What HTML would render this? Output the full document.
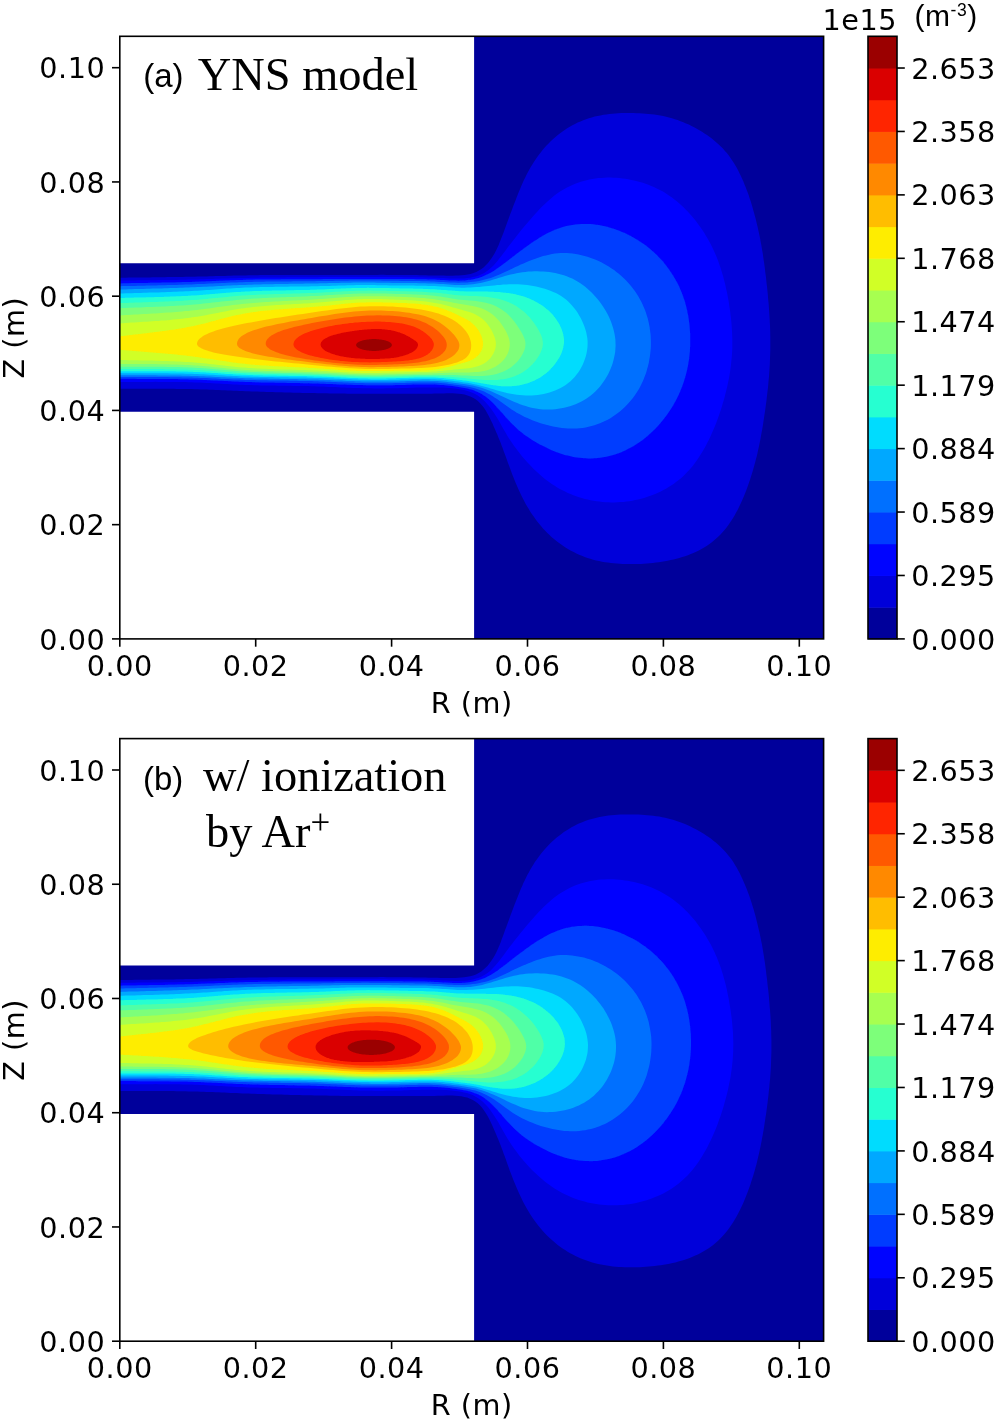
<!DOCTYPE html>
<html><head><meta charset="utf-8"><title>Figure</title>
<style>html,body{margin:0;padding:0;background:#fff;overflow:hidden}svg{display:block}</style></head>
<body><svg width="996" height="1421" viewBox="0 0 996 1421">
<defs><filter id="soft" x="-5%" y="-5%" width="110%" height="110%"><feGaussianBlur stdDeviation="0.7"/></filter></defs>
<rect width="996" height="1421" fill="#fff"/>
<clipPath id="clip36"><path d="M119.8,263.2 H474.1 V36.3 H823.6 V638.9 H474.1 V411.8 H119.8 Z"/></clipPath>
<g clip-path="url(#clip36)"><g filter="url(#soft)">
<rect x="107.8" y="24.299999999999997" width="727.8000000000001" height="626.6" fill="#00009b"/>
<path d="M89.8,278.2 L92.8,278.1 L95.8,278.1 L98.8,278.0 L101.8,278.0 L104.8,277.9 L107.8,277.9 L110.8,277.8 L113.8,277.8 L116.8,277.8 L119.8,277.7 L122.8,277.7 L125.8,277.7 L128.8,277.6 L131.8,277.6 L134.8,277.5 L137.8,277.5 L140.8,277.5 L143.8,277.4 L146.8,277.4 L149.8,277.4 L152.8,277.3 L155.8,277.3 L158.8,277.3 L161.8,277.2 L164.8,277.2 L167.8,277.1 L170.8,277.1 L173.8,277.1 L176.8,277.0 L179.8,277.0 L182.8,276.9 L185.8,276.8 L188.8,276.8 L191.8,276.7 L194.8,276.7 L197.8,276.6 L200.8,276.5 L203.8,276.4 L206.8,276.4 L209.8,276.3 L212.8,276.2 L215.8,276.1 L218.8,276.0 L221.8,275.9 L224.8,275.9 L227.8,275.8 L230.8,275.7 L233.8,275.6 L236.8,275.5 L239.8,275.5 L242.8,275.4 L245.7,275.4 L248.7,275.3 L251.7,275.3 L254.7,275.2 L257.7,275.2 L260.7,275.1 L263.7,275.1 L266.7,275.1 L269.7,275.0 L272.7,275.0 L275.7,275.0 L278.7,275.0 L281.7,275.0 L284.7,274.9 L287.7,274.9 L290.7,274.9 L293.7,274.9 L296.7,274.9 L299.7,274.9 L302.7,274.9 L305.7,274.9 L308.7,274.9 L311.7,274.9 L314.7,274.9 L317.7,274.9 L320.7,274.9 L323.7,274.9 L326.7,274.9 L329.7,274.9 L332.7,274.9 L335.7,274.9 L338.7,274.9 L341.7,274.9 L344.7,274.9 L347.7,274.9 L350.7,274.9 L353.7,274.9 L356.7,274.9 L359.7,274.9 L362.7,274.9 L365.7,274.9 L368.7,274.9 L371.7,274.9 L374.7,274.9 L377.7,274.9 L380.7,274.8 L383.7,274.8 L386.7,274.9 L389.7,274.9 L392.7,274.9 L395.7,274.9 L398.7,274.9 L401.7,274.9 L404.7,275.0 L407.7,275.0 L410.7,275.0 L413.7,275.1 L416.7,275.1 L419.7,275.2 L422.7,275.3 L425.7,275.3 L428.7,275.4 L431.7,275.4 L434.7,275.5 L437.7,275.5 L440.7,275.6 L443.7,275.6 L446.7,275.7 L449.7,275.7 L452.7,275.7 L455.7,275.6 L458.7,275.4 L461.7,275.2 L464.7,274.9 L467.6,274.5 L470.6,273.9 L473.5,273.0 L476.3,272.0 L478.9,270.6 L481.5,269.0 L483.8,267.2 L486.0,265.1 L488.0,262.9 L489.9,260.5 L491.7,258.1 L493.3,255.6 L494.8,253.0 L496.2,250.3 L497.5,247.6 L498.7,244.9 L499.8,242.1 L500.9,239.3 L502.0,236.5 L503.1,233.7 L504.1,230.9 L505.2,228.1 L506.2,225.3 L507.2,222.5 L508.3,219.6 L509.3,216.8 L510.3,214.0 L511.4,211.2 L512.4,208.4 L513.5,205.6 L514.6,202.8 L515.7,200.0 L516.7,197.2 L517.8,194.4 L519.0,191.6 L520.1,188.9 L521.3,186.1 L522.5,183.3 L523.7,180.6 L525.0,177.9 L526.3,175.2 L527.7,172.5 L529.1,169.9 L530.6,167.3 L532.2,164.7 L533.7,162.2 L535.4,159.7 L537.1,157.2 L538.9,154.8 L540.7,152.4 L542.6,150.1 L544.5,147.8 L546.5,145.6 L548.6,143.4 L550.7,141.3 L552.9,139.2 L555.2,137.2 L557.5,135.3 L559.8,133.5 L562.2,131.7 L564.7,130.0 L567.2,128.3 L569.8,126.8 L572.4,125.3 L575.0,123.9 L577.7,122.6 L580.5,121.4 L583.3,120.3 L586.1,119.2 L588.9,118.3 L591.8,117.4 L594.7,116.6 L597.6,116.0 L600.5,115.4 L603.5,114.8 L606.5,114.4 L609.4,114.0 L612.4,113.7 L615.4,113.5 L618.4,113.3 L621.4,113.1 L624.4,113.1 L627.4,113.0 L630.4,113.1 L633.4,113.1 L636.4,113.2 L639.4,113.3 L642.4,113.5 L645.4,113.7 L648.4,113.9 L651.4,114.2 L654.3,114.6 L657.3,115.0 L660.3,115.5 L663.2,116.1 L666.1,116.8 L669.0,117.5 L671.9,118.3 L674.8,119.2 L677.6,120.1 L680.5,121.2 L683.3,122.3 L686.0,123.4 L688.8,124.6 L691.5,125.9 L694.1,127.3 L696.8,128.7 L699.4,130.2 L702.0,131.7 L704.5,133.4 L707.0,135.0 L709.4,136.8 L711.8,138.6 L714.1,140.5 L716.4,142.4 L718.7,144.4 L720.8,146.5 L722.9,148.6 L724.9,150.9 L726.9,153.1 L728.8,155.5 L730.5,157.9 L732.2,160.4 L733.9,162.9 L735.4,165.5 L736.9,168.1 L738.3,170.7 L739.6,173.4 L740.9,176.1 L742.1,178.8 L743.4,181.6 L744.5,184.4 L745.6,187.1 L746.7,189.9 L747.8,192.8 L748.8,195.6 L749.7,198.4 L750.7,201.3 L751.5,204.1 L752.4,207.0 L753.2,209.9 L754.0,212.8 L754.8,215.7 L755.6,218.6 L756.3,221.5 L757.0,224.4 L757.7,227.3 L758.3,230.3 L759.0,233.2 L759.6,236.1 L760.2,239.1 L760.7,242.0 L761.3,245.0 L761.8,247.9 L762.3,250.9 L762.8,253.8 L763.2,256.8 L763.6,259.8 L764.1,262.7 L764.5,265.7 L764.9,268.7 L765.2,271.7 L765.6,274.6 L766.0,277.6 L766.3,280.6 L766.6,283.6 L767.0,286.6 L767.3,289.5 L767.6,292.5 L767.9,295.5 L768.1,298.5 L768.4,301.5 L768.7,304.5 L768.9,307.5 L769.1,310.5 L769.3,313.5 L769.5,316.4 L769.7,319.4 L769.8,322.4 L770.0,325.4 L770.1,328.4 L770.2,331.4 L770.2,334.4 L770.3,337.4 L770.3,340.4 L770.3,343.4 L770.3,346.4 L770.3,349.4 L770.2,352.4 L770.1,355.4 L770.0,358.4 L769.9,361.4 L769.8,364.4 L769.6,367.4 L769.4,370.4 L769.2,373.4 L769.0,376.4 L768.7,379.4 L768.4,382.4 L768.2,385.3 L767.9,388.3 L767.5,391.3 L767.2,394.3 L766.8,397.3 L766.5,400.3 L766.1,403.2 L765.7,406.2 L765.3,409.2 L764.9,412.1 L764.4,415.1 L764.0,418.1 L763.5,421.0 L763.1,424.0 L762.6,427.0 L762.1,429.9 L761.5,432.9 L761.0,435.8 L760.5,438.8 L759.9,441.7 L759.3,444.7 L758.7,447.6 L758.0,450.5 L757.4,453.4 L756.7,456.4 L755.9,459.3 L755.2,462.2 L754.4,465.1 L753.6,468.0 L752.8,470.8 L751.9,473.7 L751.0,476.6 L750.1,479.4 L749.1,482.3 L748.2,485.1 L747.1,487.9 L746.1,490.7 L745.0,493.5 L743.9,496.3 L742.7,499.1 L741.5,501.8 L740.2,504.5 L738.9,507.2 L737.6,509.9 L736.1,512.6 L734.7,515.2 L733.2,517.8 L731.6,520.3 L729.9,522.8 L728.2,525.3 L726.4,527.7 L724.5,530.0 L722.5,532.3 L720.5,534.5 L718.4,536.6 L716.2,538.6 L713.9,540.5 L711.5,542.4 L709.1,544.2 L706.6,545.9 L704.1,547.5 L701.5,549.0 L698.8,550.4 L696.2,551.7 L693.4,553.0 L690.7,554.1 L687.9,555.2 L685.0,556.2 L682.2,557.1 L679.3,558.0 L676.4,558.8 L673.5,559.5 L670.6,560.1 L667.6,560.7 L664.7,561.3 L661.7,561.8 L658.8,562.2 L655.8,562.6 L652.8,563.0 L649.8,563.3 L646.8,563.5 L643.8,563.7 L640.8,563.9 L637.8,564.0 L634.8,564.1 L631.8,564.1 L628.8,564.1 L625.8,564.1 L622.9,564.0 L619.9,563.8 L616.9,563.6 L613.9,563.3 L610.9,563.0 L607.9,562.6 L605.0,562.2 L602.0,561.7 L599.1,561.1 L596.1,560.4 L593.2,559.7 L590.3,558.8 L587.5,557.9 L584.7,556.9 L581.9,555.8 L579.1,554.7 L576.4,553.4 L573.7,552.1 L571.0,550.7 L568.4,549.2 L565.9,547.7 L563.3,546.0 L560.9,544.3 L558.4,542.6 L556.1,540.7 L553.7,538.8 L551.5,536.9 L549.3,534.8 L547.1,532.7 L545.0,530.6 L543.0,528.4 L541.0,526.1 L539.1,523.8 L537.2,521.5 L535.4,519.1 L533.7,516.6 L532.0,514.2 L530.3,511.7 L528.8,509.1 L527.2,506.5 L525.7,503.9 L524.3,501.3 L522.9,498.6 L521.6,495.9 L520.3,493.2 L519.0,490.5 L517.8,487.8 L516.6,485.0 L515.4,482.3 L514.3,479.5 L513.2,476.7 L512.1,473.9 L511.0,471.1 L510.0,468.3 L509.0,465.5 L507.9,462.7 L506.9,459.8 L505.9,457.0 L504.9,454.2 L503.8,451.4 L502.8,448.6 L501.7,445.8 L500.7,443.0 L499.6,440.2 L498.4,437.4 L497.3,434.6 L496.1,431.9 L494.9,429.1 L493.7,426.4 L492.5,423.6 L491.2,420.9 L489.9,418.2 L488.5,415.5 L487.1,412.9 L485.6,410.3 L483.9,407.8 L482.1,405.5 L480.1,403.2 L477.9,401.1 L475.5,399.3 L473.0,397.7 L470.3,396.4 L467.5,395.4 L464.6,394.6 L461.6,394.1 L458.7,393.7 L455.7,393.5 L452.7,393.3 L449.7,393.3 L446.7,393.3 L443.7,393.4 L440.7,393.5 L437.7,393.5 L434.7,393.6 L431.7,393.7 L428.7,393.7 L425.7,393.7 L422.7,393.8 L419.7,393.8 L416.7,393.8 L413.7,393.8 L410.7,393.8 L407.7,393.8 L404.7,393.8 L401.7,393.8 L398.7,393.8 L395.7,393.8 L392.7,393.8 L389.7,393.8 L386.7,393.8 L383.7,393.8 L380.7,393.8 L377.7,393.8 L374.7,393.8 L371.7,393.8 L368.7,393.8 L365.7,393.8 L362.7,393.8 L359.7,393.8 L356.7,393.7 L353.7,393.7 L350.7,393.7 L347.7,393.7 L344.7,393.6 L341.7,393.6 L338.7,393.5 L335.7,393.5 L332.7,393.4 L329.7,393.4 L326.7,393.3 L323.7,393.3 L320.7,393.2 L317.7,393.2 L314.7,393.1 L311.7,393.1 L308.7,393.0 L305.7,392.9 L302.7,392.9 L299.7,392.8 L296.7,392.7 L293.7,392.7 L290.7,392.6 L287.7,392.5 L284.7,392.4 L281.7,392.3 L278.7,392.3 L275.7,392.2 L272.7,392.1 L269.7,392.0 L266.7,391.9 L263.7,391.8 L260.7,391.7 L257.7,391.6 L254.7,391.5 L251.7,391.4 L248.7,391.3 L245.7,391.2 L242.7,391.1 L239.7,390.9 L236.7,390.8 L233.7,390.7 L230.7,390.6 L227.8,390.4 L224.8,390.3 L221.8,390.2 L218.8,390.0 L215.8,389.9 L212.8,389.8 L209.8,389.7 L206.8,389.6 L203.8,389.5 L200.8,389.4 L197.8,389.3 L194.8,389.2 L191.8,389.1 L188.8,389.1 L185.8,389.0 L182.8,388.9 L179.8,388.9 L176.8,388.9 L173.8,388.8 L170.8,388.8 L167.8,388.8 L164.8,388.8 L161.8,388.8 L158.8,388.7 L155.8,388.7 L152.8,388.7 L149.8,388.7 L146.8,388.7 L143.8,388.7 L140.8,388.7 L137.8,388.7 L134.8,388.7 L131.8,388.7 L128.8,388.7 L125.8,388.7 L122.8,388.7 L119.8,388.7 L116.8,388.7 L113.8,388.7 L110.8,388.7 L107.8,388.6 L104.8,388.6 L101.8,388.6 L98.8,388.6 L95.8,388.5 L92.8,388.5 L89.8,388.5Z" fill="#0000da" transform="translate(0,0.00)"/>
<path d="M89.8,281.0 L92.8,280.9 L95.8,280.9 L98.8,280.8 L101.8,280.8 L104.8,280.7 L107.8,280.7 L110.8,280.7 L113.8,280.6 L116.8,280.6 L119.7,280.5 L122.7,280.5 L125.7,280.5 L128.7,280.4 L131.7,280.4 L134.7,280.4 L137.7,280.3 L140.7,280.3 L143.7,280.3 L146.7,280.3 L149.7,280.2 L152.7,280.2 L155.7,280.2 L158.7,280.1 L161.7,280.1 L164.7,280.0 L167.7,280.0 L170.7,280.0 L173.7,279.9 L176.7,279.9 L179.7,279.8 L182.6,279.8 L185.6,279.7 L188.6,279.6 L191.6,279.6 L194.6,279.5 L197.6,279.4 L200.6,279.3 L203.6,279.2 L206.6,279.1 L209.6,279.0 L212.6,278.9 L215.6,278.8 L218.6,278.7 L221.6,278.6 L224.6,278.5 L227.6,278.4 L230.5,278.3 L233.5,278.3 L236.5,278.2 L239.5,278.1 L242.5,278.0 L245.5,277.9 L248.5,277.9 L251.5,277.8 L254.5,277.7 L257.5,277.7 L260.5,277.6 L263.5,277.6 L266.5,277.6 L269.5,277.5 L272.5,277.5 L275.5,277.4 L278.5,277.4 L281.5,277.4 L284.5,277.4 L287.4,277.3 L290.4,277.3 L293.4,277.3 L296.4,277.3 L299.4,277.3 L302.4,277.2 L305.4,277.2 L308.4,277.2 L311.4,277.2 L314.4,277.2 L317.4,277.2 L320.4,277.1 L323.4,277.1 L326.4,277.1 L329.4,277.1 L332.4,277.1 L335.4,277.0 L338.4,277.0 L341.4,277.0 L344.4,277.0 L347.4,277.0 L350.3,277.0 L353.3,276.9 L356.3,276.9 L359.3,276.9 L362.3,276.9 L365.3,276.9 L368.3,277.0 L371.3,277.0 L374.3,277.0 L377.3,277.0 L380.3,277.0 L383.3,277.0 L386.3,277.0 L389.3,277.1 L392.3,277.1 L395.3,277.1 L398.3,277.1 L401.3,277.1 L404.3,277.2 L407.3,277.2 L410.3,277.2 L413.2,277.2 L416.2,277.3 L419.2,277.3 L422.2,277.3 L425.2,277.4 L428.2,277.5 L431.2,277.6 L434.2,277.7 L437.2,277.8 L440.2,277.9 L443.2,278.1 L446.2,278.3 L449.2,278.4 L452.2,278.5 L455.2,278.6 L458.1,278.6 L461.1,278.5 L464.1,278.4 L467.1,278.1 L470.1,277.7 L473.0,277.1 L475.9,276.4 L478.8,275.4 L481.5,274.2 L484.2,272.9 L486.7,271.2 L489.1,269.4 L491.3,267.5 L493.5,265.4 L495.5,263.2 L497.5,260.9 L499.3,258.6 L501.2,256.2 L503.0,253.8 L504.8,251.4 L506.6,249.0 L508.4,246.6 L510.2,244.3 L512.0,241.9 L513.9,239.5 L515.7,237.2 L517.6,234.8 L519.4,232.5 L521.3,230.1 L523.2,227.8 L525.1,225.5 L527.1,223.2 L529.0,220.9 L531.0,218.7 L532.9,216.4 L534.9,214.2 L537.0,212.0 L539.0,209.8 L541.1,207.6 L543.2,205.5 L545.4,203.4 L547.5,201.4 L549.8,199.4 L552.1,197.5 L554.4,195.6 L556.8,193.8 L559.3,192.1 L561.8,190.5 L564.4,188.9 L567.0,187.5 L569.7,186.2 L572.4,184.9 L575.2,183.8 L578.0,182.7 L580.8,181.8 L583.7,180.9 L586.6,180.2 L589.5,179.5 L592.4,179.0 L595.4,178.5 L598.4,178.1 L601.4,177.9 L604.4,177.7 L607.3,177.6 L610.3,177.6 L613.3,177.7 L616.3,177.8 L619.3,178.1 L622.3,178.4 L625.3,178.8 L628.2,179.3 L631.2,179.9 L634.1,180.5 L637.0,181.2 L639.9,182.0 L642.8,182.8 L645.6,183.8 L648.4,184.8 L651.2,185.9 L653.9,187.1 L656.7,188.4 L659.3,189.7 L662.0,191.1 L664.6,192.6 L667.1,194.2 L669.6,195.9 L672.0,197.6 L674.4,199.4 L676.8,201.3 L679.1,203.2 L681.3,205.2 L683.5,207.2 L685.6,209.4 L687.7,211.5 L689.7,213.7 L691.7,216.0 L693.6,218.3 L695.5,220.6 L697.3,223.0 L699.1,225.4 L700.8,227.8 L702.5,230.3 L704.2,232.8 L705.7,235.4 L707.3,237.9 L708.7,240.5 L710.2,243.2 L711.5,245.8 L712.8,248.5 L714.1,251.2 L715.3,254.0 L716.5,256.8 L717.6,259.5 L718.6,262.3 L719.6,265.2 L720.6,268.0 L721.5,270.9 L722.3,273.7 L723.2,276.6 L723.9,279.5 L724.7,282.4 L725.4,285.3 L726.0,288.2 L726.7,291.2 L727.3,294.1 L727.8,297.0 L728.4,300.0 L728.9,302.9 L729.3,305.9 L729.8,308.9 L730.2,311.8 L730.5,314.8 L730.9,317.8 L731.2,320.8 L731.5,323.7 L731.7,326.7 L731.9,329.7 L732.1,332.7 L732.2,335.7 L732.3,338.7 L732.3,341.7 L732.3,344.7 L732.3,347.7 L732.2,350.7 L732.0,353.7 L731.8,356.6 L731.5,359.6 L731.2,362.6 L730.9,365.6 L730.5,368.6 L730.1,371.5 L729.6,374.5 L729.1,377.4 L728.5,380.4 L727.9,383.3 L727.3,386.2 L726.6,389.1 L725.9,392.1 L725.1,395.0 L724.4,397.9 L723.6,400.7 L722.7,403.6 L721.9,406.5 L721.0,409.3 L720.0,412.2 L719.1,415.0 L718.1,417.8 L717.0,420.7 L716.0,423.5 L714.9,426.2 L713.7,429.0 L712.5,431.8 L711.3,434.5 L710.1,437.2 L708.8,439.9 L707.4,442.6 L706.1,445.3 L704.6,447.9 L703.1,450.5 L701.6,453.1 L700.0,455.6 L698.4,458.1 L696.7,460.6 L694.9,463.0 L693.1,465.4 L691.2,467.7 L689.2,469.9 L687.2,472.1 L685.1,474.3 L682.9,476.4 L680.7,478.4 L678.4,480.3 L676.0,482.1 L673.6,483.9 L671.1,485.6 L668.6,487.1 L666.0,488.7 L663.4,490.1 L660.7,491.4 L658.0,492.7 L655.2,493.9 L652.5,495.0 L649.7,496.1 L646.8,497.0 L644.0,497.9 L641.1,498.7 L638.2,499.5 L635.2,500.1 L632.3,500.7 L629.3,501.2 L626.4,501.6 L623.4,501.9 L620.4,502.1 L617.4,502.3 L614.4,502.4 L611.4,502.4 L608.4,502.3 L605.5,502.2 L602.5,501.9 L599.5,501.6 L596.5,501.2 L593.6,500.7 L590.6,500.2 L587.7,499.6 L584.8,498.9 L581.9,498.1 L579.0,497.2 L576.2,496.3 L573.4,495.2 L570.6,494.1 L567.8,492.9 L565.1,491.6 L562.5,490.3 L559.8,488.9 L557.2,487.4 L554.7,485.8 L552.2,484.2 L549.7,482.5 L547.3,480.7 L544.9,478.9 L542.6,477.0 L540.3,475.0 L538.1,473.1 L535.9,471.0 L533.7,468.9 L531.6,466.8 L529.5,464.6 L527.5,462.4 L525.5,460.2 L523.5,457.9 L521.6,455.7 L519.7,453.3 L517.9,451.0 L516.1,448.6 L514.3,446.2 L512.6,443.7 L510.9,441.3 L509.2,438.8 L507.6,436.2 L506.1,433.6 L504.6,431.1 L503.1,428.5 L501.6,425.8 L500.2,423.2 L498.7,420.6 L497.2,418.1 L495.6,415.5 L494.0,413.0 L492.3,410.5 L490.5,408.1 L488.7,405.7 L486.7,403.4 L484.7,401.3 L482.5,399.2 L480.2,397.3 L477.7,395.6 L475.1,394.1 L472.4,392.8 L469.7,391.7 L466.8,390.8 L463.9,390.1 L461.0,389.5 L458.0,389.0 L455.0,388.6 L452.1,388.2 L449.1,388.0 L446.1,387.8 L443.1,387.6 L440.1,387.5 L437.1,387.4 L434.1,387.4 L431.1,387.4 L428.1,387.4 L425.1,387.4 L422.1,387.5 L419.1,387.6 L416.2,387.6 L413.2,387.7 L410.2,387.8 L407.2,387.9 L404.2,388.0 L401.2,388.1 L398.2,388.2 L395.2,388.2 L392.2,388.3 L389.2,388.3 L386.2,388.3 L383.2,388.4 L380.2,388.4 L377.2,388.4 L374.2,388.4 L371.2,388.3 L368.2,388.3 L365.2,388.2 L362.2,388.2 L359.3,388.1 L356.3,388.0 L353.3,387.9 L350.3,387.8 L347.3,387.7 L344.3,387.5 L341.3,387.4 L338.3,387.3 L335.3,387.1 L332.3,387.0 L329.3,386.9 L326.3,386.7 L323.3,386.6 L320.3,386.5 L317.4,386.4 L314.4,386.3 L311.4,386.2 L308.4,386.1 L305.4,386.1 L302.4,386.0 L299.4,386.0 L296.4,385.9 L293.4,385.9 L290.4,385.8 L287.4,385.8 L284.4,385.7 L281.4,385.7 L278.4,385.7 L275.4,385.6 L272.4,385.6 L269.4,385.5 L266.4,385.5 L263.4,385.4 L260.5,385.4 L257.5,385.3 L254.5,385.2 L251.5,385.1 L248.5,385.0 L245.5,384.9 L242.5,384.8 L239.5,384.7 L236.5,384.6 L233.5,384.4 L230.5,384.3 L227.5,384.1 L224.5,383.9 L221.6,383.8 L218.6,383.6 L215.6,383.4 L212.6,383.3 L209.6,383.1 L206.6,382.9 L203.6,382.8 L200.6,382.6 L197.6,382.5 L194.6,382.4 L191.6,382.3 L188.6,382.2 L185.6,382.1 L182.7,382.1 L179.7,382.0 L176.7,382.0 L173.7,381.9 L170.7,381.9 L167.7,381.9 L164.7,381.9 L161.7,381.9 L158.7,381.9 L155.7,381.8 L152.7,381.9 L149.7,381.9 L146.7,381.9 L143.7,381.9 L140.7,381.9 L137.7,381.9 L134.7,381.9 L131.7,381.9 L128.7,381.9 L125.7,381.9 L122.7,381.9 L119.8,381.9 L116.8,381.9 L113.8,381.9 L110.8,381.9 L107.8,381.9 L104.8,381.9 L101.8,381.8 L98.8,381.8 L95.8,381.8 L92.8,381.8 L89.8,381.7Z" fill="#0004ff" transform="translate(0,0.00)"/>
<path d="M89.8,284.0 L92.8,283.9 L95.8,283.9 L98.8,283.8 L101.8,283.7 L104.8,283.7 L107.8,283.6 L110.8,283.5 L113.8,283.5 L116.8,283.4 L119.8,283.4 L122.8,283.3 L125.8,283.3 L128.8,283.2 L131.8,283.1 L134.8,283.1 L137.8,283.0 L140.8,283.0 L143.8,282.9 L146.8,282.9 L149.8,282.8 L152.8,282.8 L155.8,282.7 L158.8,282.7 L161.8,282.6 L164.8,282.6 L167.8,282.5 L170.8,282.4 L173.8,282.4 L176.8,282.3 L179.8,282.2 L182.7,282.1 L185.7,282.0 L188.7,282.0 L191.7,281.9 L194.7,281.8 L197.7,281.7 L200.7,281.5 L203.7,281.4 L206.7,281.3 L209.7,281.2 L212.7,281.1 L215.7,280.9 L218.7,280.8 L221.7,280.7 L224.7,280.5 L227.7,280.4 L230.7,280.3 L233.7,280.2 L236.7,280.1 L239.7,280.0 L242.7,279.9 L245.7,279.8 L248.7,279.8 L251.7,279.7 L254.7,279.6 L257.7,279.6 L260.7,279.5 L263.7,279.5 L266.7,279.5 L269.7,279.4 L272.7,279.4 L275.7,279.4 L278.7,279.4 L281.7,279.3 L284.7,279.3 L287.7,279.3 L290.7,279.3 L293.7,279.3 L296.7,279.3 L299.7,279.3 L302.7,279.3 L305.7,279.2 L308.7,279.2 L311.7,279.2 L314.7,279.2 L317.7,279.2 L320.7,279.2 L323.7,279.1 L326.6,279.1 L329.6,279.1 L332.6,279.1 L335.6,279.0 L338.6,279.0 L341.6,279.0 L344.6,278.9 L347.6,278.9 L350.6,278.9 L353.6,278.9 L356.6,278.9 L359.6,278.9 L362.6,278.9 L365.6,278.9 L368.6,278.9 L371.6,278.9 L374.6,278.9 L377.6,278.9 L380.6,278.9 L383.6,278.9 L386.6,279.0 L389.6,279.0 L392.6,279.0 L395.6,279.0 L398.6,279.0 L401.6,279.0 L404.6,279.1 L407.6,279.1 L410.6,279.1 L413.6,279.1 L416.6,279.2 L419.6,279.2 L422.6,279.2 L425.6,279.3 L428.6,279.4 L431.6,279.5 L434.6,279.6 L437.6,279.7 L440.6,279.9 L443.6,280.1 L446.6,280.3 L449.6,280.4 L452.6,280.6 L455.6,280.6 L458.6,280.7 L461.6,280.6 L464.6,280.4 L467.5,280.1 L470.5,279.7 L473.5,279.2 L476.4,278.5 L479.3,277.7 L482.1,276.7 L484.9,275.6 L487.6,274.3 L490.2,272.9 L492.8,271.4 L495.4,269.8 L497.8,268.1 L500.3,266.3 L502.7,264.6 L505.1,262.8 L507.5,261.0 L509.9,259.1 L512.2,257.3 L514.6,255.5 L517.0,253.6 L519.4,251.8 L521.8,250.0 L524.2,248.2 L526.6,246.4 L529.0,244.7 L531.5,243.0 L534.0,241.3 L536.5,239.7 L539.0,238.1 L541.6,236.5 L544.2,235.0 L546.8,233.6 L549.5,232.2 L552.2,231.0 L555.0,229.8 L557.8,228.7 L560.6,227.7 L563.5,226.8 L566.4,226.1 L569.3,225.4 L572.3,224.9 L575.2,224.5 L578.2,224.2 L581.2,224.0 L584.2,223.9 L587.2,224.0 L590.2,224.1 L593.2,224.3 L596.2,224.7 L599.1,225.1 L602.1,225.7 L605.0,226.3 L607.9,227.1 L610.8,227.9 L613.7,228.8 L616.5,229.7 L619.3,230.8 L622.1,231.9 L624.8,233.1 L627.5,234.4 L630.2,235.8 L632.9,237.2 L635.5,238.7 L638.0,240.2 L640.5,241.9 L643.0,243.5 L645.5,245.3 L647.8,247.1 L650.2,249.0 L652.4,251.0 L654.7,253.0 L656.8,255.1 L658.9,257.2 L661.0,259.4 L663.0,261.6 L664.9,263.9 L666.7,266.3 L668.5,268.7 L670.2,271.2 L671.9,273.7 L673.5,276.2 L675.0,278.8 L676.5,281.4 L677.9,284.1 L679.2,286.8 L680.4,289.5 L681.6,292.3 L682.6,295.1 L683.6,297.9 L684.6,300.7 L685.4,303.6 L686.2,306.5 L686.9,309.4 L687.5,312.4 L688.1,315.3 L688.6,318.3 L689.0,321.2 L689.4,324.2 L689.7,327.2 L689.9,330.2 L690.1,333.2 L690.2,336.2 L690.2,339.2 L690.2,342.2 L690.2,345.2 L690.0,348.2 L689.9,351.2 L689.6,354.2 L689.3,357.1 L688.9,360.1 L688.4,363.1 L687.9,366.0 L687.3,369.0 L686.6,371.9 L685.9,374.8 L685.0,377.7 L684.2,380.5 L683.2,383.4 L682.2,386.2 L681.1,389.0 L680.0,391.8 L678.8,394.5 L677.5,397.2 L676.1,399.9 L674.7,402.5 L673.2,405.2 L671.7,407.7 L670.1,410.3 L668.4,412.7 L666.7,415.2 L664.9,417.6 L663.0,420.0 L661.1,422.3 L659.2,424.6 L657.2,426.8 L655.1,428.9 L653.0,431.1 L650.8,433.1 L648.6,435.1 L646.3,437.1 L643.9,438.9 L641.5,440.7 L639.1,442.5 L636.6,444.1 L634.0,445.7 L631.4,447.2 L628.8,448.6 L626.1,450.0 L623.4,451.2 L620.6,452.4 L617.8,453.4 L615.0,454.4 L612.1,455.3 L609.2,456.0 L606.3,456.7 L603.3,457.2 L600.4,457.7 L597.4,458.0 L594.4,458.3 L591.4,458.4 L588.4,458.4 L585.4,458.3 L582.4,458.1 L579.4,457.8 L576.5,457.4 L573.5,456.9 L570.6,456.3 L567.6,455.6 L564.7,454.9 L561.9,454.0 L559.0,453.0 L556.2,452.0 L553.4,450.9 L550.7,449.7 L548.0,448.4 L545.3,447.1 L542.6,445.8 L539.9,444.4 L537.3,442.9 L534.7,441.4 L532.1,439.9 L529.6,438.3 L527.1,436.6 L524.7,434.9 L522.3,433.0 L520.0,431.2 L517.7,429.2 L515.5,427.2 L513.3,425.1 L511.2,423.0 L509.1,420.8 L507.1,418.6 L505.1,416.4 L503.1,414.1 L501.1,411.9 L499.1,409.6 L497.1,407.4 L495.1,405.2 L493.0,403.1 L490.8,401.0 L488.6,399.0 L486.2,397.1 L483.8,395.4 L481.2,393.8 L478.6,392.4 L475.9,391.2 L473.1,390.1 L470.2,389.3 L467.3,388.5 L464.3,387.9 L461.4,387.4 L458.4,387.0 L455.4,386.5 L452.5,386.1 L449.5,385.7 L446.5,385.4 L443.5,385.1 L440.5,384.9 L437.6,384.7 L434.6,384.6 L431.6,384.5 L428.6,384.4 L425.6,384.4 L422.6,384.4 L419.6,384.5 L416.6,384.6 L413.6,384.6 L410.6,384.7 L407.6,384.8 L404.6,384.9 L401.6,385.0 L398.6,385.1 L395.6,385.1 L392.6,385.2 L389.6,385.3 L386.6,385.3 L383.6,385.3 L380.6,385.3 L377.6,385.3 L374.6,385.3 L371.6,385.3 L368.6,385.2 L365.6,385.2 L362.6,385.1 L359.6,385.1 L356.6,385.0 L353.6,384.9 L350.6,384.8 L347.6,384.7 L344.6,384.6 L341.6,384.5 L338.6,384.4 L335.6,384.2 L332.6,384.1 L329.6,384.0 L326.6,383.9 L323.6,383.8 L320.6,383.7 L317.6,383.6 L314.6,383.5 L311.6,383.4 L308.6,383.3 L305.6,383.3 L302.6,383.2 L299.6,383.1 L296.7,383.1 L293.7,383.0 L290.7,383.0 L287.7,382.9 L284.7,382.8 L281.7,382.8 L278.7,382.7 L275.7,382.7 L272.7,382.6 L269.7,382.6 L266.7,382.5 L263.7,382.4 L260.7,382.4 L257.7,382.3 L254.7,382.2 L251.7,382.1 L248.7,382.0 L245.7,381.9 L242.7,381.8 L239.7,381.7 L236.7,381.6 L233.7,381.4 L230.7,381.3 L227.7,381.1 L224.7,381.0 L221.7,380.8 L218.7,380.7 L215.7,380.5 L212.7,380.4 L209.7,380.2 L206.7,380.1 L203.7,379.9 L200.7,379.8 L197.8,379.7 L194.8,379.6 L191.8,379.5 L188.8,379.4 L185.8,379.3 L182.8,379.3 L179.8,379.2 L176.8,379.1 L173.8,379.1 L170.8,379.1 L167.8,379.0 L164.8,379.0 L161.8,379.0 L158.8,378.9 L155.8,378.9 L152.8,378.9 L149.8,378.9 L146.8,378.9 L143.8,378.9 L140.8,378.9 L137.8,378.9 L134.8,378.8 L131.8,378.8 L128.8,378.8 L125.8,378.8 L122.8,378.8 L119.8,378.8 L116.8,378.8 L113.8,378.7 L110.8,378.7 L107.8,378.7 L104.8,378.6 L101.8,378.6 L98.8,378.6 L95.8,378.5 L92.8,378.5 L89.8,378.4Z" fill="#003cff" transform="translate(0,0.00)"/>
<path d="M89.8,286.9 L92.8,286.9 L95.8,286.8 L98.8,286.7 L101.8,286.6 L104.8,286.6 L107.8,286.5 L110.8,286.4 L113.8,286.3 L116.8,286.3 L119.7,286.2 L122.7,286.1 L125.7,286.0 L128.7,286.0 L131.7,285.9 L134.7,285.9 L137.7,285.8 L140.7,285.7 L143.7,285.7 L146.7,285.6 L149.7,285.5 L152.7,285.5 L155.7,285.4 L158.7,285.3 L161.7,285.3 L164.7,285.2 L167.7,285.1 L170.7,285.0 L173.7,285.0 L176.6,284.9 L179.6,284.8 L182.6,284.7 L185.6,284.6 L188.6,284.5 L191.6,284.4 L194.6,284.3 L197.6,284.1 L200.6,284.0 L203.6,283.9 L206.6,283.7 L209.6,283.6 L212.6,283.5 L215.6,283.3 L218.5,283.2 L221.5,283.0 L224.5,282.9 L227.5,282.8 L230.5,282.6 L233.5,282.5 L236.5,282.4 L239.5,282.3 L242.5,282.2 L245.5,282.1 L248.5,282.0 L251.5,281.9 L254.5,281.8 L257.5,281.8 L260.5,281.7 L263.5,281.7 L266.4,281.6 L269.4,281.6 L272.4,281.5 L275.4,281.5 L278.4,281.5 L281.4,281.4 L284.4,281.4 L287.4,281.4 L290.4,281.4 L293.4,281.3 L296.4,281.3 L299.4,281.3 L302.4,281.3 L305.4,281.2 L308.4,281.2 L311.4,281.2 L314.4,281.2 L317.4,281.1 L320.4,281.1 L323.4,281.0 L326.4,281.0 L329.4,280.9 L332.3,280.9 L335.3,280.8 L338.3,280.8 L341.3,280.8 L344.3,280.7 L347.3,280.7 L350.3,280.6 L353.3,280.6 L356.3,280.6 L359.3,280.6 L362.3,280.5 L365.3,280.5 L368.3,280.5 L371.3,280.6 L374.3,280.6 L377.3,280.6 L380.3,280.6 L383.3,280.7 L386.3,280.7 L389.3,280.7 L392.3,280.8 L395.2,280.8 L398.2,280.8 L401.2,280.9 L404.2,280.9 L407.2,280.9 L410.2,281.0 L413.2,281.0 L416.2,281.1 L419.2,281.1 L422.2,281.2 L425.2,281.3 L428.2,281.3 L431.2,281.4 L434.2,281.6 L437.2,281.7 L440.2,281.9 L443.2,282.0 L446.1,282.2 L449.1,282.4 L452.1,282.5 L455.1,282.6 L458.1,282.7 L461.1,282.6 L464.1,282.5 L467.1,282.4 L470.1,282.1 L473.1,281.8 L476.0,281.4 L479.0,280.9 L481.9,280.3 L484.8,279.6 L487.7,278.8 L490.6,277.9 L493.4,276.9 L496.2,275.8 L499.0,274.7 L501.7,273.5 L504.4,272.2 L507.2,271.0 L509.9,269.7 L512.6,268.4 L515.3,267.1 L518.0,265.9 L520.7,264.6 L523.5,263.4 L526.2,262.2 L529.0,261.1 L531.8,260.0 L534.6,259.0 L537.4,258.0 L540.2,257.0 L543.1,256.1 L546.0,255.4 L548.9,254.7 L551.9,254.1 L554.8,253.6 L557.8,253.3 L560.8,253.1 L563.8,253.1 L566.8,253.1 L569.8,253.3 L572.7,253.6 L575.7,254.1 L578.7,254.6 L581.6,255.2 L584.5,255.9 L587.4,256.8 L590.2,257.7 L593.0,258.7 L595.8,259.8 L598.6,261.0 L601.3,262.3 L603.9,263.7 L606.5,265.2 L609.1,266.7 L611.6,268.4 L614.1,270.1 L616.4,271.9 L618.8,273.8 L621.1,275.7 L623.3,277.7 L625.4,279.8 L627.5,282.0 L629.5,284.2 L631.4,286.5 L633.3,288.9 L635.0,291.3 L636.7,293.8 L638.3,296.3 L639.8,298.9 L641.2,301.5 L642.5,304.2 L643.7,307.0 L644.9,309.7 L645.9,312.6 L646.8,315.4 L647.7,318.3 L648.4,321.2 L649.0,324.1 L649.6,327.1 L650.0,330.0 L650.4,333.0 L650.7,336.0 L650.8,339.0 L650.9,342.0 L650.9,345.0 L650.8,347.9 L650.5,350.9 L650.2,353.9 L649.8,356.9 L649.3,359.8 L648.8,362.8 L648.1,365.7 L647.3,368.6 L646.5,371.5 L645.6,374.3 L644.5,377.1 L643.4,379.9 L642.2,382.6 L640.9,385.3 L639.5,388.0 L638.0,390.6 L636.4,393.1 L634.7,395.6 L632.9,398.0 L631.0,400.3 L629.1,402.6 L627.0,404.8 L624.9,406.9 L622.7,409.0 L620.5,410.9 L618.2,412.8 L615.8,414.6 L613.3,416.3 L610.8,417.9 L608.2,419.4 L605.5,420.8 L602.8,422.1 L600.0,423.3 L597.2,424.3 L594.4,425.3 L591.5,426.1 L588.6,426.8 L585.7,427.4 L582.7,427.9 L579.7,428.2 L576.8,428.5 L573.8,428.6 L570.8,428.6 L567.8,428.5 L564.8,428.3 L561.8,428.0 L558.8,427.6 L555.9,427.1 L553.0,426.5 L550.0,425.8 L547.1,425.1 L544.2,424.3 L541.4,423.4 L538.5,422.5 L535.7,421.5 L532.9,420.5 L530.1,419.3 L527.4,418.1 L524.7,416.9 L522.0,415.5 L519.3,414.1 L516.7,412.7 L514.2,411.1 L511.6,409.5 L509.2,407.8 L506.7,406.1 L504.3,404.3 L501.8,402.6 L499.4,400.8 L497.0,399.1 L494.5,397.4 L492.0,395.8 L489.4,394.3 L486.8,392.9 L484.1,391.6 L481.3,390.4 L478.5,389.4 L475.6,388.4 L472.7,387.7 L469.8,387.0 L466.9,386.4 L463.9,386.0 L461.0,385.5 L458.0,385.1 L455.0,384.7 L452.1,384.3 L449.1,383.9 L446.1,383.6 L443.1,383.3 L440.1,383.0 L437.2,382.8 L434.2,382.6 L431.2,382.5 L428.2,382.5 L425.2,382.5 L422.2,382.5 L419.2,382.5 L416.2,382.6 L413.2,382.6 L410.2,382.7 L407.2,382.8 L404.2,382.9 L401.2,383.0 L398.2,383.1 L395.2,383.1 L392.2,383.2 L389.2,383.2 L386.2,383.3 L383.3,383.3 L380.3,383.3 L377.3,383.3 L374.3,383.3 L371.3,383.3 L368.3,383.2 L365.3,383.2 L362.3,383.1 L359.3,383.0 L356.3,382.9 L353.3,382.8 L350.3,382.7 L347.3,382.6 L344.3,382.5 L341.3,382.3 L338.3,382.2 L335.3,382.1 L332.4,381.9 L329.4,381.8 L326.4,381.7 L323.4,381.5 L320.4,381.4 L317.4,381.3 L314.4,381.2 L311.4,381.1 L308.4,381.1 L305.4,381.0 L302.4,380.9 L299.4,380.9 L296.4,380.8 L293.4,380.7 L290.4,380.7 L287.4,380.6 L284.4,380.6 L281.5,380.6 L278.5,380.5 L275.5,380.5 L272.5,380.4 L269.5,380.4 L266.5,380.3 L263.5,380.3 L260.5,380.2 L257.5,380.2 L254.5,380.1 L251.5,380.0 L248.5,379.9 L245.5,379.9 L242.5,379.8 L239.5,379.6 L236.5,379.5 L233.5,379.4 L230.5,379.3 L227.6,379.1 L224.6,379.0 L221.6,378.9 L218.6,378.7 L215.6,378.6 L212.6,378.4 L209.6,378.3 L206.6,378.1 L203.6,378.0 L200.6,377.9 L197.6,377.8 L194.6,377.7 L191.6,377.6 L188.6,377.5 L185.7,377.4 L182.7,377.4 L179.7,377.3 L176.7,377.2 L173.7,377.2 L170.7,377.2 L167.7,377.1 L164.7,377.1 L161.7,377.1 L158.7,377.0 L155.7,377.0 L152.7,377.0 L149.7,377.0 L146.7,377.0 L143.7,377.0 L140.7,377.0 L137.7,376.9 L134.7,376.9 L131.7,376.9 L128.7,376.9 L125.7,376.9 L122.7,376.9 L119.8,376.9 L116.8,376.8 L113.8,376.8 L110.8,376.8 L107.8,376.8 L104.8,376.7 L101.8,376.7 L98.8,376.6 L95.8,376.6 L92.8,376.6 L89.8,376.5Z" fill="#0070ff" transform="translate(0,0.00)"/>
<path d="M89.8,290.5 L92.8,290.4 L95.8,290.3 L98.8,290.2 L101.8,290.1 L104.8,290.0 L107.8,289.9 L110.8,289.8 L113.7,289.7 L116.7,289.7 L119.7,289.6 L122.7,289.5 L125.7,289.4 L128.7,289.3 L131.7,289.2 L134.7,289.1 L137.7,289.1 L140.7,289.0 L143.7,288.9 L146.7,288.8 L149.7,288.7 L152.7,288.6 L155.7,288.6 L158.7,288.5 L161.7,288.4 L164.6,288.3 L167.6,288.2 L170.6,288.1 L173.6,288.0 L176.6,287.9 L179.6,287.8 L182.6,287.7 L185.6,287.6 L188.6,287.5 L191.6,287.3 L194.6,287.2 L197.6,287.1 L200.6,286.9 L203.6,286.8 L206.5,286.7 L209.5,286.5 L212.5,286.4 L215.5,286.2 L218.5,286.1 L221.5,285.9 L224.5,285.8 L227.5,285.6 L230.5,285.5 L233.5,285.3 L236.5,285.2 L239.5,285.1 L242.5,285.0 L245.4,284.9 L248.4,284.8 L251.4,284.7 L254.4,284.6 L257.4,284.5 L260.4,284.4 L263.4,284.3 L266.4,284.3 L269.4,284.2 L272.4,284.2 L275.4,284.1 L278.4,284.0 L281.4,284.0 L284.4,283.9 L287.4,283.9 L290.4,283.8 L293.4,283.8 L296.4,283.8 L299.3,283.7 L302.3,283.7 L305.3,283.6 L308.3,283.6 L311.3,283.5 L314.3,283.4 L317.3,283.4 L320.3,283.3 L323.3,283.3 L326.3,283.2 L329.3,283.1 L332.3,283.1 L335.3,283.0 L338.3,282.9 L341.3,282.8 L344.3,282.8 L347.3,282.7 L350.3,282.7 L353.2,282.6 L356.2,282.6 L359.2,282.6 L362.2,282.6 L365.2,282.6 L368.2,282.6 L371.2,282.6 L374.2,282.6 L377.2,282.7 L380.2,282.7 L383.2,282.8 L386.2,282.8 L389.2,282.8 L392.2,282.9 L395.2,282.9 L398.2,283.0 L401.2,283.0 L404.2,283.0 L407.2,283.0 L410.2,283.1 L413.2,283.1 L416.1,283.1 L419.1,283.2 L422.1,283.2 L425.1,283.3 L428.1,283.4 L431.1,283.5 L434.1,283.6 L437.1,283.7 L440.1,283.9 L443.1,284.1 L446.1,284.3 L449.1,284.5 L452.0,284.7 L455.0,284.9 L458.0,285.0 L461.0,285.0 L464.0,285.0 L467.0,284.8 L470.0,284.6 L473.0,284.3 L475.9,283.8 L478.9,283.3 L481.8,282.7 L484.7,282.0 L487.6,281.2 L490.5,280.4 L493.4,279.6 L496.3,278.7 L499.1,277.8 L502.0,277.0 L504.9,276.1 L507.7,275.3 L510.6,274.6 L513.6,273.9 L516.5,273.2 L519.4,272.7 L522.4,272.2 L525.4,271.9 L528.3,271.6 L531.3,271.4 L534.3,271.3 L537.3,271.3 L540.3,271.4 L543.3,271.6 L546.3,271.8 L549.3,272.1 L552.2,272.5 L555.2,273.1 L558.1,273.7 L561.0,274.4 L563.9,275.3 L566.7,276.3 L569.5,277.4 L572.2,278.6 L574.9,280.0 L577.5,281.5 L580.0,283.1 L582.5,284.8 L584.9,286.6 L587.2,288.5 L589.4,290.5 L591.6,292.5 L593.7,294.7 L595.7,296.9 L597.7,299.2 L599.5,301.5 L601.3,303.9 L603.0,306.4 L604.6,308.9 L606.1,311.5 L607.5,314.1 L608.9,316.8 L610.1,319.6 L611.2,322.3 L612.2,325.2 L613.1,328.0 L613.9,330.9 L614.5,333.8 L615.0,336.8 L615.4,339.8 L615.5,342.8 L615.6,345.7 L615.4,348.7 L615.2,351.7 L614.7,354.7 L614.1,357.6 L613.4,360.5 L612.6,363.4 L611.6,366.2 L610.5,369.0 L609.3,371.8 L608.0,374.4 L606.5,377.1 L605.0,379.6 L603.3,382.1 L601.5,384.5 L599.6,386.9 L597.7,389.1 L595.6,391.2 L593.4,393.3 L591.1,395.2 L588.7,397.0 L586.2,398.7 L583.7,400.3 L581.0,401.7 L578.3,403.0 L575.6,404.2 L572.8,405.2 L569.9,406.2 L567.0,407.0 L564.1,407.7 L561.2,408.3 L558.2,408.8 L555.3,409.2 L552.3,409.4 L549.3,409.6 L546.3,409.6 L543.3,409.5 L540.3,409.2 L537.4,408.8 L534.4,408.3 L531.5,407.7 L528.6,407.0 L525.7,406.1 L522.9,405.2 L520.0,404.2 L517.2,403.1 L514.5,401.9 L511.7,400.7 L509.0,399.5 L506.3,398.2 L503.6,397.0 L500.9,395.7 L498.2,394.4 L495.4,393.2 L492.7,392.0 L489.9,390.8 L487.1,389.8 L484.3,388.7 L481.5,387.8 L478.6,387.0 L475.7,386.2 L472.8,385.6 L469.8,385.0 L466.9,384.5 L463.9,384.1 L460.9,383.7 L458.0,383.3 L455.0,382.9 L452.0,382.5 L449.1,382.2 L446.1,381.8 L443.1,381.6 L440.1,381.3 L437.1,381.1 L434.1,381.0 L431.1,380.9 L428.1,380.8 L425.1,380.8 L422.2,380.8 L419.2,380.8 L416.2,380.9 L413.2,381.0 L410.2,381.0 L407.2,381.1 L404.2,381.2 L401.2,381.3 L398.2,381.4 L395.2,381.4 L392.2,381.5 L389.2,381.5 L386.2,381.6 L383.2,381.6 L380.2,381.6 L377.2,381.6 L374.2,381.6 L371.2,381.6 L368.2,381.5 L365.3,381.5 L362.3,381.4 L359.3,381.3 L356.3,381.2 L353.3,381.1 L350.3,381.0 L347.3,380.9 L344.3,380.8 L341.3,380.6 L338.3,380.5 L335.3,380.4 L332.3,380.2 L329.3,380.1 L326.3,380.0 L323.4,379.8 L320.4,379.7 L317.4,379.6 L314.4,379.5 L311.4,379.4 L308.4,379.4 L305.4,379.3 L302.4,379.2 L299.4,379.2 L296.4,379.1 L293.4,379.1 L290.4,379.0 L287.4,379.0 L284.4,378.9 L281.4,378.9 L278.4,378.8 L275.4,378.8 L272.4,378.7 L269.5,378.7 L266.5,378.6 L263.5,378.6 L260.5,378.5 L257.5,378.5 L254.5,378.4 L251.5,378.3 L248.5,378.3 L245.5,378.2 L242.5,378.1 L239.5,378.0 L236.5,377.8 L233.5,377.7 L230.5,377.6 L227.5,377.4 L224.5,377.3 L221.6,377.2 L218.6,377.0 L215.6,376.9 L212.6,376.7 L209.6,376.6 L206.6,376.5 L203.6,376.3 L200.6,376.2 L197.6,376.1 L194.6,376.0 L191.6,375.9 L188.6,375.8 L185.6,375.7 L182.6,375.7 L179.7,375.6 L176.7,375.6 L173.7,375.5 L170.7,375.5 L167.7,375.4 L164.7,375.4 L161.7,375.4 L158.7,375.4 L155.7,375.3 L152.7,375.3 L149.7,375.3 L146.7,375.3 L143.7,375.3 L140.7,375.3 L137.7,375.3 L134.7,375.2 L131.7,375.2 L128.7,375.2 L125.7,375.2 L122.7,375.2 L119.8,375.2 L116.8,375.1 L113.8,375.1 L110.8,375.1 L107.8,375.1 L104.8,375.0 L101.8,375.0 L98.8,375.0 L95.8,374.9 L92.8,374.9 L89.8,374.8Z" fill="#00a8ff" transform="translate(0,0.00)"/>
<path d="M89.8,294.6 L92.8,294.5 L95.8,294.3 L98.8,294.2 L101.8,294.1 L104.8,294.0 L107.8,293.9 L110.8,293.8 L113.8,293.7 L116.8,293.6 L119.8,293.5 L122.8,293.4 L125.8,293.3 L128.8,293.2 L131.8,293.2 L134.8,293.1 L137.8,293.0 L140.8,292.9 L143.7,292.8 L146.7,292.7 L149.7,292.6 L152.7,292.6 L155.7,292.5 L158.7,292.4 L161.7,292.3 L164.7,292.2 L167.7,292.1 L170.7,292.0 L173.7,291.8 L176.7,291.7 L179.7,291.6 L182.7,291.5 L185.7,291.3 L188.7,291.2 L191.7,291.0 L194.7,290.8 L197.7,290.7 L200.7,290.5 L203.7,290.3 L206.7,290.1 L209.7,289.9 L212.6,289.7 L215.6,289.5 L218.6,289.2 L221.6,289.0 L224.6,288.8 L227.6,288.6 L230.6,288.4 L233.6,288.2 L236.6,288.1 L239.6,287.9 L242.6,287.8 L245.6,287.6 L248.6,287.5 L251.6,287.4 L254.6,287.3 L257.6,287.2 L260.6,287.1 L263.5,287.0 L266.5,287.0 L269.5,286.9 L272.5,286.9 L275.5,286.8 L278.5,286.8 L281.5,286.7 L284.5,286.7 L287.5,286.7 L290.5,286.6 L293.5,286.6 L296.5,286.6 L299.5,286.5 L302.5,286.5 L305.5,286.4 L308.5,286.4 L311.5,286.3 L314.5,286.3 L317.5,286.2 L320.5,286.1 L323.5,286.0 L326.5,285.9 L329.5,285.9 L332.5,285.8 L335.5,285.7 L338.5,285.6 L341.5,285.5 L344.5,285.4 L347.5,285.3 L350.5,285.2 L353.5,285.2 L356.5,285.1 L359.5,285.1 L362.5,285.1 L365.5,285.1 L368.5,285.1 L371.5,285.1 L374.5,285.1 L377.5,285.2 L380.5,285.2 L383.5,285.3 L386.5,285.3 L389.5,285.4 L392.5,285.4 L395.5,285.5 L398.5,285.5 L401.5,285.6 L404.5,285.6 L407.5,285.6 L410.5,285.6 L413.5,285.6 L416.5,285.7 L419.5,285.7 L422.5,285.7 L425.5,285.8 L428.5,285.9 L431.5,286.0 L434.4,286.1 L437.4,286.2 L440.4,286.4 L443.4,286.6 L446.4,286.8 L449.4,287.1 L452.4,287.3 L455.4,287.5 L458.4,287.6 L461.4,287.7 L464.4,287.7 L467.4,287.6 L470.4,287.5 L473.4,287.3 L476.4,287.1 L479.4,286.9 L482.3,286.6 L485.3,286.3 L488.3,286.0 L491.3,285.7 L494.3,285.4 L497.3,285.1 L500.2,284.9 L503.2,284.6 L506.2,284.4 L509.2,284.3 L512.2,284.2 L515.2,284.2 L518.2,284.3 L521.2,284.5 L524.2,284.7 L527.2,285.0 L530.2,285.4 L533.1,285.9 L536.1,286.5 L539.0,287.2 L541.9,287.9 L544.8,288.8 L547.6,289.7 L550.4,290.7 L553.2,291.9 L555.9,293.1 L558.6,294.5 L561.1,296.1 L563.6,297.8 L566.0,299.6 L568.2,301.6 L570.4,303.7 L572.4,305.9 L574.3,308.2 L576.1,310.6 L577.8,313.1 L579.3,315.7 L580.8,318.3 L582.1,321.0 L583.3,323.7 L584.4,326.5 L585.4,329.4 L586.2,332.2 L586.8,335.2 L587.3,338.1 L587.6,341.1 L587.6,344.1 L587.5,347.1 L587.1,350.1 L586.6,353.0 L585.9,356.0 L585.0,358.8 L584.0,361.6 L582.8,364.4 L581.5,367.1 L580.0,369.7 L578.4,372.2 L576.6,374.6 L574.7,377.0 L572.7,379.1 L570.5,381.2 L568.2,383.1 L565.7,384.9 L563.2,386.5 L560.6,387.9 L557.9,389.2 L555.1,390.4 L552.3,391.5 L549.5,392.4 L546.6,393.2 L543.7,393.9 L540.7,394.4 L537.7,394.9 L534.8,395.2 L531.8,395.4 L528.8,395.5 L525.8,395.5 L522.8,395.3 L519.8,395.1 L516.8,394.7 L513.8,394.3 L510.9,393.8 L508.0,393.2 L505.0,392.5 L502.1,391.8 L499.2,391.0 L496.4,390.2 L493.5,389.3 L490.6,388.5 L487.7,387.6 L484.8,386.8 L482.0,386.0 L479.1,385.2 L476.1,384.5 L473.2,383.9 L470.3,383.3 L467.3,382.8 L464.3,382.4 L461.4,382.0 L458.4,381.6 L455.4,381.2 L452.4,380.8 L449.5,380.5 L446.5,380.1 L443.5,379.9 L440.5,379.6 L437.5,379.4 L434.5,379.3 L431.5,379.2 L428.5,379.1 L425.5,379.1 L422.5,379.1 L419.5,379.2 L416.5,379.2 L413.5,379.3 L410.5,379.3 L407.5,379.4 L404.5,379.5 L401.5,379.6 L398.5,379.7 L395.5,379.7 L392.5,379.8 L389.5,379.8 L386.6,379.9 L383.6,379.9 L380.6,379.9 L377.6,379.9 L374.6,379.9 L371.6,379.9 L368.6,379.8 L365.6,379.8 L362.6,379.7 L359.6,379.7 L356.6,379.6 L353.6,379.5 L350.6,379.3 L347.6,379.2 L344.6,379.1 L341.6,379.0 L338.6,378.8 L335.6,378.7 L332.6,378.5 L329.6,378.4 L326.6,378.3 L323.6,378.2 L320.6,378.1 L317.6,377.9 L314.6,377.9 L311.6,377.8 L308.6,377.7 L305.6,377.6 L302.6,377.6 L299.6,377.5 L296.6,377.5 L293.6,377.4 L290.6,377.4 L287.6,377.3 L284.6,377.3 L281.6,377.2 L278.6,377.2 L275.6,377.2 L272.6,377.1 L269.6,377.1 L266.6,377.0 L263.6,377.0 L260.6,376.9 L257.7,376.8 L254.7,376.8 L251.7,376.7 L248.7,376.6 L245.7,376.5 L242.7,376.4 L239.7,376.3 L236.7,376.1 L233.7,376.0 L230.7,375.8 L227.7,375.7 L224.7,375.5 L221.7,375.3 L218.7,375.2 L215.7,375.0 L212.7,374.8 L209.7,374.7 L206.7,374.5 L203.7,374.3 L200.7,374.2 L197.7,374.1 L194.7,374.0 L191.8,373.8 L188.8,373.7 L185.8,373.7 L182.8,373.6 L179.8,373.5 L176.8,373.5 L173.8,373.4 L170.8,373.4 L167.8,373.3 L164.8,373.3 L161.8,373.3 L158.8,373.3 L155.8,373.2 L152.8,373.2 L149.8,373.2 L146.8,373.2 L143.8,373.2 L140.8,373.2 L137.8,373.2 L134.8,373.2 L131.8,373.2 L128.8,373.2 L125.8,373.2 L122.8,373.2 L119.8,373.1 L116.8,373.1 L113.8,373.1 L110.8,373.1 L107.8,373.0 L104.8,373.0 L101.8,373.0 L98.8,372.9 L95.8,372.9 L92.8,372.9 L89.8,372.8Z" fill="#00dcfe" transform="translate(0,0.00)"/>
<path d="M89.8,299.1 L92.8,299.0 L95.8,298.9 L98.8,298.7 L101.8,298.6 L104.8,298.5 L107.7,298.4 L110.7,298.3 L113.7,298.2 L116.7,298.1 L119.7,298.0 L122.7,297.9 L125.7,297.8 L128.7,297.8 L131.7,297.7 L134.7,297.6 L137.7,297.5 L140.7,297.5 L143.6,297.4 L146.6,297.3 L149.6,297.2 L152.6,297.2 L155.6,297.1 L158.6,297.0 L161.6,296.9 L164.6,296.8 L167.6,296.7 L170.6,296.6 L173.6,296.5 L176.5,296.3 L179.5,296.2 L182.5,296.1 L185.5,295.9 L188.5,295.8 L191.5,295.6 L194.5,295.4 L197.5,295.2 L200.5,295.0 L203.4,294.7 L206.4,294.5 L209.4,294.3 L212.4,294.0 L215.4,293.8 L218.3,293.5 L221.3,293.3 L224.3,293.0 L227.3,292.8 L230.3,292.5 L233.3,292.3 L236.2,292.1 L239.2,291.9 L242.2,291.7 L245.2,291.5 L248.2,291.4 L251.2,291.2 L254.2,291.1 L257.2,291.0 L260.2,290.9 L263.2,290.8 L266.1,290.7 L269.1,290.7 L272.1,290.6 L275.1,290.5 L278.1,290.5 L281.1,290.4 L284.1,290.4 L287.1,290.3 L290.1,290.3 L293.1,290.2 L296.1,290.1 L299.1,290.1 L302.1,290.0 L305.0,290.0 L308.0,289.9 L311.0,289.8 L314.0,289.7 L317.0,289.6 L320.0,289.5 L323.0,289.4 L326.0,289.3 L329.0,289.1 L332.0,289.0 L334.9,288.8 L337.9,288.7 L340.9,288.6 L343.9,288.4 L346.9,288.3 L349.9,288.2 L352.9,288.1 L355.9,288.0 L358.9,287.9 L361.9,287.9 L364.9,287.9 L367.9,287.8 L370.8,287.9 L373.8,287.9 L376.8,287.9 L379.8,288.0 L382.8,288.0 L385.8,288.1 L388.8,288.1 L391.8,288.2 L394.8,288.3 L397.8,288.3 L400.8,288.4 L403.8,288.4 L406.8,288.5 L409.7,288.6 L412.7,288.6 L415.7,288.7 L418.7,288.8 L421.7,288.8 L424.7,288.9 L427.7,289.0 L430.7,289.2 L433.7,289.3 L436.7,289.5 L439.7,289.7 L442.6,289.9 L445.6,290.1 L448.6,290.4 L451.6,290.6 L454.6,290.8 L457.6,291.0 L460.5,291.2 L463.5,291.3 L466.5,291.4 L469.5,291.5 L472.5,291.5 L475.5,291.5 L478.5,291.5 L481.5,291.5 L484.5,291.6 L487.5,291.6 L490.5,291.7 L493.5,291.8 L496.4,291.9 L499.4,292.1 L502.4,292.4 L505.4,292.7 L508.4,293.1 L511.3,293.6 L514.3,294.1 L517.2,294.8 L520.1,295.5 L523.0,296.3 L525.8,297.3 L528.6,298.3 L531.3,299.5 L534.1,300.8 L536.7,302.2 L539.3,303.7 L541.8,305.3 L544.2,307.0 L546.6,308.9 L548.9,310.8 L551.0,312.9 L553.0,315.1 L554.9,317.4 L556.7,319.9 L558.3,322.4 L559.8,325.0 L561.0,327.7 L562.1,330.5 L563.0,333.4 L563.6,336.3 L564.0,339.2 L564.0,342.2 L563.7,345.2 L563.1,348.1 L562.3,351.0 L561.2,353.8 L559.9,356.5 L558.4,359.1 L556.8,361.6 L555.0,364.0 L553.1,366.4 L551.1,368.6 L549.0,370.7 L546.8,372.7 L544.4,374.5 L542.0,376.3 L539.5,377.9 L536.8,379.3 L534.2,380.7 L531.4,381.8 L528.6,382.9 L525.8,383.8 L522.9,384.5 L519.9,385.2 L517.0,385.7 L514.0,386.0 L511.0,386.3 L508.0,386.3 L505.0,386.3 L502.1,386.2 L499.1,385.9 L496.1,385.6 L493.1,385.2 L490.2,384.8 L487.2,384.3 L484.3,383.8 L481.3,383.2 L478.4,382.7 L475.4,382.2 L472.5,381.7 L469.5,381.2 L466.6,380.8 L463.6,380.4 L460.6,380.1 L457.7,379.7 L454.7,379.3 L451.7,379.0 L448.7,378.7 L445.8,378.4 L442.8,378.1 L439.8,377.9 L436.8,377.7 L433.8,377.6 L430.8,377.5 L427.8,377.5 L424.8,377.5 L421.8,377.5 L418.8,377.5 L415.9,377.6 L412.9,377.7 L409.9,377.8 L406.9,377.9 L403.9,378.0 L400.9,378.0 L397.9,378.1 L394.9,378.2 L391.9,378.3 L388.9,378.3 L385.9,378.4 L382.9,378.4 L380.0,378.4 L377.0,378.4 L374.0,378.4 L371.0,378.4 L368.0,378.4 L365.0,378.3 L362.0,378.2 L359.0,378.2 L356.0,378.1 L353.0,378.0 L350.0,377.9 L347.0,377.7 L344.1,377.6 L341.1,377.5 L338.1,377.3 L335.1,377.2 L332.1,377.1 L329.1,376.9 L326.1,376.8 L323.1,376.7 L320.1,376.6 L317.1,376.5 L314.1,376.4 L311.2,376.3 L308.2,376.2 L305.2,376.1 L302.2,376.1 L299.2,376.0 L296.2,376.0 L293.2,375.9 L290.2,375.9 L287.2,375.8 L284.2,375.8 L281.2,375.7 L278.2,375.7 L275.2,375.6 L272.3,375.6 L269.3,375.5 L266.3,375.5 L263.3,375.4 L260.3,375.3 L257.3,375.3 L254.3,375.2 L251.3,375.1 L248.3,375.0 L245.3,374.8 L242.3,374.7 L239.4,374.6 L236.4,374.4 L233.4,374.2 L230.4,374.0 L227.4,373.9 L224.4,373.7 L221.4,373.5 L218.4,373.3 L215.5,373.1 L212.5,372.9 L209.5,372.7 L206.5,372.5 L203.5,372.3 L200.5,372.2 L197.5,372.0 L194.5,371.9 L191.5,371.8 L188.6,371.7 L185.6,371.6 L182.6,371.5 L179.6,371.4 L176.6,371.4 L173.6,371.3 L170.6,371.3 L167.6,371.3 L164.6,371.2 L161.6,371.2 L158.6,371.2 L155.6,371.2 L152.6,371.2 L149.7,371.2 L146.7,371.2 L143.7,371.2 L140.7,371.2 L137.7,371.2 L134.7,371.2 L131.7,371.2 L128.7,371.2 L125.7,371.2 L122.7,371.2 L119.7,371.2 L116.7,371.2 L113.7,371.2 L110.7,371.2 L107.8,371.1 L104.8,371.1 L101.8,371.1 L98.8,371.0 L95.8,371.0 L92.8,371.0 L89.8,370.9Z" fill="#26ffd1" transform="translate(0,0.00)"/>
<path d="M89.8,304.4 L92.8,304.2 L95.8,304.1 L98.8,304.0 L101.8,303.8 L104.8,303.7 L107.8,303.6 L110.8,303.4 L113.8,303.3 L116.7,303.2 L119.7,303.1 L122.7,303.0 L125.7,302.9 L128.7,302.8 L131.7,302.7 L134.7,302.6 L137.7,302.5 L140.7,302.4 L143.7,302.3 L146.7,302.2 L149.7,302.1 L152.7,302.0 L155.7,301.9 L158.7,301.8 L161.7,301.7 L164.7,301.6 L167.7,301.5 L170.7,301.3 L173.7,301.2 L176.7,301.1 L179.6,300.9 L182.6,300.7 L185.6,300.5 L188.6,300.3 L191.6,300.1 L194.6,299.9 L197.6,299.7 L200.6,299.4 L203.6,299.2 L206.5,298.9 L209.5,298.6 L212.5,298.3 L215.5,298.0 L218.5,297.7 L221.5,297.4 L224.4,297.2 L227.4,296.9 L230.4,296.6 L233.4,296.3 L236.4,296.1 L239.4,295.8 L242.4,295.6 L245.4,295.4 L248.3,295.2 L251.3,295.1 L254.3,294.9 L257.3,294.7 L260.3,294.6 L263.3,294.5 L266.3,294.4 L269.3,294.3 L272.3,294.2 L275.3,294.1 L278.3,294.0 L281.3,293.9 L284.3,293.8 L287.3,293.8 L290.3,293.7 L293.3,293.6 L296.3,293.5 L299.3,293.4 L302.3,293.3 L305.3,293.2 L308.2,293.1 L311.2,293.0 L314.2,292.9 L317.2,292.8 L320.2,292.7 L323.2,292.5 L326.2,292.3 L329.2,292.2 L332.2,292.0 L335.2,291.8 L338.2,291.7 L341.2,291.5 L344.2,291.3 L347.2,291.2 L350.2,291.1 L353.2,290.9 L356.1,290.8 L359.1,290.7 L362.1,290.7 L365.1,290.7 L368.1,290.6 L371.1,290.6 L374.1,290.7 L377.1,290.7 L380.1,290.7 L383.1,290.8 L386.1,290.8 L389.1,290.9 L392.1,291.0 L395.1,291.1 L398.1,291.1 L401.1,291.2 L404.1,291.3 L407.1,291.3 L410.1,291.4 L413.1,291.5 L416.1,291.6 L419.1,291.7 L422.1,291.8 L425.1,292.0 L428.1,292.2 L431.0,292.4 L434.0,292.6 L437.0,292.8 L440.0,293.1 L443.0,293.5 L446.0,293.8 L448.9,294.2 L451.9,294.6 L454.9,294.9 L457.9,295.2 L460.8,295.5 L463.8,295.7 L466.8,295.8 L469.8,295.9 L472.8,296.0 L475.8,296.1 L478.8,296.3 L481.8,296.4 L484.8,296.7 L487.8,297.0 L490.7,297.4 L493.7,297.9 L496.6,298.4 L499.6,299.1 L502.4,300.0 L505.3,300.9 L508.1,302.0 L510.8,303.2 L513.5,304.6 L516.1,306.0 L518.6,307.7 L521.0,309.4 L523.4,311.3 L525.6,313.3 L527.7,315.4 L529.8,317.6 L531.7,319.9 L533.5,322.3 L535.2,324.7 L536.9,327.3 L538.4,329.8 L539.8,332.5 L541.1,335.2 L542.1,338.0 L542.7,340.9 L542.9,343.9 L542.5,346.9 L541.7,349.8 L540.6,352.5 L539.2,355.2 L537.6,357.8 L535.9,360.2 L534.0,362.5 L532.0,364.8 L529.8,366.8 L527.6,368.8 L525.2,370.6 L522.7,372.3 L520.1,373.8 L517.4,375.1 L514.6,376.2 L511.8,377.2 L508.9,378.0 L506.0,378.7 L503.0,379.2 L500.1,379.6 L497.1,379.9 L494.1,380.0 L491.1,380.1 L488.1,380.0 L485.1,379.9 L482.1,379.8 L479.1,379.5 L476.1,379.3 L473.1,379.0 L470.2,378.7 L467.2,378.4 L464.2,378.1 L461.2,377.8 L458.2,377.5 L455.2,377.3 L452.2,377.1 L449.3,376.8 L446.3,376.7 L443.3,376.5 L440.3,376.4 L437.3,376.3 L434.3,376.2 L431.3,376.2 L428.3,376.2 L425.3,376.2 L422.3,376.2 L419.3,376.3 L416.3,376.3 L413.3,376.4 L410.3,376.5 L407.3,376.5 L404.3,376.6 L401.3,376.7 L398.3,376.8 L395.3,376.8 L392.3,376.9 L389.3,376.9 L386.3,377.0 L383.3,377.0 L380.3,377.0 L377.3,377.0 L374.4,377.0 L371.4,377.0 L368.4,377.0 L365.4,377.0 L362.4,376.9 L359.4,376.8 L356.4,376.7 L353.4,376.6 L350.4,376.5 L347.4,376.4 L344.4,376.3 L341.4,376.2 L338.4,376.0 L335.4,375.9 L332.4,375.7 L329.4,375.6 L326.4,375.5 L323.4,375.3 L320.4,375.2 L317.4,375.1 L314.4,375.0 L311.4,374.9 L308.5,374.8 L305.5,374.8 L302.5,374.7 L299.5,374.6 L296.5,374.6 L293.5,374.5 L290.5,374.4 L287.5,374.4 L284.5,374.3 L281.5,374.3 L278.5,374.2 L275.5,374.1 L272.5,374.1 L269.5,374.0 L266.5,373.9 L263.5,373.8 L260.5,373.8 L257.5,373.7 L254.5,373.6 L251.5,373.4 L248.5,373.3 L245.5,373.2 L242.5,373.0 L239.5,372.9 L236.6,372.7 L233.6,372.5 L230.6,372.3 L227.6,372.1 L224.6,371.9 L221.6,371.7 L218.6,371.5 L215.6,371.3 L212.6,371.1 L209.6,370.8 L206.7,370.7 L203.7,370.5 L200.7,370.3 L197.7,370.1 L194.7,370.0 L191.7,369.8 L188.7,369.7 L185.7,369.6 L182.7,369.5 L179.7,369.4 L176.7,369.4 L173.7,369.3 L170.7,369.3 L167.7,369.2 L164.7,369.2 L161.7,369.1 L158.7,369.1 L155.7,369.1 L152.7,369.1 L149.7,369.1 L146.7,369.1 L143.7,369.1 L140.7,369.1 L137.8,369.0 L134.8,369.0 L131.8,369.0 L128.8,369.0 L125.8,369.0 L122.8,369.0 L119.8,369.0 L116.8,368.9 L113.8,368.9 L110.8,368.9 L107.8,368.8 L104.8,368.8 L101.8,368.8 L98.8,368.7 L95.8,368.7 L92.8,368.6 L89.8,368.6Z" fill="#50ffa7" transform="translate(0,0.00)"/>
<path d="M89.8,309.7 L92.8,309.5 L95.8,309.3 L98.8,309.2 L101.8,309.0 L104.8,308.9 L107.8,308.7 L110.8,308.6 L113.8,308.4 L116.8,308.3 L119.8,308.2 L122.8,308.0 L125.8,307.9 L128.7,307.8 L131.7,307.7 L134.7,307.6 L137.7,307.5 L140.7,307.4 L143.7,307.2 L146.7,307.1 L149.7,307.0 L152.7,306.9 L155.7,306.8 L158.7,306.7 L161.7,306.5 L164.7,306.4 L167.7,306.2 L170.7,306.1 L173.7,305.9 L176.7,305.8 L179.7,305.6 L182.7,305.4 L185.7,305.2 L188.7,304.9 L191.7,304.7 L194.6,304.5 L197.6,304.2 L200.6,303.9 L203.6,303.6 L206.6,303.3 L209.6,303.0 L212.5,302.6 L215.5,302.3 L218.5,302.0 L221.5,301.6 L224.5,301.3 L227.5,301.0 L230.4,300.7 L233.4,300.4 L236.4,300.1 L239.4,299.8 L242.4,299.5 L245.4,299.3 L248.4,299.1 L251.4,298.8 L254.3,298.6 L257.3,298.5 L260.3,298.3 L263.3,298.1 L266.3,298.0 L269.3,297.8 L272.3,297.7 L275.3,297.6 L278.3,297.5 L281.3,297.3 L284.3,297.2 L287.3,297.1 L290.3,297.0 L293.3,296.9 L296.3,296.8 L299.3,296.7 L302.3,296.5 L305.3,296.4 L308.3,296.3 L311.3,296.1 L314.3,296.0 L317.3,295.9 L320.3,295.7 L323.3,295.5 L326.3,295.3 L329.2,295.1 L332.2,295.0 L335.2,294.8 L338.2,294.6 L341.2,294.4 L344.2,294.2 L347.2,294.1 L350.2,293.9 L353.2,293.8 L356.2,293.7 L359.2,293.6 L362.2,293.5 L365.2,293.5 L368.2,293.4 L371.2,293.4 L374.2,293.4 L377.2,293.5 L380.2,293.5 L383.2,293.6 L386.2,293.6 L389.2,293.7 L392.2,293.8 L395.2,293.9 L398.2,293.9 L401.2,294.0 L404.2,294.1 L407.2,294.2 L410.2,294.3 L413.2,294.4 L416.2,294.5 L419.2,294.7 L422.2,294.8 L425.2,295.0 L428.1,295.3 L431.1,295.5 L434.1,295.8 L437.1,296.2 L440.1,296.6 L443.0,297.0 L446.0,297.5 L449.0,298.0 L451.9,298.5 L454.9,298.9 L457.8,299.4 L460.8,299.7 L463.8,300.0 L466.8,300.2 L469.8,300.5 L472.8,300.7 L475.8,301.1 L478.7,301.4 L481.7,301.9 L484.6,302.5 L487.5,303.2 L490.4,304.1 L493.2,305.1 L496.0,306.3 L498.7,307.7 L501.2,309.2 L503.7,310.9 L506.1,312.8 L508.3,314.8 L510.4,316.9 L512.4,319.2 L514.3,321.5 L516.1,323.9 L517.8,326.4 L519.4,328.9 L521.0,331.4 L522.4,334.1 L523.7,336.8 L524.8,339.6 L525.4,342.5 L525.4,345.5 L524.9,348.5 L523.9,351.3 L522.6,354.0 L521.1,356.6 L519.4,359.0 L517.5,361.4 L515.4,363.5 L513.1,365.5 L510.8,367.4 L508.3,369.0 L505.6,370.5 L502.9,371.7 L500.1,372.8 L497.3,373.7 L494.4,374.4 L491.4,375.0 L488.4,375.4 L485.5,375.7 L482.5,375.9 L479.5,375.9 L476.5,375.9 L473.5,375.9 L470.5,375.8 L467.5,375.6 L464.5,375.5 L461.5,375.4 L458.5,375.2 L455.5,375.1 L452.5,375.0 L449.5,375.0 L446.5,374.9 L443.5,374.9 L440.5,374.9 L437.5,374.8 L434.5,374.8 L431.5,374.9 L428.5,374.9 L425.5,374.9 L422.5,375.0 L419.5,375.0 L416.5,375.1 L413.5,375.1 L410.5,375.2 L407.5,375.3 L404.5,375.3 L401.5,375.4 L398.5,375.4 L395.5,375.5 L392.5,375.5 L389.5,375.6 L386.5,375.6 L383.5,375.6 L380.5,375.7 L377.5,375.7 L374.5,375.7 L371.5,375.7 L368.5,375.6 L365.5,375.6 L362.5,375.5 L359.5,375.5 L356.5,375.4 L353.5,375.3 L350.5,375.2 L347.5,375.1 L344.5,374.9 L341.5,374.8 L338.5,374.7 L335.5,374.5 L332.5,374.4 L329.5,374.3 L326.5,374.1 L323.5,374.0 L320.6,373.9 L317.6,373.8 L314.6,373.7 L311.6,373.6 L308.6,373.5 L305.6,373.4 L302.6,373.3 L299.6,373.3 L296.6,373.2 L293.6,373.1 L290.6,373.1 L287.6,373.0 L284.6,372.9 L281.6,372.9 L278.6,372.8 L275.6,372.7 L272.6,372.6 L269.6,372.6 L266.6,372.5 L263.6,372.4 L260.6,372.3 L257.6,372.1 L254.6,372.0 L251.6,371.9 L248.6,371.7 L245.6,371.6 L242.6,371.4 L239.6,371.2 L236.6,371.0 L233.6,370.7 L230.6,370.5 L227.7,370.3 L224.7,370.0 L221.7,369.7 L218.7,369.5 L215.7,369.2 L212.7,369.0 L209.7,368.7 L206.7,368.5 L203.7,368.3 L200.7,368.1 L197.8,367.9 L194.8,367.7 L191.8,367.6 L188.8,367.4 L185.8,367.3 L182.8,367.2 L179.8,367.1 L176.8,367.0 L173.8,367.0 L170.8,366.9 L167.8,366.9 L164.8,366.8 L161.8,366.8 L158.8,366.8 L155.8,366.8 L152.8,366.7 L149.8,366.7 L146.8,366.7 L143.8,366.7 L140.8,366.7 L137.8,366.7 L134.8,366.7 L131.8,366.7 L128.8,366.7 L125.8,366.7 L122.8,366.7 L119.8,366.7 L116.8,366.7 L113.8,366.7 L110.8,366.6 L107.8,366.6 L104.8,366.5 L101.8,366.5 L98.8,366.5 L95.8,366.4 L92.8,366.4 L89.8,366.3Z" fill="#7dff7a" transform="translate(0,0.00)"/>
<path d="M89.8,317.6 L92.8,317.4 L95.8,317.2 L98.7,317.0 L101.7,316.7 L104.7,316.5 L107.7,316.3 L110.7,316.1 L113.7,315.9 L116.6,315.7 L119.6,315.5 L122.6,315.3 L125.6,315.1 L128.6,315.0 L131.6,314.8 L134.6,314.6 L137.5,314.4 L140.5,314.3 L143.5,314.1 L146.5,313.9 L149.5,313.8 L152.5,313.6 L155.5,313.4 L158.4,313.2 L161.4,313.0 L164.4,312.8 L167.4,312.6 L170.4,312.4 L173.4,312.2 L176.3,311.9 L179.3,311.7 L182.3,311.4 L185.3,311.1 L188.3,310.9 L191.2,310.5 L194.2,310.2 L197.2,309.9 L200.2,309.5 L203.1,309.2 L206.1,308.8 L209.1,308.4 L212.0,308.0 L215.0,307.5 L217.9,307.1 L220.9,306.7 L223.9,306.3 L226.8,305.9 L229.8,305.5 L232.8,305.1 L235.7,304.7 L238.7,304.4 L241.7,304.1 L244.6,303.8 L247.6,303.5 L250.6,303.2 L253.6,302.9 L256.6,302.7 L259.5,302.5 L262.5,302.3 L265.5,302.1 L268.5,301.9 L271.5,301.7 L274.5,301.5 L277.5,301.4 L280.4,301.2 L283.4,301.1 L286.4,300.9 L289.4,300.8 L292.4,300.6 L295.4,300.5 L298.4,300.3 L301.4,300.2 L304.3,300.0 L307.3,299.9 L310.3,299.7 L313.3,299.5 L316.3,299.3 L319.3,299.1 L322.3,298.9 L325.2,298.7 L328.2,298.5 L331.2,298.2 L334.2,298.0 L337.2,297.8 L340.1,297.5 L343.1,297.3 L346.1,297.1 L349.1,296.9 L352.1,296.7 L355.1,296.6 L358.1,296.4 L361.0,296.3 L364.0,296.3 L367.0,296.2 L370.0,296.2 L373.0,296.2 L376.0,296.2 L379.0,296.2 L382.0,296.3 L385.0,296.3 L388.0,296.4 L391.0,296.5 L393.9,296.6 L396.9,296.7 L399.9,296.8 L402.9,296.9 L405.9,297.0 L408.9,297.2 L411.9,297.3 L414.9,297.5 L417.8,297.7 L420.8,297.9 L423.8,298.1 L426.8,298.4 L429.8,298.7 L432.7,299.1 L435.7,299.5 L438.7,299.9 L441.6,300.4 L444.5,301.0 L447.5,301.5 L450.4,302.1 L453.3,302.7 L456.3,303.3 L459.2,303.8 L462.2,304.3 L465.1,304.7 L468.1,305.2 L471.0,305.7 L474.0,306.3 L476.9,306.9 L479.8,307.8 L482.6,308.8 L485.3,310.0 L488.0,311.4 L490.5,313.0 L492.9,314.8 L495.1,316.8 L497.2,318.9 L499.2,321.1 L501.0,323.5 L502.7,326.0 L504.3,328.5 L505.8,331.1 L507.1,333.8 L508.3,336.5 L509.2,339.4 L509.7,342.3 L509.8,345.3 L509.4,348.3 L508.6,351.2 L507.5,353.9 L506.1,356.6 L504.4,359.0 L502.4,361.3 L500.2,363.3 L497.9,365.1 L495.3,366.7 L492.7,368.1 L489.9,369.2 L487.1,370.2 L484.2,370.9 L481.2,371.5 L478.3,371.9 L475.3,372.1 L472.3,372.3 L469.3,372.4 L466.3,372.4 L463.3,372.4 L460.3,372.4 L457.3,372.5 L454.4,372.5 L451.4,372.6 L448.4,372.7 L445.4,372.8 L442.4,373.0 L439.4,373.1 L436.4,373.2 L433.4,373.3 L430.4,373.4 L427.5,373.5 L424.5,373.6 L421.5,373.6 L418.5,373.7 L415.5,373.8 L412.5,373.8 L409.5,373.9 L406.5,374.0 L403.5,374.0 L400.5,374.1 L397.5,374.1 L394.6,374.2 L391.6,374.2 L388.6,374.3 L385.6,374.3 L382.6,374.4 L379.6,374.4 L376.6,374.4 L373.6,374.4 L370.6,374.4 L367.6,374.4 L364.6,374.3 L361.7,374.3 L358.7,374.2 L355.7,374.1 L352.7,374.0 L349.7,373.9 L346.7,373.7 L343.7,373.6 L340.7,373.4 L337.8,373.3 L334.8,373.1 L331.8,373.0 L328.8,372.8 L325.8,372.7 L322.8,372.5 L319.8,372.4 L316.8,372.3 L313.8,372.2 L310.9,372.1 L307.9,372.0 L304.9,371.9 L301.9,371.8 L298.9,371.7 L295.9,371.7 L292.9,371.6 L289.9,371.5 L286.9,371.5 L283.9,371.4 L281.0,371.3 L278.0,371.2 L275.0,371.2 L272.0,371.1 L269.0,371.0 L266.0,370.9 L263.0,370.8 L260.0,370.7 L257.0,370.5 L254.1,370.4 L251.1,370.2 L248.1,370.1 L245.1,369.9 L242.1,369.7 L239.1,369.4 L236.2,369.2 L233.2,368.9 L230.2,368.7 L227.2,368.4 L224.2,368.1 L221.3,367.8 L218.3,367.5 L215.3,367.2 L212.3,366.9 L209.4,366.6 L206.4,366.3 L203.4,366.1 L200.4,365.8 L197.4,365.6 L194.5,365.4 L191.5,365.2 L188.5,365.1 L185.5,364.9 L182.5,364.8 L179.5,364.7 L176.5,364.5 L173.5,364.5 L170.5,364.4 L167.6,364.3 L164.6,364.3 L161.6,364.2 L158.6,364.2 L155.6,364.1 L152.6,364.1 L149.6,364.1 L146.6,364.1 L143.6,364.1 L140.6,364.0 L137.6,364.0 L134.7,364.0 L131.7,364.0 L128.7,364.0 L125.7,364.0 L122.7,363.9 L119.7,363.9 L116.7,363.8 L113.7,363.8 L110.7,363.7 L107.7,363.7 L104.8,363.6 L101.8,363.6 L98.8,363.5 L95.8,363.4 L92.8,363.3 L89.8,363.3Z" fill="#a7ff50" transform="translate(0,0.00)"/>
<path d="M89.8,325.9 L92.8,325.7 L95.8,325.4 L98.7,325.1 L101.7,324.9 L104.7,324.6 L107.7,324.4 L110.6,324.1 L113.6,323.9 L116.6,323.6 L119.6,323.4 L122.6,323.2 L125.6,323.0 L128.5,322.8 L131.5,322.6 L134.5,322.4 L137.5,322.2 L140.5,322.0 L143.5,321.8 L146.4,321.7 L149.4,321.5 L152.4,321.3 L155.4,321.1 L158.4,320.9 L161.3,320.6 L164.3,320.4 L167.3,320.2 L170.3,319.9 L173.3,319.6 L176.2,319.3 L179.2,319.0 L182.2,318.7 L185.2,318.3 L188.1,318.0 L191.1,317.6 L194.0,317.1 L197.0,316.7 L199.9,316.2 L202.9,315.7 L205.8,315.2 L208.8,314.6 L211.7,314.0 L214.6,313.5 L217.6,312.9 L220.5,312.3 L223.4,311.7 L226.4,311.2 L229.3,310.6 L232.3,310.1 L235.2,309.6 L238.1,309.1 L241.1,308.6 L244.1,308.2 L247.0,307.8 L250.0,307.4 L253.0,307.1 L255.9,306.8 L258.9,306.5 L261.9,306.2 L264.9,305.9 L267.8,305.7 L270.8,305.5 L273.8,305.3 L276.8,305.1 L279.8,304.9 L282.8,304.7 L285.7,304.6 L288.7,304.4 L291.7,304.2 L294.7,304.1 L297.7,303.9 L300.7,303.7 L303.7,303.6 L306.6,303.4 L309.6,303.2 L312.6,303.0 L315.6,302.8 L318.6,302.6 L321.5,302.3 L324.5,302.1 L327.5,301.8 L330.5,301.5 L333.5,301.2 L336.4,300.9 L339.4,300.7 L342.4,300.4 L345.4,300.1 L348.3,299.9 L351.3,299.7 L354.3,299.5 L357.3,299.3 L360.3,299.2 L363.3,299.1 L366.3,299.0 L369.3,299.0 L372.2,299.0 L375.2,299.0 L378.2,299.1 L381.2,299.1 L384.2,299.2 L387.2,299.3 L390.2,299.4 L393.2,299.5 L396.1,299.7 L399.1,299.8 L402.1,299.9 L405.1,300.0 L408.1,300.2 L411.1,300.3 L414.1,300.5 L417.0,300.7 L420.0,301.0 L423.0,301.2 L426.0,301.6 L428.9,301.9 L431.9,302.4 L434.8,302.9 L437.8,303.4 L440.7,304.1 L443.6,304.8 L446.5,305.5 L449.4,306.3 L452.3,307.2 L455.1,308.0 L458.0,308.8 L460.9,309.6 L463.8,310.4 L466.6,311.2 L469.5,312.1 L472.3,313.1 L475.1,314.3 L477.7,315.7 L480.2,317.2 L482.6,319.1 L484.8,321.1 L486.8,323.3 L488.6,325.7 L490.3,328.2 L491.8,330.8 L493.1,333.4 L494.3,336.2 L495.2,339.0 L495.8,342.0 L495.9,344.9 L495.5,347.9 L494.6,350.8 L493.4,353.5 L491.9,356.1 L490.1,358.4 L488.0,360.6 L485.6,362.4 L483.1,364.0 L480.4,365.3 L477.6,366.3 L474.7,367.1 L471.8,367.7 L468.8,368.2 L465.9,368.5 L462.9,368.8 L459.9,369.0 L456.9,369.3 L454.0,369.6 L451.0,369.9 L448.0,370.3 L445.0,370.6 L442.1,370.9 L439.1,371.1 L436.1,371.4 L433.1,371.6 L430.1,371.7 L427.1,371.9 L424.2,372.0 L421.2,372.1 L418.2,372.1 L415.2,372.2 L412.2,372.3 L409.2,372.3 L406.2,372.3 L403.2,372.4 L400.2,372.4 L397.3,372.5 L394.3,372.6 L391.3,372.6 L388.3,372.7 L385.3,372.8 L382.3,372.8 L379.3,372.9 L376.3,372.9 L373.3,372.9 L370.4,373.0 L367.4,373.0 L364.4,372.9 L361.4,372.9 L358.4,372.8 L355.4,372.7 L352.4,372.6 L349.4,372.5 L346.5,372.3 L343.5,372.2 L340.5,372.0 L337.5,371.8 L334.5,371.6 L331.5,371.4 L328.5,371.2 L325.6,371.0 L322.6,370.9 L319.6,370.7 L316.6,370.6 L313.6,370.4 L310.6,370.3 L307.6,370.2 L304.7,370.1 L301.7,370.0 L298.7,369.9 L295.7,369.8 L292.7,369.7 L289.7,369.6 L286.7,369.5 L283.7,369.4 L280.8,369.4 L277.8,369.3 L274.8,369.2 L271.8,369.1 L268.8,369.0 L265.8,368.8 L262.8,368.7 L259.8,368.6 L256.9,368.4 L253.9,368.2 L250.9,368.1 L247.9,367.9 L244.9,367.6 L241.9,367.4 L239.0,367.2 L236.0,366.9 L233.0,366.6 L230.0,366.3 L227.1,366.0 L224.1,365.6 L221.1,365.3 L218.2,365.0 L215.2,364.6 L212.2,364.3 L209.2,364.0 L206.3,363.6 L203.3,363.3 L200.3,363.0 L197.3,362.8 L194.4,362.5 L191.4,362.3 L188.4,362.1 L185.4,361.9 L182.4,361.7 L179.4,361.6 L176.5,361.4 L173.5,361.3 L170.5,361.2 L167.5,361.1 L164.5,361.0 L161.5,360.9 L158.5,360.8 L155.5,360.7 L152.6,360.6 L149.6,360.6 L146.6,360.5 L143.6,360.5 L140.6,360.4 L137.6,360.3 L134.6,360.3 L131.6,360.2 L128.6,360.2 L125.7,360.1 L122.7,360.0 L119.7,359.9 L116.7,359.9 L113.7,359.8 L110.7,359.7 L107.7,359.6 L104.7,359.5 L101.7,359.4 L98.8,359.2 L95.8,359.1 L92.8,359.0 L89.8,358.9Z" fill="#d1ff26" transform="translate(0,0.00)"/>
<path d="M89.8,340.6 L92.8,340.2 L95.7,339.8 L98.7,339.3 L101.7,338.9 L104.6,338.5 L107.6,338.0 L110.6,337.6 L113.5,337.2 L116.5,336.8 L119.5,336.4 L122.5,336.0 L125.4,335.7 L128.4,335.3 L131.4,334.9 L134.4,334.6 L137.4,334.2 L140.3,333.9 L143.3,333.5 L146.3,333.2 L149.3,332.8 L152.2,332.5 L155.2,332.1 L158.2,331.7 L161.2,331.3 L164.1,330.9 L167.1,330.5 L170.1,330.1 L173.1,329.7 L176.0,329.2 L179.0,328.7 L181.9,328.2 L184.9,327.7 L187.8,327.1 L190.8,326.5 L193.7,325.9 L196.6,325.3 L199.6,324.6 L202.5,323.9 L205.4,323.2 L208.3,322.4 L211.2,321.6 L214.1,320.9 L217.0,320.1 L219.9,319.3 L222.8,318.6 L225.7,317.8 L228.6,317.1 L231.5,316.3 L234.4,315.6 L237.3,315.0 L240.3,314.4 L243.2,313.8 L246.2,313.3 L249.1,312.8 L252.1,312.3 L255.1,311.9 L258.0,311.5 L261.0,311.1 L264.0,310.8 L267.0,310.5 L270.0,310.2 L273.0,309.9 L275.9,309.6 L278.9,309.4 L281.9,309.2 L284.9,309.0 L287.9,308.8 L290.9,308.5 L293.9,308.3 L296.9,308.1 L299.9,307.9 L302.9,307.7 L305.9,307.5 L308.8,307.3 L311.8,307.1 L314.8,306.8 L317.8,306.6 L320.8,306.3 L323.8,306.0 L326.8,305.7 L329.8,305.4 L332.7,305.0 L335.7,304.7 L338.7,304.4 L341.7,304.1 L344.7,303.8 L347.7,303.5 L350.6,303.2 L353.6,303.0 L356.6,302.8 L359.6,302.6 L362.6,302.5 L365.6,302.4 L368.6,302.3 L371.6,302.3 L374.6,302.3 L377.6,302.3 L380.6,302.3 L383.6,302.4 L386.6,302.5 L389.6,302.6 L392.6,302.7 L395.6,302.8 L398.6,302.9 L401.6,303.0 L404.6,303.1 L407.6,303.3 L410.6,303.4 L413.6,303.6 L416.6,303.8 L419.6,304.1 L422.5,304.4 L425.5,304.8 L428.5,305.2 L431.4,305.7 L434.4,306.4 L437.3,307.1 L440.2,307.9 L443.0,308.8 L445.8,309.8 L448.6,310.9 L451.4,312.1 L454.1,313.3 L456.8,314.6 L459.6,315.9 L462.3,317.2 L464.9,318.5 L467.5,320.0 L470.1,321.6 L472.4,323.5 L474.6,325.5 L476.6,327.8 L478.4,330.2 L479.9,332.8 L481.2,335.5 L482.2,338.3 L482.9,341.2 L483.1,344.2 L482.7,347.2 L481.8,350.0 L480.3,352.6 L478.5,355.0 L476.3,357.1 L473.9,358.8 L471.2,360.2 L468.4,361.3 L465.6,362.3 L462.7,363.1 L459.8,363.8 L456.9,364.6 L454.0,365.4 L451.1,366.2 L448.2,366.9 L445.3,367.6 L442.4,368.3 L439.4,368.8 L436.5,369.3 L433.5,369.7 L430.5,370.0 L427.5,370.2 L424.5,370.4 L421.5,370.6 L418.5,370.7 L415.5,370.7 L412.5,370.8 L409.5,370.8 L406.5,370.8 L403.5,370.8 L400.5,370.8 L397.5,370.8 L394.5,370.8 L391.5,370.9 L388.5,370.9 L385.5,371.0 L382.5,371.0 L379.5,371.0 L376.5,371.1 L373.5,371.1 L370.5,371.1 L367.5,371.1 L364.5,371.0 L361.5,371.0 L358.5,370.9 L355.5,370.8 L352.6,370.7 L349.6,370.5 L346.6,370.3 L343.6,370.1 L340.6,369.9 L337.6,369.7 L334.6,369.5 L331.6,369.3 L328.6,369.1 L325.6,368.9 L322.6,368.6 L319.6,368.4 L316.6,368.3 L313.6,368.1 L310.7,367.9 L307.7,367.8 L304.7,367.6 L301.7,367.5 L298.7,367.3 L295.7,367.2 L292.7,367.0 L289.7,366.9 L286.7,366.8 L283.7,366.6 L280.7,366.5 L277.7,366.3 L274.7,366.2 L271.7,366.0 L268.7,365.8 L265.7,365.6 L262.7,365.4 L259.7,365.2 L256.7,365.0 L253.8,364.7 L250.8,364.4 L247.8,364.2 L244.8,363.8 L241.8,363.5 L238.8,363.2 L235.9,362.8 L232.9,362.4 L229.9,362.0 L227.0,361.5 L224.0,361.1 L221.0,360.7 L218.1,360.2 L215.1,359.7 L212.1,359.3 L209.2,358.8 L206.2,358.4 L203.2,357.9 L200.3,357.5 L197.3,357.1 L194.3,356.7 L191.3,356.3 L188.4,356.0 L185.4,355.6 L182.4,355.3 L179.4,355.0 L176.4,354.6 L173.5,354.3 L170.5,354.0 L167.5,353.8 L164.5,353.5 L161.5,353.2 L158.5,353.0 L155.5,352.7 L152.5,352.5 L149.6,352.2 L146.6,352.0 L143.6,351.7 L140.6,351.5 L137.6,351.3 L134.6,351.0 L131.6,350.8 L128.6,350.5 L125.6,350.3 L122.7,350.0 L119.7,349.8 L116.7,349.5 L113.7,349.3 L110.7,349.0 L107.7,348.7 L104.7,348.4 L101.7,348.2 L98.8,347.9 L95.8,347.6 L92.8,347.3 L89.8,347.0Z" fill="#feed00" transform="translate(0,0.00)"/>
<path d="M197.0,343.8 L197.1,342.9 L197.3,341.9 L197.8,341.0 L198.4,340.1 L199.1,339.2 L200.1,338.3 L201.2,337.4 L202.4,336.5 L203.9,335.6 L205.5,334.8 L207.2,333.9 L209.1,333.1 L211.2,332.3 L213.4,331.4 L215.8,330.6 L218.3,329.8 L221.0,329.1 L223.8,328.3 L226.7,327.5 L229.8,326.8 L233.0,326.0 L236.3,325.3 L239.8,324.5 L243.3,323.8 L247.0,323.1 L250.8,322.4 L254.7,321.7 L258.7,320.9 L262.8,320.2 L267.0,319.5 L271.2,318.8 L275.6,318.1 L280.0,317.4 L284.4,316.7 L289.0,316.0 L293.6,315.3 L298.2,314.6 L302.9,313.9 L307.6,313.2 L312.4,312.5 L317.2,311.8 L322.0,311.1 L326.8,310.4 L331.7,309.7 L336.5,309.1 L341.4,308.4 L346.2,307.9 L351.0,307.4 L355.8,307.0 L360.6,306.6 L365.3,306.4 L370.0,306.2 L374.6,306.2 L379.2,306.2 L383.8,306.3 L388.2,306.4 L392.6,306.6 L397.0,306.9 L401.2,307.2 L405.4,307.6 L409.5,308.0 L413.5,308.4 L417.4,309.0 L421.2,309.6 L424.9,310.2 L428.4,311.0 L431.9,311.8 L435.2,312.7 L438.4,313.6 L441.5,314.7 L444.4,315.8 L447.2,317.0 L449.9,318.3 L452.4,319.6 L454.8,321.1 L457.0,322.6 L459.1,324.2 L461.0,325.8 L462.7,327.5 L464.3,329.2 L465.8,331.0 L467.0,332.8 L468.1,334.6 L469.1,336.5 L469.8,338.3 L470.4,340.2 L470.9,342.0 L471.1,343.8 L471.2,345.6 L471.1,347.5 L470.9,349.3 L470.4,351.1 L469.8,352.7 L469.1,354.1 L468.1,355.5 L467.0,356.7 L465.8,357.9 L464.3,358.9 L462.7,359.9 L461.0,360.8 L459.1,361.6 L457.0,362.4 L454.8,363.1 L452.4,363.8 L449.9,364.5 L447.2,365.0 L444.4,365.6 L441.5,366.1 L438.4,366.5 L435.2,366.9 L431.9,367.2 L428.4,367.5 L424.9,367.7 L421.2,367.9 L417.4,368.1 L413.5,368.3 L409.5,368.4 L405.4,368.5 L401.2,368.6 L397.0,368.7 L392.6,368.8 L388.2,368.9 L383.8,369.0 L379.2,369.0 L374.6,369.0 L370.0,369.0 L365.3,368.9 L360.6,368.8 L355.8,368.6 L351.0,368.3 L346.2,368.0 L341.4,367.6 L336.5,367.2 L331.7,366.8 L326.8,366.4 L322.0,365.9 L317.2,365.5 L312.4,365.0 L307.6,364.5 L302.9,364.1 L298.2,363.6 L293.6,363.2 L289.0,362.7 L284.4,362.3 L280.0,361.8 L275.6,361.4 L271.2,360.9 L267.0,360.4 L262.8,360.0 L258.7,359.5 L254.7,359.0 L250.8,358.6 L247.0,358.1 L243.3,357.6 L239.8,357.1 L236.3,356.6 L233.0,356.1 L229.8,355.6 L226.7,355.1 L223.8,354.5 L221.0,354.0 L218.3,353.5 L215.8,352.9 L213.4,352.4 L211.2,351.8 L209.1,351.2 L207.2,350.6 L205.5,350.0 L203.9,349.4 L202.4,348.8 L201.2,348.2 L200.1,347.6 L199.1,347.0 L198.4,346.4 L197.8,345.7 L197.3,345.1 L197.1,344.4Z" fill="#ffbd00" transform="translate(0,0.00)"/>
<path d="M237.0,343.8 L237.1,342.8 L237.3,341.8 L237.6,340.9 L238.1,339.9 L238.7,339.0 L239.5,338.1 L240.4,337.2 L241.4,336.3 L242.6,335.5 L243.9,334.7 L245.3,333.9 L246.8,333.1 L248.5,332.3 L250.3,331.5 L252.2,330.8 L254.3,330.1 L256.4,329.4 L258.7,328.7 L261.1,328.0 L263.6,327.3 L266.2,326.6 L268.9,326.0 L271.7,325.4 L274.6,324.7 L277.6,324.1 L280.6,323.5 L283.8,322.9 L287.0,322.2 L290.3,321.6 L293.7,321.0 L297.2,320.4 L300.7,319.8 L304.3,319.2 L307.9,318.5 L311.6,317.9 L315.3,317.3 L319.1,316.6 L322.9,316.0 L326.7,315.4 L330.6,314.7 L334.5,314.1 L338.4,313.6 L342.3,313.0 L346.2,312.5 L350.2,312.0 L354.1,311.6 L358.0,311.2 L361.9,311.0 L365.8,310.8 L369.7,310.6 L373.5,310.5 L377.3,310.5 L381.1,310.6 L384.8,310.7 L388.5,310.9 L392.1,311.1 L395.7,311.3 L399.2,311.6 L402.7,312.0 L406.1,312.4 L409.4,312.8 L412.6,313.4 L415.8,313.9 L418.8,314.6 L421.8,315.3 L424.7,316.1 L427.5,317.0 L430.2,318.0 L432.8,319.1 L435.3,320.3 L437.7,321.5 L440.0,322.8 L442.1,324.2 L444.2,325.7 L446.1,327.2 L447.9,328.7 L449.6,330.2 L451.1,331.7 L452.5,333.2 L453.8,334.6 L455.0,336.0 L456.0,337.4 L456.9,338.7 L457.7,339.9 L458.3,341.1 L458.8,342.2 L459.1,343.3 L459.3,344.3 L459.4,345.3 L459.3,346.5 L459.1,347.6 L458.8,348.7 L458.3,349.9 L457.7,351.0 L456.9,352.1 L456.0,353.1 L455.0,354.2 L453.8,355.2 L452.5,356.2 L451.1,357.2 L449.6,358.1 L447.9,359.0 L446.1,359.9 L444.2,360.7 L442.1,361.4 L440.0,362.1 L437.7,362.7 L435.3,363.3 L432.8,363.8 L430.2,364.2 L427.5,364.6 L424.7,364.9 L421.8,365.2 L418.8,365.5 L415.8,365.7 L412.6,365.9 L409.4,366.1 L406.1,366.2 L402.7,366.4 L399.2,366.5 L395.7,366.7 L392.1,366.8 L388.5,366.9 L384.8,367.0 L381.1,367.1 L377.3,367.1 L373.5,367.2 L369.7,367.2 L365.8,367.1 L361.9,367.0 L358.0,366.8 L354.1,366.6 L350.2,366.4 L346.2,366.1 L342.3,365.8 L338.4,365.4 L334.5,365.0 L330.6,364.6 L326.7,364.2 L322.9,363.8 L319.1,363.3 L315.3,362.9 L311.6,362.5 L307.9,362.0 L304.3,361.6 L300.7,361.1 L297.2,360.7 L293.7,360.3 L290.3,359.8 L287.0,359.4 L283.8,359.0 L280.6,358.5 L277.6,358.1 L274.6,357.6 L271.7,357.1 L268.9,356.7 L266.2,356.2 L263.6,355.7 L261.1,355.2 L258.7,354.7 L256.4,354.2 L254.3,353.7 L252.2,353.2 L250.3,352.6 L248.5,352.1 L246.8,351.5 L245.3,350.9 L243.9,350.3 L242.6,349.7 L241.4,349.1 L240.4,348.5 L239.5,347.9 L238.7,347.2 L238.1,346.5 L237.6,345.9 L237.3,345.2 L237.1,344.5Z" fill="#ff8900" transform="translate(0,0.00)"/>
<path d="M265.7,343.6 L265.8,342.8 L265.9,341.9 L266.2,341.1 L266.6,340.3 L267.1,339.5 L267.7,338.7 L268.5,337.9 L269.3,337.1 L270.2,336.4 L271.3,335.6 L272.4,334.9 L273.7,334.2 L275.1,333.5 L276.5,332.8 L278.1,332.1 L279.8,331.4 L281.5,330.8 L283.4,330.1 L285.3,329.5 L287.3,328.9 L289.5,328.3 L291.7,327.7 L293.9,327.1 L296.3,326.5 L298.7,325.9 L301.2,325.4 L303.8,324.8 L306.4,324.2 L309.1,323.7 L311.9,323.1 L314.7,322.6 L317.6,322.1 L320.5,321.5 L323.5,321.0 L326.5,320.5 L329.5,320.0 L332.6,319.5 L335.7,319.0 L338.8,318.5 L341.9,318.1 L345.1,317.6 L348.3,317.2 L351.5,316.9 L354.7,316.5 L357.8,316.2 L361.0,316.0 L364.2,315.8 L367.4,315.6 L370.6,315.5 L373.7,315.4 L376.8,315.3 L379.9,315.3 L383.0,315.4 L386.0,315.5 L389.0,315.6 L392.0,315.8 L394.9,316.0 L397.8,316.2 L400.6,316.6 L403.4,316.9 L406.1,317.3 L408.7,317.8 L411.3,318.3 L413.8,318.9 L416.2,319.6 L418.6,320.3 L420.8,321.1 L423.0,321.9 L425.2,322.8 L427.2,323.8 L429.1,324.9 L431.0,326.0 L432.7,327.1 L434.4,328.2 L436.0,329.4 L437.4,330.6 L438.8,331.8 L440.1,333.0 L441.2,334.2 L442.3,335.4 L443.2,336.5 L444.0,337.6 L444.8,338.7 L445.4,339.8 L445.9,340.8 L446.3,341.9 L446.6,342.9 L446.7,343.9 L446.8,344.9 L446.7,345.9 L446.6,346.9 L446.3,347.9 L445.9,348.9 L445.4,349.9 L444.8,350.9 L444.0,351.8 L443.2,352.8 L442.3,353.7 L441.2,354.6 L440.1,355.4 L438.8,356.2 L437.4,357.0 L436.0,357.7 L434.4,358.4 L432.7,359.0 L431.0,359.6 L429.1,360.2 L427.2,360.7 L425.2,361.2 L423.0,361.6 L420.8,362.0 L418.6,362.4 L416.2,362.7 L413.8,363.0 L411.3,363.3 L408.7,363.5 L406.1,363.7 L403.4,363.9 L400.6,364.0 L397.8,364.2 L394.9,364.3 L392.0,364.4 L389.0,364.6 L386.0,364.7 L383.0,364.8 L379.9,364.8 L376.8,364.9 L373.7,364.9 L370.6,364.9 L367.4,364.9 L364.2,364.9 L361.0,364.8 L357.8,364.7 L354.7,364.5 L351.5,364.3 L348.3,364.1 L345.1,363.9 L341.9,363.6 L338.8,363.3 L335.7,363.0 L332.6,362.7 L329.5,362.3 L326.5,362.0 L323.5,361.6 L320.5,361.2 L317.6,360.8 L314.7,360.4 L311.9,360.0 L309.1,359.6 L306.4,359.2 L303.8,358.7 L301.2,358.3 L298.7,357.8 L296.3,357.4 L293.9,356.9 L291.7,356.4 L289.5,355.9 L287.3,355.5 L285.3,355.0 L283.4,354.4 L281.5,353.9 L279.8,353.4 L278.1,352.8 L276.5,352.3 L275.1,351.7 L273.7,351.1 L272.4,350.6 L271.3,350.0 L270.2,349.4 L269.3,348.8 L268.5,348.1 L267.7,347.5 L267.1,346.9 L266.6,346.2 L266.2,345.6 L265.9,344.9 L265.8,344.3Z" fill="#ff5900" transform="translate(0,0.00)"/>
<path d="M293.5,344.4 L293.5,343.7 L293.7,343.0 L293.9,342.3 L294.2,341.5 L294.6,340.8 L295.1,340.1 L295.6,339.5 L296.3,338.8 L297.0,338.1 L297.8,337.4 L298.7,336.8 L299.7,336.1 L300.8,335.5 L301.9,334.8 L303.1,334.2 L304.4,333.6 L305.8,333.0 L307.2,332.4 L308.7,331.9 L310.3,331.3 L311.9,330.7 L313.6,330.2 L315.4,329.7 L317.2,329.2 L319.1,328.7 L321.0,328.2 L323.0,327.7 L325.1,327.2 L327.2,326.8 L329.3,326.3 L331.5,325.9 L333.7,325.5 L335.9,325.1 L338.2,324.7 L340.6,324.4 L342.9,324.0 L345.3,323.7 L347.7,323.4 L350.1,323.1 L352.6,322.9 L355.0,322.6 L357.5,322.4 L359.9,322.2 L362.4,322.1 L364.9,321.9 L367.4,321.8 L369.8,321.7 L372.3,321.7 L374.7,321.6 L377.2,321.6 L379.6,321.6 L382.0,321.7 L384.4,321.8 L386.7,321.9 L389.1,322.1 L391.4,322.2 L393.6,322.4 L395.8,322.7 L398.0,323.0 L400.1,323.3 L402.2,323.6 L404.3,324.0 L406.3,324.4 L408.2,324.9 L410.1,325.4 L411.9,326.0 L413.7,326.6 L415.4,327.3 L417.0,328.1 L418.6,328.8 L420.1,329.6 L421.5,330.5 L422.9,331.3 L424.2,332.2 L425.4,333.1 L426.5,334.0 L427.6,334.9 L428.6,335.8 L429.5,336.6 L430.3,337.5 L431.0,338.3 L431.7,339.1 L432.2,339.9 L432.7,340.7 L433.1,341.5 L433.4,342.3 L433.6,343.1 L433.8,343.8 L433.8,344.6 L433.8,345.4 L433.6,346.3 L433.4,347.1 L433.1,348.0 L432.7,348.8 L432.2,349.7 L431.7,350.5 L431.0,351.3 L430.3,352.1 L429.5,352.9 L428.6,353.6 L427.6,354.4 L426.5,355.0 L425.4,355.7 L424.2,356.3 L422.9,356.9 L421.5,357.4 L420.1,357.9 L418.6,358.4 L417.0,358.8 L415.4,359.2 L413.7,359.5 L411.9,359.9 L410.1,360.1 L408.2,360.4 L406.3,360.6 L404.3,360.8 L402.2,361.0 L400.1,361.2 L398.0,361.3 L395.8,361.5 L393.6,361.6 L391.4,361.7 L389.1,361.8 L386.7,362.0 L384.4,362.1 L382.0,362.1 L379.6,362.2 L377.2,362.3 L374.7,362.3 L372.3,362.3 L369.8,362.4 L367.4,362.3 L364.9,362.3 L362.4,362.3 L359.9,362.2 L357.5,362.1 L355.0,362.0 L352.6,361.9 L350.1,361.7 L347.7,361.5 L345.3,361.3 L342.9,361.1 L340.6,360.9 L338.2,360.6 L335.9,360.3 L333.7,360.0 L331.5,359.7 L329.3,359.4 L327.2,359.0 L325.1,358.7 L323.0,358.3 L321.0,357.9 L319.1,357.5 L317.2,357.1 L315.4,356.7 L313.6,356.3 L311.9,355.8 L310.3,355.4 L308.7,354.9 L307.2,354.4 L305.8,353.9 L304.4,353.4 L303.1,352.9 L301.9,352.4 L300.8,351.9 L299.7,351.3 L298.7,350.8 L297.8,350.2 L297.0,349.7 L296.3,349.1 L295.6,348.5 L295.1,348.0 L294.6,347.4 L294.2,346.8 L293.9,346.2 L293.7,345.6 L293.5,345.0Z" fill="#ff2500" transform="translate(0,0.00)"/>
<path d="M320.6,344.6 L320.6,344.1 L320.7,343.6 L320.9,343.1 L321.1,342.6 L321.4,342.1 L321.7,341.6 L322.1,341.1 L322.5,340.6 L323.0,340.1 L323.6,339.6 L324.2,339.2 L324.9,338.7 L325.6,338.3 L326.4,337.9 L327.3,337.4 L328.2,337.0 L329.1,336.6 L330.1,336.2 L331.1,335.8 L332.2,335.4 L333.4,335.1 L334.6,334.7 L335.8,334.4 L337.1,334.0 L338.4,333.7 L339.7,333.4 L341.1,333.1 L342.5,332.8 L344.0,332.5 L345.4,332.2 L347.0,331.9 L348.5,331.7 L350.1,331.4 L351.7,331.2 L353.3,330.9 L354.9,330.7 L356.6,330.5 L358.2,330.3 L359.9,330.1 L361.6,329.9 L363.3,329.7 L365.0,329.6 L366.7,329.4 L368.4,329.3 L370.2,329.2 L371.9,329.1 L373.6,329.1 L375.3,329.0 L377.0,329.0 L378.7,329.1 L380.4,329.1 L382.0,329.2 L383.7,329.3 L385.3,329.5 L386.9,329.7 L388.5,329.9 L390.1,330.1 L391.6,330.4 L393.2,330.7 L394.6,331.1 L396.1,331.5 L397.5,331.9 L398.9,332.3 L400.2,332.8 L401.5,333.3 L402.8,333.8 L404.0,334.3 L405.2,334.8 L406.4,335.4 L407.5,336.0 L408.5,336.5 L409.5,337.1 L410.4,337.7 L411.3,338.2 L412.2,338.8 L413.0,339.3 L413.7,339.7 L414.4,340.2 L415.0,340.6 L415.6,341.0 L416.1,341.4 L416.5,341.8 L416.9,342.2 L417.2,342.6 L417.5,342.9 L417.7,343.3 L417.9,343.7 L418.0,344.0 L418.0,344.4 L418.0,345.0 L417.9,345.6 L417.7,346.2 L417.5,346.8 L417.2,347.4 L416.9,348.0 L416.5,348.6 L416.1,349.2 L415.6,349.7 L415.0,350.2 L414.4,350.8 L413.7,351.3 L413.0,351.7 L412.2,352.2 L411.3,352.7 L410.4,353.1 L409.5,353.6 L408.5,354.0 L407.5,354.4 L406.4,354.8 L405.2,355.2 L404.0,355.6 L402.8,356.0 L401.5,356.3 L400.2,356.6 L398.9,356.9 L397.5,357.2 L396.1,357.5 L394.6,357.7 L393.2,357.9 L391.6,358.1 L390.1,358.3 L388.5,358.4 L386.9,358.5 L385.3,358.6 L383.7,358.7 L382.0,358.8 L380.4,358.8 L378.7,358.9 L377.0,358.9 L375.3,358.9 L373.6,359.0 L371.9,359.0 L370.2,358.9 L368.4,358.9 L366.7,358.9 L365.0,358.8 L363.3,358.8 L361.6,358.7 L359.9,358.6 L358.2,358.5 L356.6,358.4 L354.9,358.2 L353.3,358.1 L351.7,357.9 L350.1,357.7 L348.5,357.5 L347.0,357.2 L345.4,357.0 L344.0,356.8 L342.5,356.5 L341.1,356.2 L339.7,355.9 L338.4,355.6 L337.1,355.3 L335.8,354.9 L334.6,354.6 L333.4,354.2 L332.2,353.8 L331.1,353.4 L330.1,353.0 L329.1,352.6 L328.2,352.2 L327.3,351.8 L326.4,351.4 L325.6,350.9 L324.9,350.5 L324.2,350.0 L323.6,349.5 L323.0,349.1 L322.5,348.6 L322.1,348.1 L321.7,347.6 L321.4,347.1 L321.1,346.6 L320.9,346.1 L320.7,345.6 L320.6,345.1Z" fill="#da0000" transform="translate(0,0.00)"/>
<path d="M356.1,345.0 L356.1,344.8 L356.1,344.6 L356.2,344.4 L356.3,344.2 L356.4,344.0 L356.5,343.8 L356.6,343.6 L356.8,343.4 L357.0,343.2 L357.2,343.0 L357.4,342.8 L357.7,342.6 L358.0,342.4 L358.2,342.2 L358.6,342.0 L358.9,341.8 L359.2,341.7 L359.6,341.5 L360.0,341.3 L360.4,341.2 L360.8,341.0 L361.2,340.9 L361.7,340.7 L362.1,340.6 L362.6,340.4 L363.1,340.3 L363.6,340.2 L364.2,340.1 L364.7,340.0 L365.2,339.9 L365.8,339.8 L366.4,339.7 L366.9,339.6 L367.5,339.5 L368.1,339.4 L368.7,339.4 L369.3,339.3 L369.9,339.3 L370.5,339.2 L371.2,339.2 L371.8,339.1 L372.4,339.1 L373.1,339.1 L373.7,339.1 L374.3,339.1 L374.9,339.1 L375.6,339.1 L376.2,339.1 L376.8,339.2 L377.5,339.2 L378.1,339.3 L378.7,339.3 L379.3,339.4 L379.9,339.4 L380.5,339.5 L381.1,339.6 L381.6,339.7 L382.2,339.8 L382.8,339.9 L383.3,340.0 L383.8,340.1 L384.4,340.2 L384.9,340.3 L385.4,340.4 L385.9,340.6 L386.3,340.7 L386.8,340.9 L387.2,341.0 L387.6,341.2 L388.0,341.3 L388.4,341.5 L388.8,341.7 L389.1,341.8 L389.4,342.0 L389.8,342.2 L390.0,342.4 L390.3,342.6 L390.6,342.8 L390.8,343.0 L391.0,343.2 L391.2,343.4 L391.4,343.6 L391.5,343.8 L391.6,344.0 L391.7,344.2 L391.8,344.4 L391.9,344.6 L391.9,344.8 L391.9,345.0 L391.9,345.2 L391.9,345.4 L391.8,345.6 L391.7,345.8 L391.6,346.0 L391.5,346.2 L391.4,346.4 L391.2,346.6 L391.0,346.8 L390.8,347.0 L390.6,347.2 L390.3,347.4 L390.0,347.6 L389.8,347.8 L389.4,348.0 L389.1,348.2 L388.8,348.3 L388.4,348.5 L388.0,348.7 L387.6,348.8 L387.2,349.0 L386.8,349.1 L386.3,349.3 L385.9,349.4 L385.4,349.6 L384.9,349.7 L384.4,349.8 L383.8,349.9 L383.3,350.0 L382.8,350.1 L382.2,350.2 L381.6,350.3 L381.1,350.4 L380.5,350.5 L379.9,350.6 L379.3,350.6 L378.7,350.7 L378.1,350.7 L377.5,350.8 L376.8,350.8 L376.2,350.9 L375.6,350.9 L374.9,350.9 L374.3,350.9 L373.7,350.9 L373.1,350.9 L372.4,350.9 L371.8,350.9 L371.2,350.8 L370.5,350.8 L369.9,350.7 L369.3,350.7 L368.7,350.6 L368.1,350.6 L367.5,350.5 L366.9,350.4 L366.4,350.3 L365.8,350.2 L365.2,350.1 L364.7,350.0 L364.2,349.9 L363.6,349.8 L363.1,349.7 L362.6,349.6 L362.1,349.4 L361.7,349.3 L361.2,349.1 L360.8,349.0 L360.4,348.8 L360.0,348.7 L359.6,348.5 L359.2,348.3 L358.9,348.2 L358.6,348.0 L358.2,347.8 L358.0,347.6 L357.7,347.4 L357.4,347.2 L357.2,347.0 L357.0,346.8 L356.8,346.6 L356.6,346.4 L356.5,346.2 L356.4,346.0 L356.3,345.8 L356.2,345.6 L356.1,345.4 L356.1,345.2Z" fill="#9b0000" transform="translate(0,0.00)"/>
</g></g>
<rect x="119.8" y="36.3" width="703.8000000000001" height="602.6" fill="none" stroke="#000" stroke-width="1.6"/>
<line x1="119.80" y1="638.9" x2="119.80" y2="646.6999999999999" stroke="#000" stroke-width="1.6"/>
<text x="119.80" y="675.50" font-size="28.7" font-family="DejaVu Sans, Liberation Sans, sans-serif" text-anchor="middle" letter-spacing="0.5" >0.00</text>
<line x1="119.8" y1="638.90" x2="112.0" y2="638.90" stroke="#000" stroke-width="1.6"/>
<text x="105.20" y="649.50" font-size="28.7" font-family="DejaVu Sans, Liberation Sans, sans-serif" text-anchor="end" letter-spacing="0.5" >0.00</text>
<line x1="255.70" y1="638.9" x2="255.70" y2="646.6999999999999" stroke="#000" stroke-width="1.6"/>
<text x="255.70" y="675.50" font-size="28.7" font-family="DejaVu Sans, Liberation Sans, sans-serif" text-anchor="middle" letter-spacing="0.5" >0.02</text>
<line x1="119.8" y1="524.66" x2="112.0" y2="524.66" stroke="#000" stroke-width="1.6"/>
<text x="105.20" y="535.26" font-size="28.7" font-family="DejaVu Sans, Liberation Sans, sans-serif" text-anchor="end" letter-spacing="0.5" >0.02</text>
<line x1="391.60" y1="638.9" x2="391.60" y2="646.6999999999999" stroke="#000" stroke-width="1.6"/>
<text x="391.60" y="675.50" font-size="28.7" font-family="DejaVu Sans, Liberation Sans, sans-serif" text-anchor="middle" letter-spacing="0.5" >0.04</text>
<line x1="119.8" y1="410.42" x2="112.0" y2="410.42" stroke="#000" stroke-width="1.6"/>
<text x="105.20" y="421.02" font-size="28.7" font-family="DejaVu Sans, Liberation Sans, sans-serif" text-anchor="end" letter-spacing="0.5" >0.04</text>
<line x1="527.50" y1="638.9" x2="527.50" y2="646.6999999999999" stroke="#000" stroke-width="1.6"/>
<text x="527.50" y="675.50" font-size="28.7" font-family="DejaVu Sans, Liberation Sans, sans-serif" text-anchor="middle" letter-spacing="0.5" >0.06</text>
<line x1="119.8" y1="296.18" x2="112.0" y2="296.18" stroke="#000" stroke-width="1.6"/>
<text x="105.20" y="306.78" font-size="28.7" font-family="DejaVu Sans, Liberation Sans, sans-serif" text-anchor="end" letter-spacing="0.5" >0.06</text>
<line x1="663.40" y1="638.9" x2="663.40" y2="646.6999999999999" stroke="#000" stroke-width="1.6"/>
<text x="663.40" y="675.50" font-size="28.7" font-family="DejaVu Sans, Liberation Sans, sans-serif" text-anchor="middle" letter-spacing="0.5" >0.08</text>
<line x1="119.8" y1="181.94" x2="112.0" y2="181.94" stroke="#000" stroke-width="1.6"/>
<text x="105.20" y="192.54" font-size="28.7" font-family="DejaVu Sans, Liberation Sans, sans-serif" text-anchor="end" letter-spacing="0.5" >0.08</text>
<line x1="799.30" y1="638.9" x2="799.30" y2="646.6999999999999" stroke="#000" stroke-width="1.6"/>
<text x="799.30" y="675.50" font-size="28.7" font-family="DejaVu Sans, Liberation Sans, sans-serif" text-anchor="middle" letter-spacing="0.5" >0.10</text>
<line x1="119.8" y1="67.70" x2="112.0" y2="67.70" stroke="#000" stroke-width="1.6"/>
<text x="105.20" y="78.30" font-size="28.7" font-family="DejaVu Sans, Liberation Sans, sans-serif" text-anchor="end" letter-spacing="0.5" >0.10</text>
<text x="471.70" y="712.70" font-size="28.7" font-family="DejaVu Sans, Liberation Sans, sans-serif" text-anchor="middle" letter-spacing="0.5" >R (m)</text>
<text transform="translate(24.1,337.60) rotate(-90)" font-size="28.7" font-family="DejaVu Sans, Liberation Sans, sans-serif" text-anchor="middle" letter-spacing="0.5">Z (m)</text>
<rect x="868.0" y="607.18" width="29.0" height="32.22" fill="#00009b"/>
<rect x="868.0" y="575.47" width="29.0" height="32.22" fill="#0000da"/>
<rect x="868.0" y="543.75" width="29.0" height="32.22" fill="#0004ff"/>
<rect x="868.0" y="512.04" width="29.0" height="32.22" fill="#003cff"/>
<rect x="868.0" y="480.32" width="29.0" height="32.22" fill="#0070ff"/>
<rect x="868.0" y="448.61" width="29.0" height="32.22" fill="#00a8ff"/>
<rect x="868.0" y="416.89" width="29.0" height="32.22" fill="#00dcfe"/>
<rect x="868.0" y="385.17" width="29.0" height="32.22" fill="#26ffd1"/>
<rect x="868.0" y="353.46" width="29.0" height="32.22" fill="#50ffa7"/>
<rect x="868.0" y="321.74" width="29.0" height="32.22" fill="#7dff7a"/>
<rect x="868.0" y="290.03" width="29.0" height="32.22" fill="#a7ff50"/>
<rect x="868.0" y="258.31" width="29.0" height="32.22" fill="#d1ff26"/>
<rect x="868.0" y="226.59" width="29.0" height="32.22" fill="#feed00"/>
<rect x="868.0" y="194.88" width="29.0" height="32.22" fill="#ffbd00"/>
<rect x="868.0" y="163.16" width="29.0" height="32.22" fill="#ff8900"/>
<rect x="868.0" y="131.45" width="29.0" height="32.22" fill="#ff5900"/>
<rect x="868.0" y="99.73" width="29.0" height="32.22" fill="#ff2500"/>
<rect x="868.0" y="68.02" width="29.0" height="32.22" fill="#da0000"/>
<rect x="868.0" y="36.30" width="29.0" height="32.22" fill="#9b0000"/>
<rect x="868.0" y="36.3" width="29.0" height="602.6" fill="none" stroke="#000" stroke-width="1.6"/>
<line x1="897.0" y1="638.90" x2="904.8" y2="638.90" stroke="#000" stroke-width="1.6"/>
<text x="911.20" y="649.50" font-size="28.7" font-family="DejaVu Sans, Liberation Sans, sans-serif" text-anchor="start" letter-spacing="0.5" >0.000</text>
<line x1="897.0" y1="575.47" x2="904.8" y2="575.47" stroke="#000" stroke-width="1.6"/>
<text x="911.20" y="586.07" font-size="28.7" font-family="DejaVu Sans, Liberation Sans, sans-serif" text-anchor="start" letter-spacing="0.5" >0.295</text>
<line x1="897.0" y1="512.04" x2="904.8" y2="512.04" stroke="#000" stroke-width="1.6"/>
<text x="911.20" y="522.64" font-size="28.7" font-family="DejaVu Sans, Liberation Sans, sans-serif" text-anchor="start" letter-spacing="0.5" >0.589</text>
<line x1="897.0" y1="448.61" x2="904.8" y2="448.61" stroke="#000" stroke-width="1.6"/>
<text x="911.20" y="459.21" font-size="28.7" font-family="DejaVu Sans, Liberation Sans, sans-serif" text-anchor="start" letter-spacing="0.5" >0.884</text>
<line x1="897.0" y1="385.17" x2="904.8" y2="385.17" stroke="#000" stroke-width="1.6"/>
<text x="911.20" y="395.77" font-size="28.7" font-family="DejaVu Sans, Liberation Sans, sans-serif" text-anchor="start" letter-spacing="0.5" >1.179</text>
<line x1="897.0" y1="321.74" x2="904.8" y2="321.74" stroke="#000" stroke-width="1.6"/>
<text x="911.20" y="332.34" font-size="28.7" font-family="DejaVu Sans, Liberation Sans, sans-serif" text-anchor="start" letter-spacing="0.5" >1.474</text>
<line x1="897.0" y1="258.31" x2="904.8" y2="258.31" stroke="#000" stroke-width="1.6"/>
<text x="911.20" y="268.91" font-size="28.7" font-family="DejaVu Sans, Liberation Sans, sans-serif" text-anchor="start" letter-spacing="0.5" >1.768</text>
<line x1="897.0" y1="194.88" x2="904.8" y2="194.88" stroke="#000" stroke-width="1.6"/>
<text x="911.20" y="205.48" font-size="28.7" font-family="DejaVu Sans, Liberation Sans, sans-serif" text-anchor="start" letter-spacing="0.5" >2.063</text>
<line x1="897.0" y1="131.45" x2="904.8" y2="131.45" stroke="#000" stroke-width="1.6"/>
<text x="911.20" y="142.05" font-size="28.7" font-family="DejaVu Sans, Liberation Sans, sans-serif" text-anchor="start" letter-spacing="0.5" >2.358</text>
<line x1="897.0" y1="68.02" x2="904.8" y2="68.02" stroke="#000" stroke-width="1.6"/>
<text x="911.20" y="78.62" font-size="28.7" font-family="DejaVu Sans, Liberation Sans, sans-serif" text-anchor="start" letter-spacing="0.5" >2.653</text>
<text x="822.60" y="29.50" font-size="28.7" font-family="DejaVu Sans, Liberation Sans, sans-serif" text-anchor="start" letter-spacing="0.5" >1e15</text>
<text x="914.4" y="25.6" font-size="30" letter-spacing="0.6" font-family="Liberation Sans, sans-serif">(m<tspan dy="-9.5" font-size="17.5">-3</tspan><tspan dy="9.5">)</tspan></text>
<text x="143.2" y="87.2" font-size="33" font-family="Liberation Sans, sans-serif">(a)</text>
<text x="197.8" y="89.5" font-size="46.4" font-family="Liberation Serif, serif">YNS model</text>
<clipPath id="clip738"><path d="M119.8,965.4999999999999 H474.1 V738.5999999999999 H823.6 V1341.1999999999998 H474.1 V1114.1 H119.8 Z"/></clipPath>
<g clip-path="url(#clip738)"><g filter="url(#soft)">
<rect x="107.8" y="726.5999999999999" width="727.8000000000001" height="626.5999999999999" fill="#00009b"/>
<path d="M89.8,278.2 L92.8,278.1 L95.8,278.1 L98.8,278.0 L101.8,278.0 L104.8,277.9 L107.8,277.9 L110.8,277.8 L113.8,277.8 L116.8,277.8 L119.8,277.7 L122.8,277.7 L125.8,277.7 L128.8,277.6 L131.8,277.6 L134.8,277.5 L137.8,277.5 L140.8,277.5 L143.8,277.4 L146.7,277.4 L149.7,277.4 L152.7,277.3 L155.7,277.3 L158.7,277.3 L161.7,277.2 L164.7,277.2 L167.7,277.1 L170.7,277.1 L173.7,277.1 L176.7,277.0 L179.7,277.0 L182.7,276.9 L185.7,276.8 L188.7,276.8 L191.7,276.7 L194.7,276.7 L197.7,276.6 L200.7,276.5 L203.7,276.4 L206.7,276.4 L209.7,276.3 L212.7,276.2 L215.7,276.1 L218.7,276.0 L221.7,275.9 L224.7,275.9 L227.7,275.8 L230.7,275.7 L233.7,275.6 L236.7,275.5 L239.7,275.5 L242.6,275.4 L245.6,275.4 L248.6,275.3 L251.6,275.3 L254.6,275.2 L257.6,275.2 L260.6,275.1 L263.6,275.1 L266.6,275.1 L269.6,275.0 L272.6,275.0 L275.6,275.0 L278.6,275.0 L281.6,275.0 L284.6,274.9 L287.6,274.9 L290.6,274.9 L293.6,274.9 L296.6,274.9 L299.6,274.9 L302.6,274.9 L305.6,274.9 L308.6,274.9 L311.6,274.9 L314.6,274.9 L317.6,274.9 L320.6,274.9 L323.6,274.9 L326.6,274.9 L329.6,274.9 L332.6,274.9 L335.6,274.9 L338.6,274.9 L341.6,274.9 L344.6,274.9 L347.6,274.9 L350.6,274.9 L353.6,274.9 L356.6,274.9 L359.5,274.9 L362.5,274.9 L365.5,274.9 L368.5,274.9 L371.5,274.9 L374.5,274.9 L377.5,274.9 L380.5,274.8 L383.5,274.8 L386.5,274.9 L389.5,274.9 L392.5,274.9 L395.5,274.9 L398.5,274.9 L401.5,274.9 L404.5,275.0 L407.5,275.0 L410.5,275.0 L413.5,275.1 L416.5,275.1 L419.5,275.2 L422.5,275.2 L425.5,275.3 L428.5,275.4 L431.5,275.4 L434.5,275.5 L437.5,275.5 L440.5,275.6 L443.5,275.6 L446.5,275.7 L449.5,275.7 L452.5,275.7 L455.5,275.6 L458.5,275.5 L461.4,275.2 L464.4,275.0 L467.4,274.5 L470.3,273.9 L473.2,273.1 L476.0,272.1 L478.7,270.8 L481.3,269.2 L483.6,267.3 L485.8,265.3 L487.9,263.1 L489.7,260.8 L491.5,258.3 L493.2,255.8 L494.7,253.2 L496.0,250.6 L497.3,247.9 L498.5,245.1 L499.7,242.4 L500.8,239.6 L501.8,236.8 L502.9,234.0 L503.9,231.1 L504.9,228.3 L506.0,225.5 L507.0,222.7 L508.0,219.9 L509.1,217.1 L510.1,214.3 L511.1,211.4 L512.2,208.6 L513.3,205.8 L514.3,203.0 L515.4,200.2 L516.5,197.4 L517.6,194.6 L518.7,191.9 L519.8,189.1 L521.0,186.3 L522.2,183.6 L523.4,180.8 L524.7,178.1 L526.0,175.4 L527.3,172.8 L528.8,170.1 L530.2,167.5 L531.7,164.9 L533.3,162.4 L534.9,159.8 L536.6,157.4 L538.4,154.9 L540.2,152.5 L542.0,150.2 L543.9,147.9 L545.9,145.6 L548.0,143.4 L550.1,141.3 L552.2,139.2 L554.5,137.2 L556.7,135.3 L559.1,133.4 L561.4,131.6 L563.9,129.8 L566.4,128.2 L568.9,126.6 L571.5,125.0 L574.1,123.6 L576.8,122.3 L579.5,121.0 L582.3,119.9 L585.1,118.8 L587.9,117.8 L590.8,116.9 L593.7,116.1 L596.6,115.4 L599.5,114.7 L602.5,114.2 L605.4,113.7 L608.4,113.3 L611.4,112.9 L614.4,112.7 L617.3,112.4 L620.3,112.3 L623.3,112.2 L626.3,112.1 L629.3,112.1 L632.3,112.2 L635.3,112.2 L638.3,112.3 L641.3,112.5 L644.3,112.7 L647.3,112.9 L650.3,113.1 L653.3,113.5 L656.2,113.9 L659.2,114.3 L662.1,114.9 L665.1,115.5 L668.0,116.2 L670.9,116.9 L673.8,117.8 L676.6,118.7 L679.5,119.6 L682.3,120.7 L685.0,121.8 L687.8,123.0 L690.5,124.2 L693.2,125.6 L695.9,126.9 L698.5,128.4 L701.1,129.9 L703.7,131.4 L706.2,133.1 L708.6,134.8 L711.1,136.5 L713.4,138.4 L715.8,140.3 L718.0,142.2 L720.2,144.3 L722.4,146.4 L724.4,148.5 L726.4,150.8 L728.4,153.1 L730.2,155.4 L732.0,157.8 L733.6,160.3 L735.2,162.9 L736.8,165.5 L738.2,168.1 L739.6,170.7 L740.9,173.4 L742.2,176.1 L743.4,178.9 L744.6,181.6 L745.8,184.4 L746.9,187.2 L747.9,190.0 L749.0,192.8 L750.0,195.6 L750.9,198.5 L751.8,201.3 L752.7,204.2 L753.6,207.0 L754.4,209.9 L755.2,212.8 L756.0,215.7 L756.7,218.6 L757.4,221.5 L758.1,224.4 L758.8,227.4 L759.5,230.3 L760.1,233.2 L760.7,236.2 L761.3,239.1 L761.9,242.0 L762.4,245.0 L762.9,247.9 L763.4,250.9 L763.9,253.9 L764.3,256.8 L764.8,259.8 L765.2,262.8 L765.6,265.7 L766.0,268.7 L766.3,271.7 L766.7,274.7 L767.1,277.6 L767.4,280.6 L767.7,283.6 L768.1,286.6 L768.4,289.5 L768.7,292.5 L769.0,295.5 L769.2,298.5 L769.5,301.5 L769.7,304.5 L770.0,307.5 L770.2,310.4 L770.4,313.4 L770.6,316.4 L770.8,319.4 L770.9,322.4 L771.0,325.4 L771.2,328.4 L771.2,331.4 L771.3,334.4 L771.4,337.4 L771.4,340.4 L771.4,343.4 L771.4,346.4 L771.4,349.4 L771.3,352.4 L771.2,355.4 L771.1,358.4 L771.0,361.4 L770.9,364.4 L770.7,367.4 L770.5,370.4 L770.3,373.3 L770.1,376.3 L769.8,379.3 L769.5,382.3 L769.3,385.3 L768.9,388.3 L768.6,391.2 L768.3,394.2 L767.9,397.2 L767.6,400.2 L767.2,403.2 L766.8,406.1 L766.4,409.1 L766.0,412.1 L765.5,415.0 L765.1,418.0 L764.6,421.0 L764.2,423.9 L763.7,426.9 L763.2,429.8 L762.7,432.8 L762.1,435.7 L761.6,438.7 L761.0,441.6 L760.4,444.6 L759.8,447.5 L759.2,450.4 L758.5,453.3 L757.8,456.3 L757.1,459.2 L756.4,462.1 L755.6,465.0 L754.8,467.9 L754.0,470.7 L753.1,473.6 L752.2,476.5 L751.3,479.3 L750.4,482.2 L749.4,485.0 L748.4,487.8 L747.3,490.6 L746.2,493.4 L745.1,496.2 L744.0,499.0 L742.8,501.7 L741.5,504.5 L740.2,507.2 L738.9,509.8 L737.5,512.5 L736.0,515.1 L734.5,517.7 L733.0,520.3 L731.3,522.8 L729.6,525.2 L727.8,527.7 L726.0,530.0 L724.1,532.3 L722.0,534.5 L719.9,536.7 L717.8,538.7 L715.5,540.7 L713.2,542.6 L710.8,544.4 L708.3,546.1 L705.8,547.7 L703.2,549.2 L700.6,550.7 L697.9,552.1 L695.2,553.3 L692.5,554.5 L689.7,555.7 L686.9,556.7 L684.0,557.6 L681.2,558.5 L678.3,559.3 L675.4,560.1 L672.5,560.7 L669.5,561.4 L666.6,561.9 L663.6,562.4 L660.7,562.9 L657.7,563.3 L654.7,563.7 L651.7,564.0 L648.8,564.3 L645.8,564.5 L642.8,564.7 L639.8,564.9 L636.8,565.0 L633.8,565.0 L630.8,565.0 L627.8,565.0 L624.8,564.9 L621.8,564.8 L618.8,564.6 L615.8,564.4 L612.8,564.1 L609.9,563.7 L606.9,563.3 L603.9,562.8 L601.0,562.3 L598.1,561.6 L595.2,560.9 L592.3,560.1 L589.4,559.3 L586.6,558.3 L583.7,557.3 L581.0,556.2 L578.2,555.0 L575.5,553.7 L572.8,552.3 L570.2,550.9 L567.6,549.4 L565.1,547.8 L562.6,546.1 L560.1,544.4 L557.7,542.6 L555.4,540.8 L553.1,538.8 L550.8,536.8 L548.6,534.8 L546.5,532.7 L544.4,530.5 L542.4,528.3 L540.5,526.0 L538.6,523.7 L536.7,521.3 L535.0,518.9 L533.2,516.5 L531.5,514.0 L529.9,511.5 L528.4,508.9 L526.8,506.3 L525.4,503.7 L524.0,501.1 L522.6,498.4 L521.3,495.7 L520.0,493.0 L518.7,490.3 L517.5,487.5 L516.3,484.8 L515.2,482.0 L514.0,479.3 L512.9,476.5 L511.9,473.7 L510.8,470.9 L509.7,468.1 L508.7,465.2 L507.7,462.4 L506.7,459.6 L505.7,456.8 L504.7,454.0 L503.6,451.1 L502.6,448.3 L501.5,445.5 L500.5,442.7 L499.4,439.9 L498.3,437.1 L497.1,434.4 L496.0,431.6 L494.8,428.9 L493.6,426.1 L492.4,423.4 L491.1,420.7 L489.8,418.0 L488.4,415.3 L487.0,412.7 L485.4,410.1 L483.7,407.6 L481.9,405.2 L479.9,403.0 L477.7,401.0 L475.3,399.2 L472.8,397.6 L470.0,396.4 L467.2,395.3 L464.3,394.6 L461.4,394.0 L458.4,393.7 L455.4,393.4 L452.4,393.3 L449.4,393.3 L446.4,393.3 L443.4,393.4 L440.4,393.5 L437.4,393.5 L434.4,393.6 L431.4,393.7 L428.4,393.7 L425.4,393.7 L422.5,393.8 L419.5,393.8 L416.5,393.8 L413.5,393.8 L410.5,393.8 L407.5,393.8 L404.5,393.8 L401.5,393.8 L398.5,393.8 L395.5,393.8 L392.5,393.8 L389.5,393.8 L386.5,393.8 L383.5,393.8 L380.5,393.8 L377.5,393.8 L374.5,393.8 L371.5,393.8 L368.5,393.8 L365.5,393.8 L362.5,393.8 L359.5,393.8 L356.5,393.7 L353.5,393.7 L350.5,393.7 L347.5,393.7 L344.5,393.6 L341.5,393.6 L338.5,393.5 L335.5,393.5 L332.5,393.4 L329.5,393.4 L326.5,393.3 L323.5,393.3 L320.5,393.2 L317.5,393.2 L314.5,393.1 L311.5,393.0 L308.6,393.0 L305.6,392.9 L302.6,392.9 L299.6,392.8 L296.6,392.7 L293.6,392.6 L290.6,392.6 L287.6,392.5 L284.6,392.4 L281.6,392.3 L278.6,392.3 L275.6,392.2 L272.6,392.1 L269.6,392.0 L266.6,391.9 L263.6,391.8 L260.6,391.7 L257.6,391.6 L254.6,391.5 L251.6,391.4 L248.6,391.3 L245.6,391.2 L242.6,391.1 L239.6,390.9 L236.6,390.8 L233.6,390.7 L230.7,390.6 L227.7,390.4 L224.7,390.3 L221.7,390.2 L218.7,390.0 L215.7,389.9 L212.7,389.8 L209.7,389.7 L206.7,389.6 L203.7,389.5 L200.7,389.4 L197.7,389.3 L194.7,389.2 L191.7,389.1 L188.7,389.1 L185.7,389.0 L182.7,388.9 L179.7,388.9 L176.7,388.9 L173.7,388.8 L170.7,388.8 L167.7,388.8 L164.7,388.8 L161.7,388.8 L158.7,388.7 L155.7,388.7 L152.7,388.7 L149.8,388.7 L146.8,388.7 L143.8,388.7 L140.8,388.7 L137.8,388.7 L134.8,388.7 L131.8,388.7 L128.8,388.7 L125.8,388.7 L122.8,388.7 L119.8,388.7 L116.8,388.7 L113.8,388.7 L110.8,388.7 L107.8,388.6 L104.8,388.6 L101.8,388.6 L98.8,388.6 L95.8,388.5 L92.8,388.5 L89.8,388.5Z" fill="#0000da" transform="translate(0,702.30)"/>
<path d="M89.8,281.0 L92.8,280.9 L95.8,280.9 L98.8,280.8 L101.8,280.8 L104.8,280.7 L107.8,280.7 L110.8,280.7 L113.8,280.6 L116.8,280.6 L119.8,280.5 L122.8,280.5 L125.8,280.5 L128.7,280.4 L131.7,280.4 L134.7,280.4 L137.7,280.3 L140.7,280.3 L143.7,280.3 L146.7,280.3 L149.7,280.2 L152.7,280.2 L155.7,280.2 L158.7,280.1 L161.7,280.1 L164.7,280.0 L167.7,280.0 L170.7,280.0 L173.7,279.9 L176.7,279.9 L179.7,279.8 L182.7,279.8 L185.7,279.7 L188.7,279.6 L191.7,279.6 L194.7,279.5 L197.7,279.4 L200.6,279.3 L203.6,279.2 L206.6,279.1 L209.6,279.0 L212.6,278.9 L215.6,278.8 L218.6,278.7 L221.6,278.6 L224.6,278.5 L227.6,278.4 L230.6,278.3 L233.6,278.3 L236.6,278.2 L239.6,278.1 L242.6,278.0 L245.6,277.9 L248.6,277.9 L251.6,277.8 L254.6,277.7 L257.6,277.7 L260.5,277.6 L263.5,277.6 L266.5,277.6 L269.5,277.5 L272.5,277.5 L275.5,277.4 L278.5,277.4 L281.5,277.4 L284.5,277.4 L287.5,277.3 L290.5,277.3 L293.5,277.3 L296.5,277.3 L299.5,277.3 L302.5,277.2 L305.5,277.2 L308.5,277.2 L311.5,277.2 L314.5,277.2 L317.5,277.2 L320.5,277.1 L323.5,277.1 L326.5,277.1 L329.5,277.1 L332.5,277.1 L335.5,277.0 L338.4,277.0 L341.4,277.0 L344.4,277.0 L347.4,277.0 L350.4,277.0 L353.4,276.9 L356.4,276.9 L359.4,276.9 L362.4,276.9 L365.4,276.9 L368.4,277.0 L371.4,277.0 L374.4,277.0 L377.4,277.0 L380.4,277.0 L383.4,277.0 L386.4,277.0 L389.4,277.1 L392.4,277.1 L395.4,277.1 L398.4,277.1 L401.4,277.1 L404.4,277.2 L407.4,277.2 L410.4,277.2 L413.4,277.2 L416.3,277.3 L419.3,277.3 L422.3,277.3 L425.3,277.4 L428.3,277.5 L431.3,277.6 L434.3,277.7 L437.3,277.8 L440.3,277.9 L443.3,278.1 L446.3,278.3 L449.3,278.4 L452.3,278.5 L455.3,278.6 L458.3,278.6 L461.3,278.5 L464.3,278.4 L467.2,278.1 L470.2,277.7 L473.1,277.1 L476.0,276.3 L478.9,275.4 L481.6,274.2 L484.3,272.8 L486.8,271.2 L489.2,269.4 L491.4,267.4 L493.5,265.3 L495.6,263.0 L497.5,260.7 L499.4,258.4 L501.2,256.0 L503.0,253.6 L504.8,251.2 L506.6,248.8 L508.3,246.4 L510.1,244.0 L512.0,241.6 L513.8,239.3 L515.6,236.9 L517.5,234.6 L519.4,232.2 L521.2,229.9 L523.1,227.6 L525.1,225.3 L527.0,223.0 L528.9,220.7 L530.9,218.4 L532.9,216.2 L534.8,213.9 L536.9,211.7 L538.9,209.5 L541.0,207.4 L543.1,205.2 L545.2,203.1 L547.4,201.1 L549.7,199.1 L551.9,197.1 L554.3,195.3 L556.7,193.5 L559.1,191.7 L561.6,190.1 L564.2,188.6 L566.8,187.1 L569.5,185.8 L572.2,184.5 L575.0,183.3 L577.8,182.3 L580.6,181.3 L583.5,180.4 L586.4,179.7 L589.3,179.0 L592.2,178.4 L595.2,177.9 L598.2,177.5 L601.1,177.3 L604.1,177.1 L607.1,177.0 L610.1,176.9 L613.1,177.0 L616.1,177.1 L619.1,177.4 L622.1,177.7 L625.0,178.1 L628.0,178.5 L631.0,179.1 L633.9,179.7 L636.8,180.4 L639.7,181.1 L642.6,182.0 L645.4,182.9 L648.2,183.9 L651.0,185.0 L653.8,186.1 L656.5,187.4 L659.2,188.7 L661.9,190.1 L664.5,191.6 L667.0,193.1 L669.5,194.8 L672.0,196.5 L674.4,198.3 L676.8,200.1 L679.1,202.0 L681.3,204.0 L683.5,206.0 L685.7,208.1 L687.8,210.3 L689.8,212.5 L691.8,214.7 L693.8,217.0 L695.7,219.3 L697.5,221.7 L699.3,224.1 L701.0,226.5 L702.7,229.0 L704.4,231.5 L706.0,234.0 L707.5,236.6 L709.0,239.2 L710.5,241.8 L711.9,244.4 L713.2,247.1 L714.5,249.8 L715.7,252.6 L716.9,255.3 L718.0,258.1 L719.1,260.9 L720.1,263.7 L721.1,266.5 L722.0,269.4 L722.9,272.3 L723.7,275.1 L724.5,278.0 L725.3,280.9 L726.0,283.8 L726.7,286.7 L727.3,289.7 L727.9,292.6 L728.5,295.5 L729.0,298.5 L729.5,301.4 L730.0,304.4 L730.5,307.4 L730.9,310.3 L731.3,313.3 L731.7,316.3 L732.0,319.3 L732.3,322.2 L732.5,325.2 L732.8,328.2 L733.0,331.2 L733.1,334.2 L733.2,337.2 L733.3,340.2 L733.3,343.2 L733.2,346.2 L733.2,349.2 L733.0,352.2 L732.8,355.1 L732.6,358.1 L732.3,361.1 L732.0,364.1 L731.6,367.1 L731.2,370.0 L730.8,373.0 L730.3,376.0 L729.7,378.9 L729.1,381.8 L728.5,384.8 L727.9,387.7 L727.2,390.6 L726.5,393.5 L725.7,396.4 L724.9,399.3 L724.1,402.2 L723.3,405.1 L722.4,407.9 L721.5,410.8 L720.5,413.6 L719.5,416.5 L718.5,419.3 L717.5,422.1 L716.4,424.9 L715.3,427.7 L714.1,430.4 L712.9,433.2 L711.7,435.9 L710.4,438.6 L709.1,441.3 L707.8,444.0 L706.4,446.6 L704.9,449.3 L703.4,451.8 L701.8,454.4 L700.2,456.9 L698.6,459.4 L696.8,461.9 L695.1,464.3 L693.2,466.6 L691.3,468.9 L689.3,471.2 L687.3,473.4 L685.1,475.5 L683.0,477.5 L680.7,479.5 L678.4,481.4 L676.0,483.2 L673.6,485.0 L671.1,486.6 L668.5,488.2 L665.9,489.7 L663.3,491.1 L660.6,492.4 L657.8,493.6 L655.1,494.8 L652.3,495.9 L649.5,496.9 L646.6,497.9 L643.8,498.8 L640.9,499.5 L638.0,500.3 L635.0,500.9 L632.1,501.4 L629.1,501.9 L626.2,502.3 L623.2,502.6 L620.2,502.8 L617.2,503.0 L614.2,503.0 L611.2,503.0 L608.2,502.9 L605.2,502.7 L602.2,502.5 L599.3,502.2 L596.3,501.8 L593.3,501.3 L590.4,500.7 L587.5,500.1 L584.6,499.3 L581.7,498.5 L578.8,497.7 L576.0,496.7 L573.2,495.6 L570.4,494.5 L567.7,493.3 L564.9,492.0 L562.3,490.7 L559.6,489.2 L557.1,487.7 L554.5,486.1 L552.0,484.5 L549.6,482.8 L547.1,481.0 L544.8,479.2 L542.5,477.3 L540.2,475.3 L537.9,473.3 L535.8,471.3 L533.6,469.2 L531.5,467.1 L529.4,464.9 L527.4,462.7 L525.4,460.5 L523.4,458.2 L521.5,455.9 L519.6,453.6 L517.8,451.2 L516.0,448.8 L514.2,446.4 L512.5,444.0 L510.8,441.5 L509.2,439.0 L507.6,436.4 L506.0,433.8 L504.6,431.2 L503.1,428.6 L501.6,426.0 L500.2,423.4 L498.7,420.8 L497.2,418.2 L495.6,415.6 L494.0,413.1 L492.3,410.6 L490.6,408.2 L488.8,405.8 L486.8,403.5 L484.8,401.4 L482.6,399.3 L480.3,397.4 L477.8,395.7 L475.2,394.2 L472.6,392.8 L469.8,391.7 L466.9,390.8 L464.0,390.1 L461.1,389.5 L458.1,389.0 L455.2,388.6 L452.2,388.2 L449.2,388.0 L446.2,387.8 L443.2,387.6 L440.2,387.5 L437.2,387.5 L434.2,387.4 L431.2,387.4 L428.2,387.4 L425.2,387.4 L422.2,387.5 L419.2,387.6 L416.3,387.6 L413.3,387.7 L410.3,387.8 L407.3,387.9 L404.3,388.0 L401.3,388.1 L398.3,388.1 L395.3,388.2 L392.3,388.3 L389.3,388.3 L386.3,388.3 L383.3,388.4 L380.3,388.4 L377.3,388.4 L374.3,388.4 L371.3,388.3 L368.3,388.3 L365.3,388.2 L362.3,388.2 L359.3,388.1 L356.3,388.0 L353.3,387.9 L350.4,387.8 L347.4,387.7 L344.4,387.5 L341.4,387.4 L338.4,387.3 L335.4,387.1 L332.4,387.0 L329.4,386.9 L326.4,386.7 L323.4,386.6 L320.4,386.5 L317.4,386.4 L314.4,386.3 L311.4,386.2 L308.4,386.1 L305.4,386.1 L302.4,386.0 L299.5,386.0 L296.5,385.9 L293.5,385.9 L290.5,385.8 L287.5,385.8 L284.5,385.7 L281.5,385.7 L278.5,385.7 L275.5,385.6 L272.5,385.6 L269.5,385.5 L266.5,385.5 L263.5,385.4 L260.5,385.4 L257.5,385.3 L254.5,385.2 L251.5,385.1 L248.5,385.1 L245.5,384.9 L242.5,384.8 L239.5,384.7 L236.6,384.6 L233.6,384.4 L230.6,384.3 L227.6,384.1 L224.6,383.9 L221.6,383.8 L218.6,383.6 L215.6,383.4 L212.6,383.3 L209.6,383.1 L206.6,382.9 L203.6,382.8 L200.6,382.6 L197.7,382.5 L194.7,382.4 L191.7,382.3 L188.7,382.2 L185.7,382.1 L182.7,382.1 L179.7,382.0 L176.7,382.0 L173.7,381.9 L170.7,381.9 L167.7,381.9 L164.7,381.9 L161.7,381.9 L158.7,381.9 L155.7,381.8 L152.7,381.9 L149.7,381.9 L146.7,381.9 L143.7,381.9 L140.7,381.9 L137.7,381.9 L134.7,381.9 L131.7,381.9 L128.8,381.9 L125.8,381.9 L122.8,381.9 L119.8,381.9 L116.8,381.9 L113.8,381.9 L110.8,381.9 L107.8,381.9 L104.8,381.9 L101.8,381.8 L98.8,381.8 L95.8,381.8 L92.8,381.8 L89.8,381.7Z" fill="#0004ff" transform="translate(0,702.30)"/>
<path d="M89.8,284.0 L92.8,283.9 L95.8,283.9 L98.8,283.8 L101.8,283.7 L104.8,283.7 L107.8,283.6 L110.8,283.5 L113.8,283.5 L116.8,283.4 L119.8,283.4 L122.8,283.3 L125.8,283.3 L128.8,283.2 L131.8,283.1 L134.8,283.1 L137.8,283.0 L140.8,283.0 L143.8,282.9 L146.8,282.9 L149.7,282.8 L152.7,282.8 L155.7,282.7 L158.7,282.7 L161.7,282.6 L164.7,282.6 L167.7,282.5 L170.7,282.4 L173.7,282.4 L176.7,282.3 L179.7,282.2 L182.7,282.1 L185.7,282.0 L188.7,282.0 L191.7,281.9 L194.7,281.8 L197.7,281.7 L200.7,281.5 L203.7,281.4 L206.7,281.3 L209.7,281.2 L212.7,281.1 L215.7,280.9 L218.7,280.8 L221.7,280.7 L224.7,280.6 L227.7,280.4 L230.7,280.3 L233.6,280.2 L236.6,280.1 L239.6,280.0 L242.6,279.9 L245.6,279.8 L248.6,279.8 L251.6,279.7 L254.6,279.6 L257.6,279.6 L260.6,279.5 L263.6,279.5 L266.6,279.5 L269.6,279.4 L272.6,279.4 L275.6,279.4 L278.6,279.4 L281.6,279.3 L284.6,279.3 L287.6,279.3 L290.6,279.3 L293.6,279.3 L296.6,279.3 L299.6,279.3 L302.6,279.3 L305.6,279.2 L308.6,279.2 L311.6,279.2 L314.6,279.2 L317.6,279.2 L320.6,279.2 L323.6,279.1 L326.6,279.1 L329.6,279.1 L332.6,279.1 L335.6,279.0 L338.6,279.0 L341.6,279.0 L344.6,278.9 L347.6,278.9 L350.6,278.9 L353.6,278.9 L356.6,278.9 L359.6,278.9 L362.6,278.9 L365.6,278.9 L368.5,278.9 L371.5,278.9 L374.5,278.9 L377.5,278.9 L380.5,278.9 L383.5,278.9 L386.5,279.0 L389.5,279.0 L392.5,279.0 L395.5,279.0 L398.5,279.0 L401.5,279.0 L404.5,279.1 L407.5,279.1 L410.5,279.1 L413.5,279.1 L416.5,279.1 L419.5,279.2 L422.5,279.2 L425.5,279.3 L428.5,279.4 L431.5,279.5 L434.5,279.6 L437.5,279.7 L440.5,279.9 L443.5,280.1 L446.5,280.2 L449.5,280.4 L452.5,280.6 L455.5,280.6 L458.5,280.7 L461.5,280.6 L464.4,280.4 L467.4,280.2 L470.4,279.8 L473.3,279.2 L476.3,278.5 L479.2,277.7 L482.0,276.7 L484.8,275.6 L487.5,274.3 L490.1,272.9 L492.7,271.4 L495.2,269.8 L497.7,268.1 L500.1,266.3 L502.5,264.5 L504.9,262.7 L507.3,260.9 L509.6,259.0 L512.0,257.2 L514.4,255.3 L516.7,253.5 L519.1,251.7 L521.5,249.9 L523.9,248.1 L526.3,246.3 L528.8,244.6 L531.2,242.8 L533.7,241.2 L536.2,239.5 L538.7,237.9 L541.3,236.4 L543.9,234.9 L546.5,233.4 L549.2,232.0 L551.9,230.8 L554.6,229.6 L557.4,228.4 L560.3,227.4 L563.1,226.5 L566.0,225.8 L568.9,225.1 L571.9,224.5 L574.8,224.1 L577.8,223.8 L580.8,223.6 L583.8,223.5 L586.8,223.5 L589.8,223.6 L592.8,223.8 L595.8,224.1 L598.7,224.5 L601.7,225.1 L604.6,225.7 L607.5,226.4 L610.4,227.2 L613.3,228.0 L616.1,229.0 L619.0,230.0 L621.8,231.1 L624.5,232.3 L627.2,233.6 L629.9,234.9 L632.6,236.3 L635.2,237.8 L637.8,239.3 L640.3,240.9 L642.8,242.6 L645.2,244.3 L647.6,246.1 L650.0,248.0 L652.3,249.9 L654.5,251.9 L656.7,254.0 L658.8,256.1 L660.9,258.2 L662.9,260.5 L664.8,262.8 L666.7,265.1 L668.5,267.5 L670.3,269.9 L672.0,272.4 L673.6,274.9 L675.1,277.5 L676.6,280.1 L678.0,282.7 L679.3,285.4 L680.6,288.1 L681.8,290.9 L682.9,293.7 L683.9,296.5 L684.9,299.3 L685.8,302.2 L686.6,305.1 L687.3,308.0 L688.0,310.9 L688.6,313.9 L689.1,316.8 L689.6,319.8 L689.9,322.7 L690.3,325.7 L690.5,328.7 L690.8,331.7 L690.9,334.7 L691.0,337.7 L691.0,340.7 L691.0,343.7 L690.9,346.7 L690.7,349.7 L690.5,352.7 L690.2,355.6 L689.8,358.6 L689.4,361.6 L688.9,364.5 L688.4,367.5 L687.7,370.4 L687.0,373.3 L686.2,376.2 L685.4,379.1 L684.5,382.0 L683.5,384.8 L682.5,387.6 L681.4,390.4 L680.2,393.2 L678.9,395.9 L677.6,398.6 L676.3,401.2 L674.8,403.9 L673.3,406.5 L671.7,409.0 L670.1,411.5 L668.4,414.0 L666.7,416.4 L664.8,418.8 L663.0,421.2 L661.1,423.5 L659.1,425.7 L657.0,427.9 L654.9,430.1 L652.8,432.2 L650.6,434.2 L648.3,436.2 L646.0,438.1 L643.7,439.9 L641.3,441.7 L638.8,443.4 L636.3,445.1 L633.7,446.6 L631.1,448.1 L628.5,449.5 L625.8,450.8 L623.0,452.0 L620.2,453.1 L617.4,454.2 L614.6,455.1 L611.7,455.9 L608.8,456.7 L605.9,457.3 L602.9,457.8 L600.0,458.2 L597.0,458.6 L594.0,458.8 L591.0,458.9 L588.0,458.8 L585.0,458.7 L582.0,458.5 L579.0,458.2 L576.0,457.8 L573.1,457.2 L570.2,456.6 L567.2,455.9 L564.4,455.1 L561.5,454.2 L558.7,453.3 L555.9,452.2 L553.1,451.1 L550.3,449.9 L547.6,448.6 L544.9,447.3 L542.2,445.9 L539.6,444.5 L537.0,443.1 L534.4,441.6 L531.8,440.0 L529.3,438.4 L526.8,436.7 L524.4,434.9 L522.0,433.1 L519.7,431.2 L517.4,429.3 L515.2,427.2 L513.1,425.2 L511.0,423.0 L508.9,420.8 L506.9,418.6 L504.9,416.4 L502.9,414.1 L501.0,411.8 L499.0,409.6 L497.0,407.3 L495.0,405.1 L492.9,403.0 L490.7,400.9 L488.5,398.9 L486.1,397.1 L483.7,395.3 L481.1,393.7 L478.5,392.3 L475.8,391.1 L472.9,390.1 L470.1,389.2 L467.2,388.5 L464.2,387.9 L461.3,387.4 L458.3,386.9 L455.3,386.5 L452.4,386.1 L449.4,385.7 L446.4,385.4 L443.4,385.1 L440.4,384.9 L437.4,384.7 L434.4,384.6 L431.5,384.5 L428.5,384.4 L425.5,384.4 L422.5,384.4 L419.5,384.5 L416.5,384.6 L413.5,384.6 L410.5,384.7 L407.5,384.8 L404.5,384.9 L401.5,385.0 L398.5,385.1 L395.5,385.2 L392.5,385.2 L389.5,385.3 L386.5,385.3 L383.5,385.3 L380.5,385.3 L377.5,385.3 L374.5,385.3 L371.5,385.3 L368.5,385.2 L365.5,385.2 L362.5,385.1 L359.5,385.1 L356.5,385.0 L353.5,384.9 L350.5,384.8 L347.5,384.7 L344.5,384.6 L341.5,384.5 L338.5,384.4 L335.5,384.2 L332.5,384.1 L329.6,384.0 L326.6,383.9 L323.6,383.8 L320.6,383.7 L317.6,383.6 L314.6,383.5 L311.6,383.4 L308.6,383.3 L305.6,383.3 L302.6,383.2 L299.6,383.1 L296.6,383.1 L293.6,383.0 L290.6,382.9 L287.6,382.9 L284.6,382.8 L281.6,382.8 L278.6,382.7 L275.6,382.7 L272.6,382.6 L269.6,382.6 L266.6,382.5 L263.6,382.4 L260.6,382.4 L257.6,382.3 L254.6,382.2 L251.6,382.1 L248.6,382.0 L245.6,381.9 L242.6,381.8 L239.6,381.7 L236.6,381.6 L233.7,381.4 L230.7,381.3 L227.7,381.1 L224.7,381.0 L221.7,380.8 L218.7,380.7 L215.7,380.5 L212.7,380.4 L209.7,380.2 L206.7,380.1 L203.7,379.9 L200.7,379.8 L197.7,379.7 L194.7,379.6 L191.7,379.5 L188.7,379.4 L185.7,379.3 L182.7,379.3 L179.7,379.2 L176.7,379.1 L173.7,379.1 L170.7,379.1 L167.7,379.0 L164.7,379.0 L161.8,379.0 L158.8,378.9 L155.8,378.9 L152.8,378.9 L149.8,378.9 L146.8,378.9 L143.8,378.9 L140.8,378.9 L137.8,378.9 L134.8,378.8 L131.8,378.8 L128.8,378.8 L125.8,378.8 L122.8,378.8 L119.8,378.8 L116.8,378.8 L113.8,378.7 L110.8,378.7 L107.8,378.7 L104.8,378.6 L101.8,378.6 L98.8,378.6 L95.8,378.5 L92.8,378.5 L89.8,378.4Z" fill="#003cff" transform="translate(0,702.30)"/>
<path d="M89.8,286.9 L92.8,286.9 L95.8,286.8 L98.8,286.7 L101.8,286.6 L104.8,286.6 L107.8,286.5 L110.7,286.4 L113.7,286.3 L116.7,286.3 L119.7,286.2 L122.7,286.1 L125.7,286.0 L128.7,286.0 L131.7,285.9 L134.7,285.9 L137.7,285.8 L140.7,285.7 L143.7,285.7 L146.6,285.6 L149.6,285.5 L152.6,285.5 L155.6,285.4 L158.6,285.3 L161.6,285.3 L164.6,285.2 L167.6,285.1 L170.6,285.0 L173.6,285.0 L176.6,284.9 L179.6,284.8 L182.6,284.7 L185.5,284.6 L188.5,284.5 L191.5,284.4 L194.5,284.3 L197.5,284.1 L200.5,284.0 L203.5,283.9 L206.5,283.7 L209.5,283.6 L212.5,283.5 L215.4,283.3 L218.4,283.2 L221.4,283.0 L224.4,282.9 L227.4,282.8 L230.4,282.6 L233.4,282.5 L236.4,282.4 L239.4,282.3 L242.4,282.2 L245.3,282.1 L248.3,282.0 L251.3,281.9 L254.3,281.8 L257.3,281.8 L260.3,281.7 L263.3,281.7 L266.3,281.6 L269.3,281.6 L272.3,281.5 L275.3,281.5 L278.3,281.5 L281.3,281.4 L284.2,281.4 L287.2,281.4 L290.2,281.4 L293.2,281.3 L296.2,281.3 L299.2,281.3 L302.2,281.3 L305.2,281.2 L308.2,281.2 L311.2,281.2 L314.2,281.2 L317.2,281.1 L320.2,281.1 L323.2,281.0 L326.1,281.0 L329.1,280.9 L332.1,280.9 L335.1,280.8 L338.1,280.8 L341.1,280.8 L344.1,280.7 L347.1,280.7 L350.1,280.6 L353.1,280.6 L356.1,280.6 L359.1,280.6 L362.1,280.5 L365.1,280.5 L368.0,280.5 L371.0,280.6 L374.0,280.6 L377.0,280.6 L380.0,280.6 L383.0,280.7 L386.0,280.7 L389.0,280.7 L392.0,280.8 L395.0,280.8 L398.0,280.8 L401.0,280.9 L404.0,280.9 L407.0,280.9 L409.9,281.0 L412.9,281.0 L415.9,281.1 L418.9,281.1 L421.9,281.2 L424.9,281.2 L427.9,281.3 L430.9,281.4 L433.9,281.6 L436.9,281.7 L439.9,281.8 L442.8,282.0 L445.8,282.2 L448.8,282.4 L451.8,282.5 L454.8,282.6 L457.8,282.7 L460.8,282.7 L463.8,282.6 L466.8,282.4 L469.7,282.1 L472.7,281.8 L475.7,281.4 L478.6,280.9 L481.6,280.3 L484.5,279.7 L487.4,278.9 L490.2,278.0 L493.1,277.0 L495.8,275.9 L498.6,274.7 L501.3,273.5 L504.1,272.2 L506.8,271.0 L509.4,269.6 L512.1,268.3 L514.8,267.0 L517.5,265.8 L520.3,264.5 L523.0,263.3 L525.8,262.1 L528.5,261.0 L531.3,259.9 L534.1,258.8 L536.9,257.8 L539.8,256.9 L542.6,256.0 L545.5,255.2 L548.4,254.5 L551.3,253.9 L554.3,253.4 L557.3,253.0 L560.2,252.8 L563.2,252.7 L566.2,252.7 L569.2,252.9 L572.2,253.2 L575.2,253.6 L578.1,254.1 L581.1,254.7 L584.0,255.3 L586.8,256.1 L589.7,257.0 L592.5,258.0 L595.3,259.1 L598.1,260.3 L600.8,261.6 L603.4,262.9 L606.1,264.4 L608.6,265.9 L611.2,267.5 L613.6,269.2 L616.1,270.9 L618.4,272.8 L620.7,274.7 L623.0,276.7 L625.1,278.8 L627.2,280.9 L629.2,283.1 L631.2,285.4 L633.1,287.7 L634.9,290.1 L636.6,292.5 L638.2,295.1 L639.7,297.6 L641.2,300.2 L642.5,302.9 L643.8,305.6 L645.0,308.4 L646.0,311.2 L647.0,314.0 L647.9,316.9 L648.7,319.8 L649.3,322.7 L649.9,325.6 L650.4,328.6 L650.8,331.5 L651.2,334.5 L651.4,337.5 L651.5,340.5 L651.5,343.5 L651.4,346.5 L651.3,349.4 L651.0,352.4 L650.6,355.4 L650.2,358.4 L649.7,361.3 L649.1,364.2 L648.3,367.1 L647.5,370.0 L646.7,372.9 L645.7,375.7 L644.6,378.5 L643.5,381.3 L642.2,384.0 L640.8,386.6 L639.4,389.3 L637.8,391.8 L636.2,394.3 L634.5,396.8 L632.7,399.2 L630.8,401.5 L628.8,403.7 L626.7,405.9 L624.6,408.0 L622.4,410.0 L620.1,411.9 L617.7,413.8 L615.3,415.5 L612.8,417.2 L610.3,418.8 L607.7,420.2 L605.0,421.6 L602.3,422.8 L599.5,423.9 L596.7,425.0 L593.8,425.9 L590.9,426.7 L588.0,427.3 L585.1,427.9 L582.1,428.3 L579.2,428.7 L576.2,428.9 L573.2,429.0 L570.2,428.9 L567.2,428.8 L564.2,428.6 L561.2,428.2 L558.3,427.8 L555.3,427.3 L552.4,426.6 L549.5,426.0 L546.6,425.2 L543.7,424.4 L540.8,423.6 L538.0,422.6 L535.2,421.6 L532.4,420.5 L529.6,419.4 L526.9,418.2 L524.2,416.9 L521.5,415.6 L518.9,414.1 L516.3,412.6 L513.7,411.1 L511.2,409.4 L508.8,407.7 L506.3,406.0 L503.9,404.2 L501.5,402.5 L499.1,400.7 L496.6,399.0 L494.2,397.3 L491.7,395.6 L489.1,394.1 L486.4,392.7 L483.7,391.4 L481.0,390.3 L478.2,389.2 L475.3,388.3 L472.4,387.6 L469.5,386.9 L466.6,386.4 L463.6,385.9 L460.6,385.5 L457.7,385.0 L454.7,384.6 L451.7,384.2 L448.8,383.9 L445.8,383.5 L442.8,383.2 L439.8,383.0 L436.9,382.8 L433.9,382.6 L430.9,382.5 L427.9,382.5 L424.9,382.5 L421.9,382.5 L418.9,382.5 L415.9,382.6 L412.9,382.6 L409.9,382.7 L406.9,382.8 L403.9,382.9 L401.0,383.0 L398.0,383.1 L395.0,383.1 L392.0,383.2 L389.0,383.2 L386.0,383.3 L383.0,383.3 L380.0,383.3 L377.0,383.3 L374.0,383.3 L371.0,383.3 L368.0,383.2 L365.0,383.2 L362.0,383.1 L359.1,383.0 L356.1,382.9 L353.1,382.8 L350.1,382.7 L347.1,382.6 L344.1,382.5 L341.1,382.3 L338.1,382.2 L335.1,382.0 L332.1,381.9 L329.2,381.8 L326.2,381.7 L323.2,381.5 L320.2,381.4 L317.2,381.3 L314.2,381.2 L311.2,381.1 L308.2,381.0 L305.2,381.0 L302.2,380.9 L299.2,380.8 L296.2,380.8 L293.3,380.7 L290.3,380.7 L287.3,380.6 L284.3,380.6 L281.3,380.6 L278.3,380.5 L275.3,380.5 L272.3,380.4 L269.3,380.4 L266.3,380.3 L263.3,380.3 L260.3,380.2 L257.3,380.2 L254.4,380.1 L251.4,380.0 L248.4,379.9 L245.4,379.8 L242.4,379.8 L239.4,379.6 L236.4,379.5 L233.4,379.4 L230.4,379.3 L227.4,379.1 L224.4,379.0 L221.5,378.8 L218.5,378.7 L215.5,378.6 L212.5,378.4 L209.5,378.3 L206.5,378.1 L203.5,378.0 L200.5,377.9 L197.5,377.8 L194.5,377.7 L191.6,377.6 L188.6,377.5 L185.6,377.4 L182.6,377.4 L179.6,377.3 L176.6,377.2 L173.6,377.2 L170.6,377.2 L167.6,377.1 L164.6,377.1 L161.6,377.1 L158.6,377.0 L155.6,377.0 L152.6,377.0 L149.7,377.0 L146.7,377.0 L143.7,377.0 L140.7,377.0 L137.7,376.9 L134.7,376.9 L131.7,376.9 L128.7,376.9 L125.7,376.9 L122.7,376.9 L119.7,376.9 L116.7,376.8 L113.7,376.8 L110.7,376.8 L107.8,376.8 L104.8,376.7 L101.8,376.7 L98.8,376.6 L95.8,376.6 L92.8,376.6 L89.8,376.5Z" fill="#0070ff" transform="translate(0,702.30)"/>
<path d="M89.8,290.5 L92.8,290.4 L95.8,290.3 L98.8,290.2 L101.8,290.1 L104.8,290.0 L107.8,289.9 L110.8,289.8 L113.8,289.7 L116.8,289.6 L119.8,289.6 L122.8,289.5 L125.8,289.4 L128.8,289.3 L131.8,289.2 L134.8,289.1 L137.8,289.1 L140.8,289.0 L143.8,288.9 L146.8,288.8 L149.8,288.7 L152.8,288.6 L155.7,288.6 L158.7,288.5 L161.7,288.4 L164.7,288.3 L167.7,288.2 L170.7,288.1 L173.7,288.0 L176.7,287.9 L179.7,287.8 L182.7,287.7 L185.7,287.6 L188.7,287.5 L191.7,287.3 L194.7,287.2 L197.7,287.1 L200.7,286.9 L203.7,286.8 L206.7,286.6 L209.7,286.5 L212.7,286.3 L215.7,286.2 L218.7,286.0 L221.7,285.9 L224.7,285.7 L227.7,285.6 L230.7,285.5 L233.7,285.3 L236.6,285.2 L239.6,285.1 L242.6,285.0 L245.6,284.8 L248.6,284.7 L251.6,284.7 L254.6,284.6 L257.6,284.5 L260.6,284.4 L263.6,284.3 L266.6,284.3 L269.6,284.2 L272.6,284.2 L275.6,284.1 L278.6,284.0 L281.6,284.0 L284.6,283.9 L287.6,283.9 L290.6,283.8 L293.6,283.8 L296.6,283.8 L299.6,283.7 L302.6,283.7 L305.6,283.6 L308.6,283.6 L311.6,283.5 L314.6,283.4 L317.6,283.4 L320.6,283.3 L323.6,283.3 L326.6,283.2 L329.6,283.1 L332.6,283.0 L335.6,283.0 L338.6,282.9 L341.6,282.8 L344.6,282.8 L347.6,282.7 L350.6,282.7 L353.6,282.6 L356.6,282.6 L359.6,282.6 L362.6,282.6 L365.6,282.6 L368.6,282.6 L371.6,282.6 L374.6,282.6 L377.6,282.7 L380.6,282.7 L383.6,282.8 L386.6,282.8 L389.6,282.8 L392.6,282.9 L395.6,282.9 L398.6,283.0 L401.6,283.0 L404.6,283.0 L407.6,283.0 L410.6,283.1 L413.6,283.1 L416.6,283.1 L419.6,283.2 L422.5,283.2 L425.5,283.3 L428.5,283.4 L431.5,283.5 L434.5,283.6 L437.5,283.8 L440.5,283.9 L443.5,284.1 L446.5,284.4 L449.5,284.6 L452.5,284.7 L455.5,284.9 L458.5,285.0 L461.5,285.0 L464.5,285.0 L467.5,284.8 L470.5,284.6 L473.4,284.2 L476.4,283.8 L479.4,283.2 L482.3,282.6 L485.2,281.8 L488.1,281.0 L491.0,280.2 L493.8,279.3 L496.7,278.4 L499.6,277.5 L502.4,276.6 L505.3,275.8 L508.2,274.9 L511.1,274.2 L514.0,273.5 L516.9,272.9 L519.9,272.3 L522.8,271.9 L525.8,271.5 L528.8,271.3 L531.8,271.1 L534.8,271.0 L537.8,271.0 L540.8,271.1 L543.8,271.3 L546.8,271.5 L549.8,271.9 L552.7,272.3 L555.7,272.8 L558.6,273.4 L561.5,274.2 L564.4,275.1 L567.2,276.1 L570.0,277.2 L572.7,278.5 L575.4,279.9 L578.0,281.4 L580.5,283.0 L583.0,284.7 L585.3,286.5 L587.7,288.4 L589.9,290.4 L592.1,292.4 L594.2,294.6 L596.2,296.8 L598.1,299.1 L600.0,301.5 L601.8,303.9 L603.5,306.3 L605.1,308.9 L606.6,311.5 L608.0,314.1 L609.3,316.8 L610.6,319.5 L611.7,322.3 L612.7,325.1 L613.6,328.0 L614.4,330.9 L615.0,333.8 L615.5,336.8 L615.8,339.8 L616.0,342.8 L616.0,345.8 L615.9,348.7 L615.6,351.7 L615.2,354.7 L614.6,357.6 L613.9,360.6 L613.0,363.4 L612.1,366.3 L611.0,369.1 L609.8,371.8 L608.4,374.5 L607.0,377.1 L605.4,379.7 L603.8,382.2 L602.0,384.6 L600.1,386.9 L598.1,389.2 L596.0,391.3 L593.9,393.4 L591.6,395.3 L589.2,397.1 L586.7,398.8 L584.1,400.4 L581.5,401.8 L578.8,403.2 L576.1,404.3 L573.3,405.4 L570.4,406.4 L567.5,407.2 L564.6,407.9 L561.7,408.5 L558.7,409.0 L555.8,409.4 L552.8,409.7 L549.8,409.8 L546.8,409.9 L543.8,409.8 L540.8,409.5 L537.8,409.2 L534.9,408.7 L531.9,408.0 L529.0,407.3 L526.1,406.5 L523.3,405.6 L520.5,404.6 L517.7,403.5 L514.9,402.3 L512.1,401.1 L509.4,399.9 L506.7,398.6 L504.0,397.3 L501.3,396.0 L498.6,394.7 L495.9,393.5 L493.1,392.3 L490.4,391.1 L487.6,390.0 L484.8,388.9 L481.9,388.0 L479.1,387.1 L476.2,386.3 L473.2,385.6 L470.3,385.1 L467.3,384.6 L464.4,384.1 L461.4,383.7 L458.4,383.3 L455.5,383.0 L452.5,382.6 L449.5,382.2 L446.5,381.9 L443.5,381.6 L440.5,381.3 L437.6,381.1 L434.6,381.0 L431.6,380.9 L428.6,380.8 L425.6,380.8 L422.6,380.8 L419.6,380.8 L416.6,380.9 L413.6,380.9 L410.6,381.0 L407.6,381.1 L404.6,381.2 L401.6,381.3 L398.6,381.4 L395.6,381.4 L392.6,381.5 L389.6,381.5 L386.6,381.6 L383.6,381.6 L380.6,381.6 L377.6,381.6 L374.6,381.6 L371.6,381.6 L368.6,381.5 L365.6,381.5 L362.6,381.4 L359.6,381.3 L356.6,381.3 L353.6,381.2 L350.6,381.0 L347.6,380.9 L344.6,380.8 L341.6,380.7 L338.6,380.5 L335.6,380.4 L332.6,380.2 L329.6,380.1 L326.6,380.0 L323.6,379.9 L320.6,379.7 L317.6,379.6 L314.7,379.5 L311.7,379.4 L308.7,379.4 L305.7,379.3 L302.7,379.2 L299.7,379.2 L296.7,379.1 L293.7,379.1 L290.7,379.0 L287.7,379.0 L284.7,378.9 L281.7,378.9 L278.7,378.8 L275.7,378.8 L272.7,378.7 L269.7,378.7 L266.7,378.6 L263.7,378.6 L260.7,378.5 L257.7,378.5 L254.7,378.4 L251.7,378.3 L248.7,378.3 L245.7,378.2 L242.7,378.1 L239.7,378.0 L236.7,377.8 L233.7,377.7 L230.7,377.6 L227.7,377.5 L224.7,377.3 L221.7,377.2 L218.7,377.0 L215.7,376.9 L212.7,376.7 L209.7,376.6 L206.7,376.5 L203.7,376.3 L200.7,376.2 L197.8,376.1 L194.8,376.0 L191.8,375.9 L188.8,375.8 L185.8,375.7 L182.8,375.7 L179.8,375.6 L176.8,375.6 L173.8,375.5 L170.8,375.5 L167.8,375.4 L164.8,375.4 L161.8,375.4 L158.8,375.4 L155.8,375.3 L152.8,375.3 L149.8,375.3 L146.8,375.3 L143.8,375.3 L140.8,375.3 L137.8,375.3 L134.8,375.2 L131.8,375.2 L128.8,375.2 L125.8,375.2 L122.8,375.2 L119.8,375.2 L116.8,375.1 L113.8,375.1 L110.8,375.1 L107.8,375.1 L104.8,375.0 L101.8,375.0 L98.8,375.0 L95.8,374.9 L92.8,374.9 L89.8,374.8Z" fill="#00a8ff" transform="translate(0,702.30)"/>
<path d="M89.8,294.6 L92.8,294.5 L95.8,294.3 L98.8,294.2 L101.8,294.1 L104.8,294.0 L107.7,293.9 L110.7,293.8 L113.7,293.7 L116.7,293.6 L119.7,293.5 L122.7,293.4 L125.7,293.3 L128.7,293.2 L131.7,293.2 L134.7,293.1 L137.7,293.0 L140.7,292.9 L143.6,292.8 L146.6,292.7 L149.6,292.6 L152.6,292.6 L155.6,292.5 L158.6,292.4 L161.6,292.3 L164.6,292.2 L167.6,292.1 L170.6,292.0 L173.6,291.9 L176.6,291.7 L179.5,291.6 L182.5,291.5 L185.5,291.3 L188.5,291.2 L191.5,291.0 L194.5,290.9 L197.5,290.7 L200.5,290.5 L203.5,290.3 L206.4,290.1 L209.4,289.9 L212.4,289.7 L215.4,289.5 L218.4,289.3 L221.4,289.1 L224.4,288.8 L227.3,288.6 L230.3,288.4 L233.3,288.3 L236.3,288.1 L239.3,287.9 L242.3,287.8 L245.3,287.6 L248.3,287.5 L251.3,287.4 L254.2,287.3 L257.2,287.2 L260.2,287.1 L263.2,287.1 L266.2,287.0 L269.2,286.9 L272.2,286.9 L275.2,286.8 L278.2,286.8 L281.2,286.7 L284.2,286.7 L287.2,286.7 L290.2,286.6 L293.2,286.6 L296.1,286.6 L299.1,286.5 L302.1,286.5 L305.1,286.4 L308.1,286.4 L311.1,286.3 L314.1,286.3 L317.1,286.2 L320.1,286.1 L323.1,286.1 L326.1,286.0 L329.1,285.9 L332.1,285.8 L335.0,285.7 L338.0,285.6 L341.0,285.5 L344.0,285.4 L347.0,285.3 L350.0,285.2 L353.0,285.2 L356.0,285.1 L359.0,285.1 L362.0,285.1 L365.0,285.1 L368.0,285.1 L371.0,285.1 L373.9,285.1 L376.9,285.2 L379.9,285.2 L382.9,285.3 L385.9,285.3 L388.9,285.4 L391.9,285.4 L394.9,285.5 L397.9,285.5 L400.9,285.6 L403.9,285.6 L406.9,285.6 L409.9,285.6 L412.9,285.6 L415.9,285.7 L418.8,285.7 L421.8,285.7 L424.8,285.8 L427.8,285.8 L430.8,285.9 L433.8,286.1 L436.8,286.2 L439.8,286.4 L442.8,286.6 L445.8,286.8 L448.7,287.0 L451.7,287.2 L454.7,287.4 L457.7,287.6 L460.7,287.7 L463.7,287.7 L466.7,287.6 L469.7,287.5 L472.7,287.4 L475.6,287.2 L478.6,286.9 L481.6,286.7 L484.6,286.4 L487.6,286.0 L490.5,285.7 L493.5,285.4 L496.5,285.0 L499.5,284.7 L502.4,284.5 L505.4,284.3 L508.4,284.1 L511.4,284.0 L514.4,284.0 L517.4,284.0 L520.4,284.2 L523.4,284.4 L526.4,284.7 L529.3,285.0 L532.3,285.5 L535.2,286.1 L538.1,286.7 L541.0,287.4 L543.9,288.2 L546.8,289.1 L549.6,290.1 L552.4,291.2 L555.1,292.4 L557.8,293.8 L560.4,295.3 L562.9,296.9 L565.3,298.7 L567.6,300.6 L569.8,302.7 L571.8,304.8 L573.8,307.1 L575.6,309.5 L577.4,311.9 L579.0,314.4 L580.5,317.0 L581.9,319.7 L583.1,322.4 L584.3,325.1 L585.3,328.0 L586.2,330.8 L586.9,333.7 L587.4,336.7 L587.8,339.6 L588.0,342.6 L587.9,345.6 L587.7,348.6 L587.3,351.6 L586.6,354.5 L585.9,357.4 L584.9,360.2 L583.8,363.0 L582.6,365.7 L581.2,368.4 L579.6,370.9 L577.9,373.4 L576.1,375.8 L574.2,378.0 L572.1,380.2 L569.8,382.2 L567.5,384.0 L565.0,385.7 L562.4,387.2 L559.8,388.6 L557.1,389.9 L554.3,391.0 L551.5,392.0 L548.6,392.9 L545.7,393.6 L542.8,394.3 L539.8,394.8 L536.9,395.2 L533.9,395.5 L530.9,395.7 L527.9,395.7 L524.9,395.6 L521.9,395.5 L518.9,395.2 L516.0,394.8 L513.0,394.4 L510.1,393.8 L507.2,393.2 L504.2,392.5 L501.4,391.7 L498.5,390.9 L495.6,390.0 L492.7,389.1 L489.9,388.3 L487.0,387.4 L484.1,386.6 L481.3,385.8 L478.4,385.0 L475.4,384.3 L472.5,383.7 L469.6,383.2 L466.6,382.7 L463.6,382.3 L460.7,381.9 L457.7,381.5 L454.7,381.1 L451.8,380.7 L448.8,380.4 L445.8,380.1 L442.8,379.8 L439.9,379.6 L436.9,379.4 L433.9,379.3 L430.9,379.2 L427.9,379.1 L424.9,379.1 L421.9,379.1 L418.9,379.2 L415.9,379.2 L412.9,379.3 L409.9,379.4 L406.9,379.5 L404.0,379.5 L401.0,379.6 L398.0,379.7 L395.0,379.8 L392.0,379.8 L389.0,379.9 L386.0,379.9 L383.0,379.9 L380.0,379.9 L377.0,379.9 L374.0,379.9 L371.0,379.9 L368.0,379.8 L365.0,379.8 L362.1,379.7 L359.1,379.6 L356.1,379.5 L353.1,379.4 L350.1,379.3 L347.1,379.2 L344.1,379.1 L341.1,378.9 L338.1,378.8 L335.1,378.7 L332.1,378.5 L329.2,378.4 L326.2,378.3 L323.2,378.1 L320.2,378.0 L317.2,377.9 L314.2,377.8 L311.2,377.8 L308.2,377.7 L305.2,377.6 L302.2,377.6 L299.2,377.5 L296.2,377.5 L293.3,377.4 L290.3,377.4 L287.3,377.3 L284.3,377.3 L281.3,377.2 L278.3,377.2 L275.3,377.2 L272.3,377.1 L269.3,377.1 L266.3,377.0 L263.3,377.0 L260.3,376.9 L257.3,376.8 L254.3,376.8 L251.4,376.7 L248.4,376.6 L245.4,376.5 L242.4,376.4 L239.4,376.3 L236.4,376.1 L233.4,376.0 L230.4,375.8 L227.4,375.7 L224.4,375.5 L221.5,375.3 L218.5,375.1 L215.5,375.0 L212.5,374.8 L209.5,374.6 L206.5,374.5 L203.5,374.3 L200.5,374.2 L197.5,374.1 L194.6,373.9 L191.6,373.8 L188.6,373.7 L185.6,373.7 L182.6,373.6 L179.6,373.5 L176.6,373.5 L173.6,373.4 L170.6,373.4 L167.6,373.3 L164.6,373.3 L161.6,373.3 L158.6,373.3 L155.6,373.2 L152.7,373.2 L149.7,373.2 L146.7,373.2 L143.7,373.2 L140.7,373.2 L137.7,373.2 L134.7,373.2 L131.7,373.2 L128.7,373.2 L125.7,373.2 L122.7,373.2 L119.7,373.1 L116.7,373.1 L113.7,373.1 L110.8,373.1 L107.8,373.0 L104.8,373.0 L101.8,373.0 L98.8,372.9 L95.8,372.9 L92.8,372.9 L89.8,372.8Z" fill="#00dcfe" transform="translate(0,702.30)"/>
<path d="M89.8,299.1 L92.8,299.0 L95.8,298.9 L98.8,298.7 L101.8,298.6 L104.8,298.5 L107.8,298.4 L110.8,298.3 L113.8,298.2 L116.8,298.1 L119.8,298.0 L122.7,297.9 L125.7,297.8 L128.7,297.8 L131.7,297.7 L134.7,297.6 L137.7,297.5 L140.7,297.5 L143.7,297.4 L146.7,297.3 L149.7,297.2 L152.7,297.2 L155.7,297.1 L158.7,297.0 L161.7,296.9 L164.7,296.8 L167.7,296.7 L170.7,296.6 L173.7,296.5 L176.7,296.3 L179.7,296.2 L182.7,296.1 L185.7,295.9 L188.7,295.7 L191.6,295.6 L194.6,295.4 L197.6,295.2 L200.6,295.0 L203.6,294.7 L206.6,294.5 L209.6,294.3 L212.6,294.0 L215.6,293.7 L218.5,293.5 L221.5,293.2 L224.5,293.0 L227.5,292.7 L230.5,292.5 L233.5,292.3 L236.5,292.1 L239.5,291.9 L242.4,291.7 L245.4,291.5 L248.4,291.4 L251.4,291.2 L254.4,291.1 L257.4,291.0 L260.4,290.9 L263.4,290.8 L266.4,290.7 L269.4,290.7 L272.4,290.6 L275.4,290.5 L278.4,290.5 L281.4,290.4 L284.4,290.4 L287.4,290.3 L290.4,290.3 L293.4,290.2 L296.4,290.1 L299.4,290.1 L302.4,290.0 L305.4,290.0 L308.4,289.9 L311.4,289.8 L314.4,289.7 L317.3,289.6 L320.3,289.5 L323.3,289.4 L326.3,289.2 L329.3,289.1 L332.3,289.0 L335.3,288.8 L338.3,288.7 L341.3,288.5 L344.3,288.4 L347.3,288.3 L350.3,288.2 L353.3,288.1 L356.3,288.0 L359.3,287.9 L362.3,287.9 L365.3,287.9 L368.3,287.8 L371.3,287.9 L374.3,287.9 L377.3,287.9 L380.3,288.0 L383.2,288.0 L386.2,288.1 L389.2,288.1 L392.2,288.2 L395.2,288.3 L398.2,288.3 L401.2,288.4 L404.2,288.5 L407.2,288.5 L410.2,288.6 L413.2,288.6 L416.2,288.7 L419.2,288.8 L422.2,288.8 L425.2,288.9 L428.2,289.1 L431.2,289.2 L434.2,289.3 L437.2,289.5 L440.2,289.7 L443.2,289.9 L446.1,290.2 L449.1,290.4 L452.1,290.7 L455.1,290.9 L458.1,291.1 L461.1,291.2 L464.1,291.3 L467.1,291.4 L470.1,291.5 L473.1,291.5 L476.1,291.5 L479.1,291.5 L482.1,291.5 L485.1,291.5 L488.1,291.6 L491.1,291.6 L494.1,291.7 L497.1,291.8 L500.0,292.0 L503.0,292.2 L506.0,292.6 L509.0,293.0 L511.9,293.4 L514.9,294.0 L517.8,294.7 L520.7,295.4 L523.6,296.3 L526.4,297.3 L529.2,298.4 L532.0,299.5 L534.7,300.8 L537.3,302.3 L539.9,303.8 L542.4,305.4 L544.8,307.2 L547.2,309.1 L549.4,311.0 L551.6,313.1 L553.6,315.3 L555.5,317.6 L557.4,320.0 L559.0,322.5 L560.5,325.1 L561.8,327.8 L562.9,330.5 L563.8,333.4 L564.5,336.3 L564.8,339.3 L564.9,342.3 L564.6,345.3 L564.0,348.2 L563.1,351.1 L562.0,353.9 L560.7,356.6 L559.2,359.2 L557.6,361.7 L555.8,364.1 L553.9,366.4 L551.8,368.6 L549.7,370.6 L547.4,372.6 L545.0,374.4 L542.6,376.2 L540.0,377.8 L537.4,379.2 L534.7,380.6 L532.0,381.8 L529.2,382.8 L526.4,383.8 L523.5,384.6 L520.5,385.2 L517.6,385.8 L514.6,386.1 L511.6,386.4 L508.6,386.5 L505.6,386.5 L502.6,386.4 L499.7,386.1 L496.7,385.8 L493.7,385.4 L490.7,384.9 L487.8,384.4 L484.8,383.9 L481.9,383.4 L478.9,382.8 L476.0,382.3 L473.0,381.8 L470.1,381.3 L467.1,380.9 L464.1,380.5 L461.2,380.1 L458.2,379.7 L455.2,379.4 L452.2,379.0 L449.3,378.7 L446.3,378.4 L443.3,378.1 L440.3,377.9 L437.3,377.8 L434.3,377.6 L431.3,377.5 L428.3,377.5 L425.3,377.5 L422.3,377.5 L419.3,377.5 L416.3,377.6 L413.3,377.7 L410.3,377.8 L407.4,377.8 L404.4,377.9 L401.4,378.0 L398.4,378.1 L395.4,378.2 L392.4,378.3 L389.4,378.3 L386.4,378.3 L383.4,378.4 L380.4,378.4 L377.4,378.4 L374.4,378.4 L371.4,378.4 L368.4,378.4 L365.4,378.3 L362.4,378.3 L359.4,378.2 L356.4,378.1 L353.4,378.0 L350.4,377.9 L347.4,377.8 L344.4,377.6 L341.4,377.5 L338.4,377.4 L335.4,377.2 L332.5,377.1 L329.5,377.0 L326.5,376.8 L323.5,376.7 L320.5,376.6 L317.5,376.5 L314.5,376.4 L311.5,376.3 L308.5,376.2 L305.5,376.2 L302.5,376.1 L299.5,376.0 L296.5,376.0 L293.5,375.9 L290.5,375.9 L287.5,375.8 L284.5,375.8 L281.5,375.7 L278.5,375.7 L275.5,375.6 L272.5,375.6 L269.5,375.5 L266.5,375.5 L263.5,375.4 L260.5,375.3 L257.5,375.3 L254.5,375.2 L251.6,375.1 L248.6,375.0 L245.6,374.8 L242.6,374.7 L239.6,374.6 L236.6,374.4 L233.6,374.2 L230.6,374.1 L227.6,373.9 L224.6,373.7 L221.6,373.5 L218.6,373.3 L215.6,373.1 L212.7,372.9 L209.7,372.7 L206.7,372.5 L203.7,372.4 L200.7,372.2 L197.7,372.0 L194.7,371.9 L191.7,371.8 L188.7,371.7 L185.7,371.6 L182.7,371.5 L179.7,371.4 L176.7,371.4 L173.7,371.3 L170.7,371.3 L167.7,371.3 L164.7,371.2 L161.7,371.2 L158.7,371.2 L155.7,371.2 L152.7,371.2 L149.7,371.2 L146.7,371.2 L143.7,371.2 L140.8,371.2 L137.8,371.2 L134.8,371.2 L131.8,371.2 L128.8,371.2 L125.8,371.2 L122.8,371.2 L119.8,371.2 L116.8,371.2 L113.8,371.2 L110.8,371.2 L107.8,371.1 L104.8,371.1 L101.8,371.1 L98.8,371.0 L95.8,371.0 L92.8,371.0 L89.8,370.9Z" fill="#26ffd1" transform="translate(0,702.30)"/>
<path d="M89.8,304.4 L92.8,304.2 L95.8,304.1 L98.8,304.0 L101.8,303.8 L104.7,303.7 L107.7,303.6 L110.7,303.4 L113.7,303.3 L116.7,303.2 L119.7,303.1 L122.7,303.0 L125.7,302.9 L128.7,302.8 L131.7,302.7 L134.6,302.6 L137.6,302.5 L140.6,302.4 L143.6,302.3 L146.6,302.2 L149.6,302.1 L152.6,302.0 L155.6,301.9 L158.6,301.8 L161.6,301.7 L164.5,301.6 L167.5,301.5 L170.5,301.3 L173.5,301.2 L176.5,301.1 L179.5,300.9 L182.5,300.7 L185.5,300.6 L188.4,300.4 L191.4,300.2 L194.4,299.9 L197.4,299.7 L200.4,299.5 L203.4,299.2 L206.3,298.9 L209.3,298.6 L212.3,298.3 L215.3,298.1 L218.3,297.8 L221.2,297.5 L224.2,297.2 L227.2,296.9 L230.2,296.6 L233.1,296.3 L236.1,296.1 L239.1,295.9 L242.1,295.6 L245.1,295.4 L248.1,295.2 L251.1,295.1 L254.0,294.9 L257.0,294.8 L260.0,294.6 L263.0,294.5 L266.0,294.4 L269.0,294.3 L272.0,294.2 L275.0,294.1 L278.0,294.0 L280.9,293.9 L283.9,293.8 L286.9,293.8 L289.9,293.7 L292.9,293.6 L295.9,293.5 L298.9,293.4 L301.9,293.4 L304.9,293.3 L307.9,293.2 L310.9,293.0 L313.8,292.9 L316.8,292.8 L319.8,292.7 L322.8,292.5 L325.8,292.4 L328.8,292.2 L331.8,292.0 L334.8,291.9 L337.7,291.7 L340.7,291.5 L343.7,291.4 L346.7,291.2 L349.7,291.1 L352.7,291.0 L355.7,290.8 L358.7,290.8 L361.7,290.7 L364.7,290.7 L367.6,290.6 L370.6,290.6 L373.6,290.6 L376.6,290.7 L379.6,290.7 L382.6,290.8 L385.6,290.8 L388.6,290.9 L391.6,291.0 L394.6,291.0 L397.6,291.1 L400.5,291.2 L403.5,291.3 L406.5,291.3 L409.5,291.4 L412.5,291.5 L415.5,291.6 L418.5,291.7 L421.5,291.8 L424.5,292.0 L427.5,292.1 L430.4,292.3 L433.4,292.5 L436.4,292.8 L439.4,293.1 L442.4,293.4 L445.3,293.8 L448.3,294.1 L451.3,294.5 L454.2,294.9 L457.2,295.2 L460.2,295.4 L463.2,295.6 L466.2,295.8 L469.2,295.9 L472.2,296.0 L475.1,296.1 L478.1,296.2 L481.1,296.4 L484.1,296.6 L487.1,296.8 L490.1,297.2 L493.0,297.6 L496.0,298.2 L498.9,298.8 L501.8,299.6 L504.6,300.5 L507.4,301.6 L510.2,302.7 L512.9,304.0 L515.5,305.5 L518.0,307.1 L520.5,308.8 L522.8,310.6 L525.1,312.6 L527.3,314.6 L529.4,316.8 L531.4,319.0 L533.3,321.3 L535.1,323.7 L536.8,326.1 L538.4,328.7 L539.9,331.2 L541.2,333.9 L542.4,336.7 L543.3,339.5 L543.7,342.5 L543.5,345.5 L542.9,348.4 L541.9,351.2 L540.7,353.9 L539.2,356.5 L537.5,359.0 L535.7,361.4 L533.7,363.7 L531.7,365.8 L529.4,367.8 L527.1,369.7 L524.6,371.4 L522.1,373.0 L519.4,374.3 L516.7,375.6 L513.9,376.6 L511.1,377.6 L508.2,378.3 L505.3,379.0 L502.3,379.4 L499.3,379.8 L496.4,380.0 L493.4,380.1 L490.4,380.1 L487.4,380.1 L484.4,379.9 L481.4,379.7 L478.4,379.5 L475.4,379.2 L472.5,378.9 L469.5,378.6 L466.5,378.3 L463.5,378.0 L460.6,377.8 L457.6,377.5 L454.6,377.2 L451.6,377.0 L448.6,376.8 L445.6,376.6 L442.7,376.5 L439.7,376.4 L436.7,376.3 L433.7,376.2 L430.7,376.2 L427.7,376.2 L424.7,376.2 L421.7,376.2 L418.7,376.3 L415.7,376.3 L412.7,376.4 L409.7,376.5 L406.8,376.6 L403.8,376.6 L400.8,376.7 L397.8,376.8 L394.8,376.8 L391.8,376.9 L388.8,377.0 L385.8,377.0 L382.8,377.0 L379.8,377.0 L376.8,377.0 L373.9,377.0 L370.9,377.0 L367.9,377.0 L364.9,376.9 L361.9,376.9 L358.9,376.8 L355.9,376.7 L352.9,376.6 L349.9,376.5 L346.9,376.4 L343.9,376.3 L341.0,376.1 L338.0,376.0 L335.0,375.9 L332.0,375.7 L329.0,375.6 L326.0,375.5 L323.0,375.3 L320.0,375.2 L317.0,375.1 L314.1,375.0 L311.1,374.9 L308.1,374.8 L305.1,374.8 L302.1,374.7 L299.1,374.6 L296.1,374.6 L293.1,374.5 L290.1,374.4 L287.1,374.4 L284.1,374.3 L281.1,374.3 L278.2,374.2 L275.2,374.1 L272.2,374.1 L269.2,374.0 L266.2,373.9 L263.2,373.8 L260.2,373.8 L257.2,373.7 L254.2,373.5 L251.2,373.4 L248.3,373.3 L245.3,373.2 L242.3,373.0 L239.3,372.9 L236.3,372.7 L233.3,372.5 L230.3,372.3 L227.3,372.1 L224.4,371.9 L221.4,371.7 L218.4,371.5 L215.4,371.2 L212.4,371.0 L209.4,370.8 L206.5,370.6 L203.5,370.5 L200.5,370.3 L197.5,370.1 L194.5,370.0 L191.5,369.8 L188.5,369.7 L185.5,369.6 L182.5,369.5 L179.6,369.4 L176.6,369.4 L173.6,369.3 L170.6,369.3 L167.6,369.2 L164.6,369.2 L161.6,369.1 L158.6,369.1 L155.6,369.1 L152.6,369.1 L149.6,369.1 L146.6,369.1 L143.7,369.1 L140.7,369.1 L137.7,369.0 L134.7,369.0 L131.7,369.0 L128.7,369.0 L125.7,369.0 L122.7,369.0 L119.7,369.0 L116.7,368.9 L113.7,368.9 L110.7,368.9 L107.7,368.8 L104.8,368.8 L101.8,368.8 L98.8,368.7 L95.8,368.7 L92.8,368.6 L89.8,368.6Z" fill="#50ffa7" transform="translate(0,702.30)"/>
<path d="M89.8,309.7 L92.8,309.5 L95.8,309.3 L98.8,309.2 L101.8,309.0 L104.7,308.9 L107.7,308.7 L110.7,308.6 L113.7,308.4 L116.7,308.3 L119.7,308.2 L122.7,308.0 L125.7,307.9 L128.7,307.8 L131.7,307.7 L134.7,307.6 L137.6,307.5 L140.6,307.4 L143.6,307.2 L146.6,307.1 L149.6,307.0 L152.6,306.9 L155.6,306.8 L158.6,306.7 L161.6,306.5 L164.6,306.4 L167.6,306.2 L170.5,306.1 L173.5,305.9 L176.5,305.8 L179.5,305.6 L182.5,305.4 L185.5,305.2 L188.5,305.0 L191.5,304.7 L194.4,304.5 L197.4,304.2 L200.4,303.9 L203.4,303.6 L206.4,303.3 L209.3,303.0 L212.3,302.7 L215.3,302.3 L218.3,302.0 L221.2,301.7 L224.2,301.3 L227.2,301.0 L230.2,300.7 L233.1,300.4 L236.1,300.1 L239.1,299.8 L242.1,299.5 L245.1,299.3 L248.1,299.1 L251.0,298.9 L254.0,298.7 L257.0,298.5 L260.0,298.3 L263.0,298.1 L266.0,298.0 L269.0,297.9 L272.0,297.7 L275.0,297.6 L277.9,297.5 L280.9,297.3 L283.9,297.2 L286.9,297.1 L289.9,297.0 L292.9,296.9 L295.9,296.8 L298.9,296.7 L301.9,296.6 L304.9,296.4 L307.9,296.3 L310.8,296.2 L313.8,296.0 L316.8,295.9 L319.8,295.7 L322.8,295.5 L325.8,295.4 L328.8,295.2 L331.8,295.0 L334.8,294.8 L337.7,294.6 L340.7,294.4 L343.7,294.3 L346.7,294.1 L349.7,293.9 L352.7,293.8 L355.7,293.7 L358.7,293.6 L361.7,293.5 L364.7,293.5 L367.7,293.4 L370.6,293.4 L373.6,293.4 L376.6,293.5 L379.6,293.5 L382.6,293.6 L385.6,293.6 L388.6,293.7 L391.6,293.8 L394.6,293.8 L397.6,293.9 L400.6,294.0 L403.6,294.1 L406.6,294.2 L409.6,294.3 L412.5,294.4 L415.5,294.5 L418.5,294.6 L421.5,294.8 L424.5,295.0 L427.5,295.2 L430.5,295.5 L433.5,295.8 L436.4,296.1 L439.4,296.5 L442.4,296.9 L445.3,297.4 L448.3,297.9 L451.2,298.4 L454.2,298.8 L457.1,299.3 L460.1,299.6 L463.1,299.9 L466.1,300.2 L469.1,300.4 L472.0,300.7 L475.0,301.0 L478.0,301.3 L480.9,301.8 L483.9,302.4 L486.8,303.0 L489.7,303.8 L492.5,304.8 L495.3,305.9 L498.0,307.2 L500.6,308.7 L503.1,310.3 L505.5,312.1 L507.8,314.1 L510.0,316.1 L512.0,318.3 L514.0,320.5 L515.9,322.9 L517.7,325.3 L519.4,327.7 L521.0,330.3 L522.5,332.9 L523.8,335.5 L525.0,338.2 L525.9,341.1 L526.2,344.1 L525.9,347.1 L525.1,350.0 L524.0,352.7 L522.6,355.4 L520.9,357.9 L519.1,360.3 L517.1,362.5 L515.0,364.6 L512.7,366.5 L510.2,368.2 L507.7,369.8 L505.0,371.1 L502.2,372.3 L499.4,373.2 L496.5,374.0 L493.6,374.7 L490.6,375.2 L487.7,375.5 L484.7,375.7 L481.7,375.9 L478.7,375.9 L475.7,375.9 L472.7,375.8 L469.7,375.7 L466.7,375.6 L463.7,375.5 L460.8,375.3 L457.8,375.2 L454.8,375.1 L451.8,375.0 L448.8,375.0 L445.8,374.9 L442.8,374.9 L439.8,374.8 L436.8,374.8 L433.8,374.9 L430.8,374.9 L427.8,374.9 L424.8,374.9 L421.8,375.0 L418.9,375.0 L415.9,375.1 L412.9,375.1 L409.9,375.2 L406.9,375.3 L403.9,375.3 L400.9,375.4 L397.9,375.4 L394.9,375.5 L391.9,375.5 L388.9,375.6 L385.9,375.6 L382.9,375.6 L379.9,375.7 L376.9,375.7 L374.0,375.7 L371.0,375.7 L368.0,375.6 L365.0,375.6 L362.0,375.5 L359.0,375.5 L356.0,375.4 L353.0,375.3 L350.0,375.2 L347.0,375.1 L344.0,374.9 L341.0,374.8 L338.0,374.7 L335.1,374.5 L332.1,374.4 L329.1,374.2 L326.1,374.1 L323.1,374.0 L320.1,373.9 L317.1,373.8 L314.1,373.7 L311.1,373.6 L308.1,373.5 L305.1,373.4 L302.2,373.3 L299.2,373.3 L296.2,373.2 L293.2,373.1 L290.2,373.1 L287.2,373.0 L284.2,372.9 L281.2,372.9 L278.2,372.8 L275.2,372.7 L272.2,372.6 L269.2,372.5 L266.2,372.5 L263.2,372.4 L260.3,372.2 L257.3,372.1 L254.3,372.0 L251.3,371.9 L248.3,371.7 L245.3,371.5 L242.3,371.4 L239.3,371.2 L236.3,370.9 L233.4,370.7 L230.4,370.5 L227.4,370.2 L224.4,370.0 L221.4,369.7 L218.4,369.5 L215.5,369.2 L212.5,369.0 L209.5,368.7 L206.5,368.5 L203.5,368.3 L200.5,368.1 L197.5,367.9 L194.6,367.7 L191.6,367.5 L188.6,367.4 L185.6,367.3 L182.6,367.2 L179.6,367.1 L176.6,367.0 L173.6,366.9 L170.6,366.9 L167.6,366.9 L164.6,366.8 L161.6,366.8 L158.7,366.8 L155.7,366.8 L152.7,366.7 L149.7,366.7 L146.7,366.7 L143.7,366.7 L140.7,366.7 L137.7,366.7 L134.7,366.7 L131.7,366.7 L128.7,366.7 L125.7,366.7 L122.7,366.7 L119.7,366.7 L116.7,366.7 L113.7,366.7 L110.8,366.6 L107.8,366.6 L104.8,366.5 L101.8,366.5 L98.8,366.5 L95.8,366.4 L92.8,366.4 L89.8,366.3Z" fill="#7dff7a" transform="translate(0,702.30)"/>
<path d="M89.8,317.3 L92.8,317.1 L95.8,316.8 L98.8,316.6 L101.7,316.4 L104.7,316.2 L107.7,316.0 L110.7,315.8 L113.7,315.6 L116.7,315.4 L119.7,315.2 L122.7,315.0 L125.6,314.8 L128.6,314.6 L131.6,314.4 L134.6,314.3 L137.6,314.1 L140.6,313.9 L143.6,313.8 L146.6,313.6 L149.6,313.4 L152.6,313.2 L155.5,313.1 L158.5,312.9 L161.5,312.7 L164.5,312.5 L167.5,312.3 L170.5,312.0 L173.5,311.8 L176.4,311.6 L179.4,311.3 L182.4,311.1 L185.4,310.8 L188.4,310.5 L191.4,310.2 L194.3,309.9 L197.3,309.5 L200.3,309.2 L203.3,308.8 L206.2,308.4 L209.2,308.0 L212.2,307.6 L215.1,307.2 L218.1,306.8 L221.1,306.4 L224.0,305.9 L227.0,305.5 L230.0,305.1 L232.9,304.8 L235.9,304.4 L238.9,304.0 L241.8,303.7 L244.8,303.4 L247.8,303.1 L250.8,302.8 L253.8,302.6 L256.8,302.3 L259.7,302.1 L262.7,301.9 L265.7,301.7 L268.7,301.5 L271.7,301.4 L274.7,301.2 L277.7,301.0 L280.7,300.9 L283.7,300.7 L286.6,300.6 L289.6,300.4 L292.6,300.3 L295.6,300.1 L298.6,300.0 L301.6,299.8 L304.6,299.7 L307.6,299.5 L310.6,299.3 L313.6,299.2 L316.5,299.0 L319.5,298.8 L322.5,298.6 L325.5,298.3 L328.5,298.1 L331.5,297.9 L334.5,297.6 L337.4,297.4 L340.4,297.2 L343.4,297.0 L346.4,296.7 L349.4,296.5 L352.4,296.4 L355.4,296.2 L358.4,296.1 L361.4,296.0 L364.4,295.9 L367.3,295.9 L370.3,295.8 L373.3,295.8 L376.3,295.9 L379.3,295.9 L382.3,295.9 L385.3,296.0 L388.3,296.1 L391.3,296.2 L394.3,296.3 L397.3,296.4 L400.3,296.5 L403.3,296.6 L406.3,296.7 L409.3,296.8 L412.2,297.0 L415.2,297.1 L418.2,297.3 L421.2,297.5 L424.2,297.8 L427.2,298.1 L430.2,298.4 L433.1,298.8 L436.1,299.2 L439.0,299.7 L442.0,300.2 L444.9,300.8 L447.9,301.4 L450.8,302.1 L453.7,302.7 L456.6,303.3 L459.6,303.8 L462.5,304.3 L465.5,304.8 L468.5,305.2 L471.4,305.8 L474.3,306.4 L477.2,307.1 L480.1,307.9 L482.9,309.0 L485.7,310.2 L488.3,311.6 L490.8,313.2 L493.2,315.0 L495.5,317.0 L497.6,319.1 L499.6,321.3 L501.5,323.6 L503.2,326.1 L504.9,328.6 L506.4,331.1 L507.7,333.8 L508.9,336.6 L509.8,339.4 L510.3,342.4 L510.4,345.4 L510.1,348.3 L509.3,351.2 L508.2,354.0 L506.7,356.6 L505.0,359.0 L503.0,361.3 L500.7,363.3 L498.3,365.1 L495.8,366.6 L493.1,368.0 L490.3,369.1 L487.5,370.0 L484.6,370.8 L481.7,371.4 L478.7,371.8 L475.7,372.1 L472.7,372.3 L469.7,372.4 L466.7,372.4 L463.7,372.4 L460.7,372.5 L457.8,372.5 L454.8,372.6 L451.8,372.7 L448.8,372.9 L445.8,373.1 L442.8,373.2 L439.8,373.4 L436.8,373.5 L433.8,373.6 L430.8,373.8 L427.8,373.9 L424.8,373.9 L421.9,374.0 L418.9,374.1 L415.9,374.2 L412.9,374.2 L409.9,374.3 L406.9,374.3 L403.9,374.4 L400.9,374.4 L397.9,374.5 L394.9,374.5 L391.9,374.6 L388.9,374.6 L385.9,374.6 L382.9,374.7 L379.9,374.7 L376.9,374.7 L373.9,374.7 L371.0,374.7 L368.0,374.7 L365.0,374.7 L362.0,374.6 L359.0,374.5 L356.0,374.5 L353.0,374.4 L350.0,374.2 L347.0,374.1 L344.0,374.0 L341.0,373.8 L338.0,373.6 L335.0,373.5 L332.1,373.3 L329.1,373.2 L326.1,373.0 L323.1,372.9 L320.1,372.7 L317.1,372.6 L314.1,372.5 L311.1,372.4 L308.1,372.3 L305.1,372.2 L302.1,372.2 L299.1,372.1 L296.1,372.0 L293.2,371.9 L290.2,371.9 L287.2,371.8 L284.2,371.7 L281.2,371.7 L278.2,371.6 L275.2,371.5 L272.2,371.4 L269.2,371.3 L266.2,371.2 L263.2,371.1 L260.2,371.0 L257.2,370.9 L254.2,370.7 L251.3,370.6 L248.3,370.4 L245.3,370.2 L242.3,370.0 L239.3,369.8 L236.3,369.5 L233.3,369.3 L230.4,369.0 L227.4,368.7 L224.4,368.4 L221.4,368.1 L218.4,367.8 L215.5,367.5 L212.5,367.3 L209.5,367.0 L206.5,366.7 L203.5,366.4 L200.5,366.2 L197.6,366.0 L194.6,365.7 L191.6,365.6 L188.6,365.4 L185.6,365.2 L182.6,365.1 L179.6,365.0 L176.6,364.9 L173.6,364.8 L170.6,364.7 L167.6,364.7 L164.7,364.6 L161.7,364.6 L158.7,364.5 L155.7,364.5 L152.7,364.5 L149.7,364.4 L146.7,364.4 L143.7,364.4 L140.7,364.4 L137.7,364.4 L134.7,364.4 L131.7,364.3 L128.7,364.3 L125.7,364.3 L122.7,364.3 L119.7,364.2 L116.7,364.2 L113.7,364.1 L110.8,364.1 L107.8,364.0 L104.8,364.0 L101.8,363.9 L98.8,363.8 L95.8,363.8 L92.8,363.7 L89.8,363.6Z" fill="#a7ff50" transform="translate(0,702.30)"/>
<path d="M89.8,325.2 L92.8,324.9 L95.8,324.6 L98.7,324.3 L101.7,324.1 L104.7,323.8 L107.7,323.6 L110.7,323.3 L113.6,323.1 L116.6,322.8 L119.6,322.6 L122.6,322.4 L125.6,322.2 L128.5,322.0 L131.5,321.8 L134.5,321.6 L137.5,321.4 L140.5,321.2 L143.5,321.1 L146.5,320.9 L149.4,320.7 L152.4,320.5 L155.4,320.3 L158.4,320.1 L161.4,319.8 L164.4,319.6 L167.3,319.4 L170.3,319.1 L173.3,318.8 L176.3,318.5 L179.2,318.2 L182.2,317.9 L185.2,317.6 L188.2,317.2 L191.1,316.8 L194.1,316.3 L197.0,315.9 L200.0,315.4 L202.9,314.9 L205.9,314.4 L208.8,313.8 L211.7,313.2 L214.7,312.7 L217.6,312.1 L220.6,311.5 L223.5,310.9 L226.4,310.4 L229.4,309.8 L232.3,309.3 L235.2,308.8 L238.2,308.3 L241.2,307.8 L244.1,307.4 L247.1,307.0 L250.0,306.6 L253.0,306.3 L256.0,306.0 L259.0,305.7 L261.9,305.4 L264.9,305.2 L267.9,304.9 L270.9,304.7 L273.9,304.5 L276.9,304.3 L279.8,304.1 L282.8,303.9 L285.8,303.8 L288.8,303.6 L291.8,303.4 L294.8,303.3 L297.8,303.1 L300.7,302.9 L303.7,302.8 L306.7,302.6 L309.7,302.4 L312.7,302.2 L315.7,302.0 L318.6,301.8 L321.6,301.5 L324.6,301.3 L327.6,301.0 L330.6,300.7 L333.5,300.4 L336.5,300.1 L339.5,299.9 L342.5,299.6 L345.5,299.3 L348.4,299.1 L351.4,298.9 L354.4,298.7 L357.4,298.5 L360.4,298.4 L363.4,298.3 L366.4,298.3 L369.3,298.2 L372.3,298.2 L375.3,298.3 L378.3,298.3 L381.3,298.4 L384.3,298.4 L387.3,298.5 L390.3,298.6 L393.3,298.8 L396.3,298.9 L399.2,299.0 L402.2,299.1 L405.2,299.2 L408.2,299.3 L411.2,299.5 L414.2,299.6 L417.2,299.8 L420.1,300.1 L423.1,300.3 L426.1,300.7 L429.1,301.1 L432.0,301.5 L435.0,302.1 L437.9,302.7 L440.8,303.4 L443.7,304.2 L446.5,305.0 L449.4,305.9 L452.2,306.8 L455.1,307.8 L457.9,308.7 L460.8,309.5 L463.7,310.4 L466.5,311.2 L469.4,312.1 L472.2,313.1 L475.0,314.3 L477.6,315.6 L480.2,317.2 L482.5,319.0 L484.7,321.1 L486.7,323.3 L488.6,325.6 L490.2,328.1 L491.8,330.7 L493.1,333.4 L494.3,336.1 L495.2,339.0 L495.8,341.9 L495.9,344.9 L495.5,347.8 L494.7,350.7 L493.5,353.5 L491.9,356.0 L490.1,358.4 L488.0,360.5 L485.7,362.4 L483.1,363.9 L480.4,365.3 L477.6,366.3 L474.8,367.1 L471.8,367.7 L468.9,368.2 L465.9,368.5 L462.9,368.8 L460.0,369.1 L457.0,369.4 L454.0,369.8 L451.1,370.2 L448.1,370.6 L445.1,371.0 L442.2,371.4 L439.2,371.8 L436.2,372.0 L433.2,372.3 L430.2,372.5 L427.3,372.6 L424.3,372.8 L421.3,372.8 L418.3,372.9 L415.3,373.0 L412.3,373.0 L409.3,373.0 L406.3,373.1 L403.3,373.1 L400.4,373.1 L397.4,373.2 L394.4,373.2 L391.4,373.3 L388.4,373.3 L385.4,373.4 L382.4,373.5 L379.4,373.5 L376.4,373.6 L373.4,373.6 L370.5,373.6 L367.5,373.6 L364.5,373.6 L361.5,373.6 L358.5,373.5 L355.5,373.4 L352.5,373.3 L349.5,373.2 L346.5,373.0 L343.6,372.8 L340.6,372.7 L337.6,372.5 L334.6,372.3 L331.6,372.1 L328.6,371.9 L325.6,371.7 L322.7,371.5 L319.7,371.4 L316.7,371.2 L313.7,371.1 L310.7,371.0 L307.7,370.9 L304.7,370.7 L301.7,370.6 L298.8,370.5 L295.8,370.5 L292.8,370.4 L289.8,370.3 L286.8,370.2 L283.8,370.1 L280.8,370.0 L277.8,369.9 L274.8,369.8 L271.9,369.7 L268.9,369.6 L265.9,369.5 L262.9,369.4 L259.9,369.2 L256.9,369.1 L253.9,368.9 L250.9,368.7 L248.0,368.5 L245.0,368.3 L242.0,368.1 L239.0,367.8 L236.0,367.6 L233.1,367.3 L230.1,367.0 L227.1,366.6 L224.1,366.3 L221.2,366.0 L218.2,365.6 L215.2,365.3 L212.3,365.0 L209.3,364.6 L206.3,364.3 L203.3,364.0 L200.4,363.7 L197.4,363.5 L194.4,363.2 L191.4,363.0 L188.4,362.8 L185.4,362.6 L182.5,362.4 L179.5,362.2 L176.5,362.1 L173.5,362.0 L170.5,361.8 L167.5,361.7 L164.5,361.6 L161.5,361.5 L158.6,361.5 L155.6,361.4 L152.6,361.3 L149.6,361.2 L146.6,361.2 L143.6,361.1 L140.6,361.1 L137.6,361.0 L134.6,361.0 L131.6,360.9 L128.7,360.8 L125.7,360.8 L122.7,360.7 L119.7,360.6 L116.7,360.5 L113.7,360.4 L110.7,360.3 L107.7,360.2 L104.7,360.1 L101.8,360.0 L98.8,359.9 L95.8,359.8 L92.8,359.7 L89.8,359.6Z" fill="#d1ff26" transform="translate(0,702.30)"/>
<path d="M89.8,338.4 L92.8,338.0 L95.7,337.6 L98.7,337.1 L101.6,336.7 L104.6,336.3 L107.6,335.9 L110.5,335.5 L113.5,335.1 L116.5,334.8 L119.4,334.4 L122.4,334.0 L125.4,333.7 L128.3,333.3 L131.3,333.0 L134.3,332.7 L137.2,332.3 L140.2,332.0 L143.2,331.7 L146.2,331.4 L149.1,331.0 L152.1,330.7 L155.1,330.4 L158.0,330.0 L161.0,329.6 L164.0,329.3 L166.9,328.9 L169.9,328.5 L172.9,328.1 L175.8,327.6 L178.8,327.1 L181.7,326.7 L184.7,326.2 L187.6,325.6 L190.5,325.1 L193.5,324.5 L196.4,323.9 L199.3,323.2 L202.2,322.5 L205.1,321.8 L208.0,321.1 L210.9,320.3 L213.8,319.6 L216.7,318.8 L219.6,318.1 L222.5,317.3 L225.4,316.6 L228.3,315.8 L231.2,315.1 L234.1,314.5 L237.0,313.8 L240.0,313.2 L242.9,312.6 L245.8,312.1 L248.8,311.6 L251.7,311.1 L254.7,310.7 L257.7,310.3 L260.6,310.0 L263.6,309.6 L266.6,309.3 L269.5,309.0 L272.5,308.7 L275.5,308.5 L278.5,308.2 L281.5,308.0 L284.4,307.8 L287.4,307.6 L290.4,307.4 L293.4,307.2 L296.4,307.0 L299.4,306.8 L302.3,306.6 L305.3,306.3 L308.3,306.1 L311.3,305.9 L314.3,305.6 L317.2,305.4 L320.2,305.1 L323.2,304.8 L326.2,304.5 L329.1,304.2 L332.1,303.9 L335.1,303.5 L338.1,303.2 L341.0,302.9 L344.0,302.6 L347.0,302.3 L350.0,302.0 L352.9,301.8 L355.9,301.6 L358.9,301.4 L361.9,301.3 L364.9,301.2 L367.9,301.1 L370.9,301.1 L373.8,301.1 L376.8,301.1 L379.8,301.1 L382.8,301.2 L385.8,301.2 L388.8,301.3 L391.8,301.4 L394.8,301.5 L397.8,301.6 L400.7,301.7 L403.7,301.8 L406.7,301.9 L409.7,302.0 L412.7,302.2 L415.7,302.4 L418.7,302.6 L421.6,302.9 L424.6,303.2 L427.6,303.7 L430.5,304.2 L433.4,304.8 L436.3,305.6 L439.2,306.4 L442.0,307.4 L444.8,308.5 L447.5,309.7 L450.2,311.0 L452.9,312.3 L455.6,313.6 L458.2,315.0 L460.9,316.4 L463.5,317.8 L466.2,319.2 L468.7,320.8 L471.1,322.5 L473.4,324.4 L475.5,326.5 L477.4,328.9 L479.1,331.3 L480.5,334.0 L481.7,336.7 L482.6,339.6 L483.1,342.5 L483.0,345.5 L482.3,348.4 L481.2,351.2 L479.6,353.7 L477.6,355.9 L475.3,357.8 L472.8,359.4 L470.1,360.7 L467.3,361.7 L464.4,362.6 L461.5,363.5 L458.7,364.3 L455.8,365.1 L452.9,366.0 L450.1,366.8 L447.2,367.7 L444.3,368.4 L441.4,369.1 L438.5,369.7 L435.5,370.2 L432.6,370.6 L429.6,371.0 L426.6,371.2 L423.6,371.4 L420.6,371.5 L417.7,371.6 L414.7,371.6 L411.7,371.6 L408.7,371.6 L405.7,371.6 L402.7,371.6 L399.7,371.6 L396.7,371.6 L393.7,371.6 L390.7,371.7 L387.8,371.7 L384.8,371.7 L381.8,371.8 L378.8,371.8 L375.8,371.8 L372.8,371.9 L369.8,371.9 L366.8,371.9 L363.8,371.8 L360.9,371.8 L357.9,371.7 L354.9,371.5 L351.9,371.4 L348.9,371.2 L345.9,371.1 L342.9,370.9 L340.0,370.7 L337.0,370.5 L334.0,370.3 L331.0,370.0 L328.0,369.8 L325.0,369.6 L322.1,369.4 L319.1,369.2 L316.1,369.0 L313.1,368.8 L310.1,368.7 L307.1,368.5 L304.2,368.4 L301.2,368.2 L298.2,368.1 L295.2,367.9 L292.2,367.8 L289.2,367.7 L286.2,367.5 L283.3,367.4 L280.3,367.2 L277.3,367.1 L274.3,366.9 L271.3,366.8 L268.3,366.6 L265.3,366.4 L262.4,366.2 L259.4,366.0 L256.4,365.7 L253.4,365.5 L250.4,365.2 L247.5,364.9 L244.5,364.6 L241.5,364.3 L238.6,363.9 L235.6,363.5 L232.6,363.1 L229.7,362.7 L226.7,362.3 L223.7,361.9 L220.8,361.4 L217.8,361.0 L214.9,360.5 L211.9,360.1 L209.0,359.6 L206.0,359.2 L203.0,358.8 L200.1,358.4 L197.1,358.0 L194.2,357.6 L191.2,357.3 L188.2,357.0 L185.2,356.7 L182.3,356.4 L179.3,356.1 L176.3,355.8 L173.3,355.6 L170.3,355.4 L167.4,355.1 L164.4,354.9 L161.4,354.7 L158.4,354.5 L155.4,354.4 L152.4,354.2 L149.5,354.0 L146.5,353.8 L143.5,353.7 L140.5,353.5 L137.5,353.3 L134.5,353.2 L131.6,353.0 L128.6,352.8 L125.6,352.6 L122.6,352.5 L119.6,352.3 L116.6,352.1 L113.7,351.9 L110.7,351.7 L107.7,351.4 L104.7,351.2 L101.7,351.0 L98.7,350.8 L95.8,350.6 L92.8,350.3 L89.8,350.1Z" fill="#feed00" transform="translate(0,702.30)"/>
<path d="M188.1,343.8 L188.2,343.0 L188.5,342.2 L188.9,341.4 L189.5,340.6 L190.3,339.8 L191.3,339.0 L192.4,338.2 L193.7,337.4 L195.2,336.6 L196.9,335.8 L198.7,335.0 L200.7,334.2 L202.8,333.4 L205.1,332.6 L207.6,331.7 L210.2,330.9 L213.0,330.0 L215.9,329.2 L218.9,328.3 L222.1,327.4 L225.5,326.5 L228.9,325.7 L232.5,324.8 L236.2,323.9 L240.0,323.1 L244.0,322.2 L248.0,321.4 L252.1,320.6 L256.4,319.8 L260.7,319.0 L265.2,318.2 L269.7,317.5 L274.2,316.7 L278.9,316.0 L283.6,315.2 L288.4,314.5 L293.2,313.8 L298.1,313.1 L303.0,312.3 L307.9,311.6 L312.9,310.9 L317.9,310.2 L322.9,309.5 L327.9,308.8 L333.0,308.1 L338.0,307.4 L343.0,306.8 L348.0,306.3 L353.0,305.8 L357.9,305.4 L362.8,305.1 L367.7,304.9 L372.5,304.8 L377.3,304.7 L382.0,304.8 L386.7,304.9 L391.2,305.0 L395.7,305.3 L400.2,305.6 L404.5,305.9 L408.8,306.3 L412.9,306.7 L416.9,307.3 L420.9,307.9 L424.7,308.5 L428.4,309.3 L432.0,310.1 L435.4,311.0 L438.8,312.0 L442.0,313.1 L445.0,314.3 L447.9,315.5 L450.7,316.9 L453.3,318.3 L455.8,319.8 L458.1,321.4 L460.2,323.1 L462.2,324.8 L464.0,326.6 L465.7,328.4 L467.2,330.3 L468.5,332.2 L469.6,334.1 L470.6,336.0 L471.4,338.0 L472.0,339.9 L472.4,341.8 L472.7,343.7 L472.8,345.6 L472.7,347.6 L472.4,349.6 L472.0,351.4 L471.4,353.0 L470.6,354.6 L469.6,356.0 L468.5,357.3 L467.2,358.5 L465.7,359.6 L464.0,360.6 L462.2,361.6 L460.2,362.5 L458.1,363.3 L455.8,364.1 L453.3,364.8 L450.7,365.4 L447.9,366.0 L445.0,366.6 L442.0,367.1 L438.8,367.5 L435.4,367.9 L432.0,368.3 L428.4,368.6 L424.7,368.8 L420.9,369.0 L416.9,369.2 L412.9,369.3 L408.8,369.4 L404.5,369.5 L400.2,369.6 L395.7,369.7 L391.2,369.8 L386.7,369.8 L382.0,369.9 L377.3,369.9 L372.5,369.9 L367.7,369.8 L362.8,369.7 L357.9,369.5 L353.0,369.3 L348.0,369.0 L343.0,368.6 L338.0,368.2 L333.0,367.8 L327.9,367.4 L322.9,366.9 L317.9,366.5 L312.9,366.0 L307.9,365.5 L303.0,365.1 L298.1,364.6 L293.2,364.1 L288.4,363.7 L283.6,363.2 L278.9,362.7 L274.2,362.2 L269.7,361.7 L265.2,361.2 L260.7,360.7 L256.4,360.2 L252.1,359.7 L248.0,359.1 L244.0,358.6 L240.0,358.0 L236.2,357.4 L232.5,356.8 L228.9,356.2 L225.5,355.6 L222.1,355.0 L218.9,354.4 L215.9,353.8 L213.0,353.2 L210.2,352.6 L207.6,352.0 L205.1,351.5 L202.8,350.9 L200.7,350.3 L198.7,349.8 L196.9,349.2 L195.2,348.7 L193.7,348.1 L192.4,347.6 L191.3,347.0 L190.3,346.5 L189.5,346.0 L188.9,345.4 L188.5,344.9 L188.2,344.3Z" fill="#ffbd00" transform="translate(0,702.30)"/>
<path d="M228.2,343.8 L228.3,342.9 L228.5,341.9 L228.9,341.0 L229.4,340.0 L230.0,339.1 L230.8,338.2 L231.7,337.2 L232.8,336.3 L234.0,335.4 L235.4,334.5 L236.9,333.6 L238.5,332.8 L240.2,331.9 L242.1,331.1 L244.1,330.3 L246.3,329.5 L248.5,328.8 L250.9,328.0 L253.4,327.3 L256.0,326.6 L258.7,325.9 L261.6,325.2 L264.5,324.5 L267.5,323.9 L270.7,323.2 L273.9,322.6 L277.2,322.0 L280.6,321.4 L284.0,320.8 L287.6,320.2 L291.2,319.6 L294.9,319.0 L298.6,318.4 L302.4,317.8 L306.3,317.2 L310.2,316.6 L314.1,315.9 L318.1,315.3 L322.1,314.7 L326.2,314.0 L330.3,313.4 L334.3,312.7 L338.4,312.1 L342.5,311.5 L346.7,311.0 L350.8,310.5 L354.9,310.1 L358.9,309.7 L363.0,309.5 L367.1,309.3 L371.1,309.1 L375.1,309.1 L379.0,309.1 L382.9,309.2 L386.8,309.3 L390.6,309.5 L394.3,309.7 L398.0,310.1 L401.6,310.4 L405.2,310.8 L408.6,311.3 L412.0,311.8 L415.3,312.4 L418.5,313.0 L421.7,313.8 L424.7,314.6 L427.6,315.5 L430.5,316.6 L433.2,317.7 L435.8,318.9 L438.3,320.2 L440.7,321.6 L442.9,323.1 L445.1,324.6 L447.1,326.1 L449.0,327.7 L450.7,329.3 L452.3,330.9 L453.8,332.5 L455.2,334.0 L456.4,335.5 L457.5,336.9 L458.4,338.3 L459.2,339.6 L459.8,340.9 L460.3,342.1 L460.7,343.2 L460.9,344.3 L461.0,345.3 L460.9,346.5 L460.7,347.7 L460.3,348.9 L459.8,350.1 L459.2,351.3 L458.4,352.4 L457.5,353.6 L456.4,354.7 L455.2,355.8 L453.8,356.8 L452.3,357.9 L450.7,358.8 L449.0,359.8 L447.1,360.7 L445.1,361.5 L442.9,362.3 L440.7,363.0 L438.3,363.7 L435.8,364.2 L433.2,364.7 L430.5,365.2 L427.6,365.6 L424.7,365.9 L421.7,366.2 L418.5,366.4 L415.3,366.7 L412.0,366.9 L408.6,367.0 L405.2,367.2 L401.6,367.4 L398.0,367.5 L394.3,367.6 L390.6,367.8 L386.8,367.9 L382.9,368.0 L379.0,368.0 L375.1,368.1 L371.1,368.0 L367.1,368.0 L363.0,367.9 L358.9,367.7 L354.9,367.5 L350.8,367.2 L346.7,366.9 L342.5,366.6 L338.4,366.2 L334.3,365.8 L330.3,365.4 L326.2,365.0 L322.1,364.6 L318.1,364.2 L314.1,363.8 L310.2,363.5 L306.3,363.1 L302.4,362.8 L298.6,362.4 L294.9,362.1 L291.2,361.8 L287.6,361.4 L284.0,361.1 L280.6,360.7 L277.2,360.4 L273.9,360.0 L270.7,359.6 L267.5,359.3 L264.5,358.8 L261.6,358.4 L258.7,358.0 L256.0,357.5 L253.4,357.0 L250.9,356.5 L248.5,355.9 L246.3,355.3 L244.1,354.7 L242.1,354.1 L240.2,353.5 L238.5,352.8 L236.9,352.1 L235.4,351.4 L234.0,350.7 L232.8,349.9 L231.7,349.2 L230.8,348.4 L230.0,347.7 L229.4,346.9 L228.9,346.1 L228.5,345.4 L228.3,344.6Z" fill="#ff8900" transform="translate(0,702.30)"/>
<path d="M259.8,343.6 L259.9,342.7 L260.0,341.8 L260.3,341.0 L260.7,340.1 L261.3,339.3 L261.9,338.5 L262.7,337.6 L263.5,336.8 L264.5,336.0 L265.6,335.3 L266.8,334.5 L268.2,333.8 L269.6,333.0 L271.1,332.3 L272.8,331.6 L274.5,330.9 L276.3,330.3 L278.3,329.6 L280.3,328.9 L282.4,328.3 L284.6,327.7 L286.9,327.1 L289.3,326.4 L291.8,325.8 L294.3,325.2 L296.9,324.7 L299.6,324.1 L302.4,323.5 L305.2,322.9 L308.1,322.4 L311.0,321.8 L314.0,321.2 L317.0,320.7 L320.1,320.1 L323.3,319.6 L326.4,319.0 L329.6,318.5 L332.9,318.0 L336.1,317.5 L339.4,317.0 L342.7,316.5 L346.1,316.1 L349.4,315.7 L352.7,315.3 L356.1,314.9 L359.4,314.6 L362.7,314.4 L366.1,314.2 L369.4,314.0 L372.7,313.9 L375.9,313.8 L379.2,313.8 L382.4,313.9 L385.5,314.0 L388.7,314.1 L391.8,314.3 L394.8,314.5 L397.8,314.8 L400.7,315.2 L403.6,315.5 L406.4,316.0 L409.2,316.5 L411.9,317.1 L414.5,317.7 L417.0,318.4 L419.5,319.2 L421.9,320.0 L424.2,320.9 L426.4,321.9 L428.5,322.9 L430.5,324.0 L432.5,325.1 L434.3,326.3 L436.0,327.5 L437.7,328.7 L439.2,330.0 L440.6,331.2 L442.0,332.5 L443.2,333.7 L444.3,334.9 L445.3,336.1 L446.1,337.3 L446.9,338.4 L447.5,339.6 L448.1,340.7 L448.5,341.7 L448.8,342.8 L448.9,343.9 L449.0,344.9 L448.9,345.9 L448.8,347.0 L448.5,348.0 L448.1,349.1 L447.5,350.1 L446.9,351.1 L446.1,352.1 L445.3,353.1 L444.3,354.1 L443.2,355.0 L442.0,355.9 L440.6,356.7 L439.2,357.5 L437.7,358.3 L436.0,359.0 L434.3,359.7 L432.5,360.3 L430.5,360.9 L428.5,361.4 L426.4,361.9 L424.2,362.3 L421.9,362.8 L419.5,363.1 L417.0,363.5 L414.5,363.8 L411.9,364.1 L409.2,364.3 L406.4,364.5 L403.6,364.7 L400.7,364.9 L397.8,365.1 L394.8,365.2 L391.8,365.4 L388.7,365.5 L385.5,365.6 L382.4,365.7 L379.2,365.8 L375.9,365.8 L372.7,365.8 L369.4,365.8 L366.1,365.8 L362.7,365.7 L359.4,365.6 L356.1,365.5 L352.7,365.3 L349.4,365.1 L346.1,364.8 L342.7,364.5 L339.4,364.2 L336.1,363.9 L332.9,363.6 L329.6,363.2 L326.4,362.8 L323.3,362.4 L320.1,362.1 L317.0,361.6 L314.0,361.2 L311.0,360.8 L308.1,360.4 L305.2,360.0 L302.4,359.5 L299.6,359.1 L296.9,358.6 L294.3,358.2 L291.8,357.7 L289.3,357.2 L286.9,356.7 L284.6,356.3 L282.4,355.7 L280.3,355.2 L278.3,354.7 L276.3,354.2 L274.5,353.6 L272.8,353.1 L271.1,352.5 L269.6,351.9 L268.2,351.4 L266.8,350.8 L265.6,350.2 L264.5,349.5 L263.5,348.9 L262.7,348.3 L261.9,347.6 L261.3,347.0 L260.7,346.3 L260.3,345.7 L260.0,345.0 L259.9,344.3Z" fill="#ff5900" transform="translate(0,702.30)"/>
<path d="M287.6,344.4 L287.6,343.7 L287.8,342.9 L288.0,342.2 L288.3,341.5 L288.8,340.7 L289.3,340.0 L289.9,339.3 L290.5,338.6 L291.3,337.9 L292.2,337.2 L293.1,336.6 L294.2,335.9 L295.3,335.3 L296.5,334.6 L297.8,334.0 L299.1,333.4 L300.6,332.8 L302.1,332.2 L303.7,331.6 L305.3,331.0 L307.1,330.4 L308.9,329.9 L310.7,329.3 L312.7,328.8 L314.7,328.2 L316.7,327.7 L318.8,327.2 L321.0,326.7 L323.2,326.2 L325.5,325.8 L327.8,325.3 L330.1,324.8 L332.5,324.4 L334.9,324.0 L337.4,323.5 L339.9,323.2 L342.4,322.8 L344.9,322.4 L347.5,322.1 L350.1,321.8 L352.7,321.5 L355.3,321.2 L357.9,320.9 L360.5,320.7 L363.1,320.5 L365.7,320.4 L368.3,320.2 L370.9,320.1 L373.5,320.1 L376.1,320.0 L378.7,320.0 L381.2,320.1 L383.7,320.2 L386.2,320.3 L388.7,320.5 L391.1,320.7 L393.5,320.9 L395.8,321.2 L398.1,321.6 L400.4,321.9 L402.6,322.4 L404.8,322.8 L406.9,323.4 L408.9,323.9 L410.9,324.5 L412.9,325.2 L414.7,325.9 L416.5,326.6 L418.3,327.4 L419.9,328.2 L421.5,329.0 L423.0,329.9 L424.5,330.8 L425.8,331.7 L427.1,332.6 L428.3,333.5 L429.4,334.5 L430.5,335.4 L431.4,336.3 L432.3,337.2 L433.1,338.0 L433.7,338.9 L434.3,339.7 L434.8,340.6 L435.3,341.4 L435.6,342.2 L435.8,343.0 L436.0,343.8 L436.0,344.6 L436.0,345.5 L435.8,346.3 L435.6,347.2 L435.3,348.1 L434.8,349.0 L434.3,349.9 L433.7,350.7 L433.1,351.6 L432.3,352.4 L431.4,353.2 L430.5,354.0 L429.4,354.7 L428.3,355.5 L427.1,356.1 L425.8,356.8 L424.5,357.4 L423.0,358.0 L421.5,358.5 L419.9,359.0 L418.3,359.4 L416.5,359.8 L414.7,360.2 L412.9,360.5 L410.9,360.8 L408.9,361.1 L406.9,361.4 L404.8,361.6 L402.6,361.8 L400.4,362.0 L398.1,362.2 L395.8,362.4 L393.5,362.5 L391.1,362.7 L388.7,362.8 L386.2,362.9 L383.7,363.0 L381.2,363.1 L378.7,363.2 L376.1,363.3 L373.5,363.3 L370.9,363.3 L368.3,363.3 L365.7,363.3 L363.1,363.2 L360.5,363.1 L357.9,363.0 L355.3,362.9 L352.7,362.7 L350.1,362.5 L347.5,362.3 L344.9,362.1 L342.4,361.8 L339.9,361.5 L337.4,361.3 L334.9,361.0 L332.5,360.6 L330.1,360.3 L327.8,359.9 L325.5,359.6 L323.2,359.2 L321.0,358.8 L318.8,358.4 L316.7,358.0 L314.7,357.6 L312.7,357.2 L310.7,356.7 L308.9,356.3 L307.1,355.8 L305.3,355.4 L303.7,354.9 L302.1,354.4 L300.6,353.9 L299.1,353.4 L297.8,352.9 L296.5,352.4 L295.3,351.9 L294.2,351.3 L293.1,350.8 L292.2,350.3 L291.3,349.7 L290.5,349.1 L289.9,348.6 L289.3,348.0 L288.8,347.4 L288.3,346.8 L288.0,346.2 L287.8,345.6 L287.6,345.0Z" fill="#ff2500" transform="translate(0,702.30)"/>
<path d="M315.6,344.6 L315.6,344.0 L315.7,343.5 L315.9,342.9 L316.1,342.4 L316.4,341.8 L316.8,341.3 L317.2,340.7 L317.7,340.2 L318.2,339.6 L318.8,339.1 L319.5,338.6 L320.3,338.0 L321.1,337.5 L321.9,337.0 L322.8,336.5 L323.8,336.0 L324.8,335.5 L325.9,335.0 L327.0,334.5 L328.2,334.1 L329.4,333.6 L330.7,333.2 L332.0,332.7 L333.4,332.3 L334.8,331.9 L336.3,331.5 L337.8,331.2 L339.3,330.8 L340.9,330.5 L342.5,330.1 L344.1,329.8 L345.8,329.5 L347.5,329.3 L349.2,329.0 L351.0,328.8 L352.7,328.6 L354.5,328.5 L356.3,328.3 L358.1,328.2 L360.0,328.1 L361.8,328.0 L363.7,328.0 L365.5,328.0 L367.4,328.0 L369.2,328.0 L371.1,328.1 L372.9,328.1 L374.8,328.2 L376.6,328.3 L378.5,328.4 L380.3,328.6 L382.1,328.7 L383.9,328.9 L385.6,329.1 L387.4,329.3 L389.1,329.6 L390.8,329.9 L392.5,330.2 L394.1,330.5 L395.7,330.9 L397.3,331.3 L398.8,331.8 L400.3,332.2 L401.8,332.7 L403.2,333.2 L404.6,333.8 L405.9,334.3 L407.2,334.8 L408.4,335.4 L409.6,336.0 L410.7,336.6 L411.8,337.1 L412.8,337.7 L413.8,338.2 L414.7,338.8 L415.5,339.3 L416.3,339.7 L417.1,340.2 L417.8,340.6 L418.4,341.0 L418.9,341.4 L419.4,341.8 L419.8,342.2 L420.2,342.5 L420.5,342.9 L420.7,343.3 L420.9,343.7 L421.0,344.0 L421.0,344.4 L421.0,345.0 L420.9,345.6 L420.7,346.2 L420.5,346.8 L420.2,347.4 L419.8,348.0 L419.4,348.6 L418.9,349.2 L418.4,349.7 L417.8,350.3 L417.1,350.8 L416.3,351.3 L415.5,351.8 L414.7,352.3 L413.8,352.7 L412.8,353.2 L411.8,353.6 L410.7,354.1 L409.6,354.5 L408.4,354.9 L407.2,355.3 L405.9,355.7 L404.6,356.1 L403.2,356.5 L401.8,356.8 L400.3,357.1 L398.8,357.4 L397.3,357.7 L395.7,358.0 L394.1,358.2 L392.5,358.4 L390.8,358.6 L389.1,358.8 L387.4,358.9 L385.6,359.1 L383.9,359.2 L382.1,359.3 L380.3,359.3 L378.5,359.4 L376.6,359.5 L374.8,359.5 L372.9,359.6 L371.1,359.6 L369.2,359.7 L367.4,359.7 L365.5,359.7 L363.7,359.7 L361.8,359.7 L360.0,359.7 L358.1,359.7 L356.3,359.7 L354.5,359.6 L352.7,359.6 L351.0,359.5 L349.2,359.4 L347.5,359.2 L345.8,359.1 L344.1,358.9 L342.5,358.8 L340.9,358.6 L339.3,358.3 L337.8,358.1 L336.3,357.8 L334.8,357.6 L333.4,357.2 L332.0,356.9 L330.7,356.6 L329.4,356.2 L328.2,355.8 L327.0,355.4 L325.9,354.9 L324.8,354.5 L323.8,354.0 L322.8,353.5 L321.9,353.0 L321.1,352.5 L320.3,351.9 L319.5,351.4 L318.8,350.8 L318.2,350.2 L317.7,349.6 L317.2,349.0 L316.8,348.4 L316.4,347.7 L316.1,347.1 L315.9,346.5 L315.7,345.9 L315.6,345.2Z" fill="#da0000" transform="translate(0,702.30)"/>
<path d="M347.6,345.0 L347.6,344.7 L347.7,344.5 L347.7,344.2 L347.8,343.9 L348.0,343.7 L348.1,343.4 L348.3,343.1 L348.5,342.9 L348.8,342.6 L349.1,342.4 L349.4,342.1 L349.7,341.9 L350.0,341.6 L350.4,341.4 L350.8,341.2 L351.3,340.9 L351.7,340.7 L352.2,340.5 L352.7,340.3 L353.3,340.1 L353.8,339.9 L354.4,339.7 L355.0,339.5 L355.6,339.3 L356.2,339.1 L356.9,339.0 L357.6,338.8 L358.2,338.7 L358.9,338.5 L359.7,338.4 L360.4,338.3 L361.2,338.1 L361.9,338.0 L362.7,337.9 L363.5,337.8 L364.3,337.7 L365.1,337.7 L365.9,337.6 L366.7,337.5 L367.5,337.5 L368.3,337.5 L369.2,337.4 L370.0,337.4 L370.8,337.4 L371.7,337.4 L372.5,337.4 L373.3,337.4 L374.2,337.5 L375.0,337.5 L375.8,337.5 L376.6,337.6 L377.4,337.7 L378.2,337.7 L379.0,337.8 L379.8,337.9 L380.6,338.0 L381.3,338.1 L382.1,338.2 L382.8,338.4 L383.6,338.5 L384.3,338.6 L384.9,338.8 L385.6,338.9 L386.3,339.1 L386.9,339.3 L387.5,339.5 L388.1,339.7 L388.7,339.9 L389.2,340.1 L389.8,340.3 L390.3,340.5 L390.8,340.7 L391.2,340.9 L391.7,341.1 L392.1,341.4 L392.5,341.6 L392.8,341.9 L393.1,342.1 L393.4,342.4 L393.7,342.6 L394.0,342.9 L394.2,343.1 L394.4,343.4 L394.5,343.7 L394.7,343.9 L394.8,344.2 L394.8,344.5 L394.9,344.7 L394.9,345.0 L394.9,345.3 L394.8,345.5 L394.8,345.8 L394.7,346.1 L394.5,346.3 L394.4,346.6 L394.2,346.9 L394.0,347.1 L393.7,347.4 L393.4,347.6 L393.1,347.9 L392.8,348.1 L392.5,348.4 L392.1,348.6 L391.7,348.9 L391.2,349.1 L390.8,349.3 L390.3,349.5 L389.8,349.7 L389.2,349.9 L388.7,350.1 L388.1,350.3 L387.5,350.5 L386.9,350.7 L386.3,350.9 L385.6,351.1 L384.9,351.2 L384.3,351.4 L383.6,351.5 L382.8,351.6 L382.1,351.8 L381.3,351.9 L380.6,352.0 L379.8,352.1 L379.0,352.2 L378.2,352.3 L377.4,352.3 L376.6,352.4 L375.8,352.5 L375.0,352.5 L374.2,352.5 L373.3,352.6 L372.5,352.6 L371.7,352.6 L370.8,352.6 L370.0,352.6 L369.2,352.6 L368.3,352.5 L367.5,352.5 L366.7,352.5 L365.9,352.4 L365.1,352.3 L364.3,352.3 L363.5,352.2 L362.7,352.1 L361.9,352.0 L361.2,351.9 L360.4,351.7 L359.7,351.6 L358.9,351.5 L358.2,351.3 L357.6,351.2 L356.9,351.0 L356.2,350.9 L355.6,350.7 L355.0,350.5 L354.4,350.3 L353.8,350.1 L353.3,349.9 L352.7,349.7 L352.2,349.5 L351.7,349.3 L351.3,349.1 L350.8,348.8 L350.4,348.6 L350.0,348.4 L349.7,348.1 L349.4,347.9 L349.1,347.6 L348.8,347.4 L348.5,347.1 L348.3,346.9 L348.1,346.6 L348.0,346.3 L347.8,346.1 L347.7,345.8 L347.7,345.5 L347.6,345.3Z" fill="#9b0000" transform="translate(0,702.30)"/>
</g></g>
<rect x="119.8" y="738.5999999999999" width="703.8000000000001" height="602.5999999999999" fill="none" stroke="#000" stroke-width="1.6"/>
<line x1="119.80" y1="1341.1999999999998" x2="119.80" y2="1348.9999999999998" stroke="#000" stroke-width="1.6"/>
<text x="119.80" y="1377.80" font-size="28.7" font-family="DejaVu Sans, Liberation Sans, sans-serif" text-anchor="middle" letter-spacing="0.5" >0.00</text>
<line x1="119.8" y1="1341.20" x2="112.0" y2="1341.20" stroke="#000" stroke-width="1.6"/>
<text x="105.20" y="1351.80" font-size="28.7" font-family="DejaVu Sans, Liberation Sans, sans-serif" text-anchor="end" letter-spacing="0.5" >0.00</text>
<line x1="255.70" y1="1341.1999999999998" x2="255.70" y2="1348.9999999999998" stroke="#000" stroke-width="1.6"/>
<text x="255.70" y="1377.80" font-size="28.7" font-family="DejaVu Sans, Liberation Sans, sans-serif" text-anchor="middle" letter-spacing="0.5" >0.02</text>
<line x1="119.8" y1="1226.96" x2="112.0" y2="1226.96" stroke="#000" stroke-width="1.6"/>
<text x="105.20" y="1237.56" font-size="28.7" font-family="DejaVu Sans, Liberation Sans, sans-serif" text-anchor="end" letter-spacing="0.5" >0.02</text>
<line x1="391.60" y1="1341.1999999999998" x2="391.60" y2="1348.9999999999998" stroke="#000" stroke-width="1.6"/>
<text x="391.60" y="1377.80" font-size="28.7" font-family="DejaVu Sans, Liberation Sans, sans-serif" text-anchor="middle" letter-spacing="0.5" >0.04</text>
<line x1="119.8" y1="1112.72" x2="112.0" y2="1112.72" stroke="#000" stroke-width="1.6"/>
<text x="105.20" y="1123.32" font-size="28.7" font-family="DejaVu Sans, Liberation Sans, sans-serif" text-anchor="end" letter-spacing="0.5" >0.04</text>
<line x1="527.50" y1="1341.1999999999998" x2="527.50" y2="1348.9999999999998" stroke="#000" stroke-width="1.6"/>
<text x="527.50" y="1377.80" font-size="28.7" font-family="DejaVu Sans, Liberation Sans, sans-serif" text-anchor="middle" letter-spacing="0.5" >0.06</text>
<line x1="119.8" y1="998.48" x2="112.0" y2="998.48" stroke="#000" stroke-width="1.6"/>
<text x="105.20" y="1009.08" font-size="28.7" font-family="DejaVu Sans, Liberation Sans, sans-serif" text-anchor="end" letter-spacing="0.5" >0.06</text>
<line x1="663.40" y1="1341.1999999999998" x2="663.40" y2="1348.9999999999998" stroke="#000" stroke-width="1.6"/>
<text x="663.40" y="1377.80" font-size="28.7" font-family="DejaVu Sans, Liberation Sans, sans-serif" text-anchor="middle" letter-spacing="0.5" >0.08</text>
<line x1="119.8" y1="884.24" x2="112.0" y2="884.24" stroke="#000" stroke-width="1.6"/>
<text x="105.20" y="894.84" font-size="28.7" font-family="DejaVu Sans, Liberation Sans, sans-serif" text-anchor="end" letter-spacing="0.5" >0.08</text>
<line x1="799.30" y1="1341.1999999999998" x2="799.30" y2="1348.9999999999998" stroke="#000" stroke-width="1.6"/>
<text x="799.30" y="1377.80" font-size="28.7" font-family="DejaVu Sans, Liberation Sans, sans-serif" text-anchor="middle" letter-spacing="0.5" >0.10</text>
<line x1="119.8" y1="770.00" x2="112.0" y2="770.00" stroke="#000" stroke-width="1.6"/>
<text x="105.20" y="780.60" font-size="28.7" font-family="DejaVu Sans, Liberation Sans, sans-serif" text-anchor="end" letter-spacing="0.5" >0.10</text>
<text x="471.70" y="1415.00" font-size="28.7" font-family="DejaVu Sans, Liberation Sans, sans-serif" text-anchor="middle" letter-spacing="0.5" >R (m)</text>
<text transform="translate(24.1,1039.90) rotate(-90)" font-size="28.7" font-family="DejaVu Sans, Liberation Sans, sans-serif" text-anchor="middle" letter-spacing="0.5">Z (m)</text>
<rect x="868.0" y="1309.48" width="29.0" height="32.22" fill="#00009b"/>
<rect x="868.0" y="1277.77" width="29.0" height="32.22" fill="#0000da"/>
<rect x="868.0" y="1246.05" width="29.0" height="32.22" fill="#0004ff"/>
<rect x="868.0" y="1214.34" width="29.0" height="32.22" fill="#003cff"/>
<rect x="868.0" y="1182.62" width="29.0" height="32.22" fill="#0070ff"/>
<rect x="868.0" y="1150.91" width="29.0" height="32.22" fill="#00a8ff"/>
<rect x="868.0" y="1119.19" width="29.0" height="32.22" fill="#00dcfe"/>
<rect x="868.0" y="1087.47" width="29.0" height="32.22" fill="#26ffd1"/>
<rect x="868.0" y="1055.76" width="29.0" height="32.22" fill="#50ffa7"/>
<rect x="868.0" y="1024.04" width="29.0" height="32.22" fill="#7dff7a"/>
<rect x="868.0" y="992.33" width="29.0" height="32.22" fill="#a7ff50"/>
<rect x="868.0" y="960.61" width="29.0" height="32.22" fill="#d1ff26"/>
<rect x="868.0" y="928.89" width="29.0" height="32.22" fill="#feed00"/>
<rect x="868.0" y="897.18" width="29.0" height="32.22" fill="#ffbd00"/>
<rect x="868.0" y="865.46" width="29.0" height="32.22" fill="#ff8900"/>
<rect x="868.0" y="833.75" width="29.0" height="32.22" fill="#ff5900"/>
<rect x="868.0" y="802.03" width="29.0" height="32.22" fill="#ff2500"/>
<rect x="868.0" y="770.32" width="29.0" height="32.22" fill="#da0000"/>
<rect x="868.0" y="738.60" width="29.0" height="32.22" fill="#9b0000"/>
<rect x="868.0" y="738.5999999999999" width="29.0" height="602.5999999999999" fill="none" stroke="#000" stroke-width="1.6"/>
<line x1="897.0" y1="1341.20" x2="904.8" y2="1341.20" stroke="#000" stroke-width="1.6"/>
<text x="911.20" y="1351.80" font-size="28.7" font-family="DejaVu Sans, Liberation Sans, sans-serif" text-anchor="start" letter-spacing="0.5" >0.000</text>
<line x1="897.0" y1="1277.77" x2="904.8" y2="1277.77" stroke="#000" stroke-width="1.6"/>
<text x="911.20" y="1288.37" font-size="28.7" font-family="DejaVu Sans, Liberation Sans, sans-serif" text-anchor="start" letter-spacing="0.5" >0.295</text>
<line x1="897.0" y1="1214.34" x2="904.8" y2="1214.34" stroke="#000" stroke-width="1.6"/>
<text x="911.20" y="1224.94" font-size="28.7" font-family="DejaVu Sans, Liberation Sans, sans-serif" text-anchor="start" letter-spacing="0.5" >0.589</text>
<line x1="897.0" y1="1150.91" x2="904.8" y2="1150.91" stroke="#000" stroke-width="1.6"/>
<text x="911.20" y="1161.51" font-size="28.7" font-family="DejaVu Sans, Liberation Sans, sans-serif" text-anchor="start" letter-spacing="0.5" >0.884</text>
<line x1="897.0" y1="1087.47" x2="904.8" y2="1087.47" stroke="#000" stroke-width="1.6"/>
<text x="911.20" y="1098.07" font-size="28.7" font-family="DejaVu Sans, Liberation Sans, sans-serif" text-anchor="start" letter-spacing="0.5" >1.179</text>
<line x1="897.0" y1="1024.04" x2="904.8" y2="1024.04" stroke="#000" stroke-width="1.6"/>
<text x="911.20" y="1034.64" font-size="28.7" font-family="DejaVu Sans, Liberation Sans, sans-serif" text-anchor="start" letter-spacing="0.5" >1.474</text>
<line x1="897.0" y1="960.61" x2="904.8" y2="960.61" stroke="#000" stroke-width="1.6"/>
<text x="911.20" y="971.21" font-size="28.7" font-family="DejaVu Sans, Liberation Sans, sans-serif" text-anchor="start" letter-spacing="0.5" >1.768</text>
<line x1="897.0" y1="897.18" x2="904.8" y2="897.18" stroke="#000" stroke-width="1.6"/>
<text x="911.20" y="907.78" font-size="28.7" font-family="DejaVu Sans, Liberation Sans, sans-serif" text-anchor="start" letter-spacing="0.5" >2.063</text>
<line x1="897.0" y1="833.75" x2="904.8" y2="833.75" stroke="#000" stroke-width="1.6"/>
<text x="911.20" y="844.35" font-size="28.7" font-family="DejaVu Sans, Liberation Sans, sans-serif" text-anchor="start" letter-spacing="0.5" >2.358</text>
<line x1="897.0" y1="770.32" x2="904.8" y2="770.32" stroke="#000" stroke-width="1.6"/>
<text x="911.20" y="780.92" font-size="28.7" font-family="DejaVu Sans, Liberation Sans, sans-serif" text-anchor="start" letter-spacing="0.5" >2.653</text>
<text x="143.0" y="790.1" font-size="33" font-family="Liberation Sans, sans-serif">(b)</text>
<text x="203" y="791.2" font-size="46.4" font-family="Liberation Serif, serif">w/ ionization</text>
<text x="206" y="847.1" font-size="46.4" font-family="Liberation Serif, serif">by Ar<tspan dy="-12.8" font-size="35">+</tspan></text>
</svg></body></html>
